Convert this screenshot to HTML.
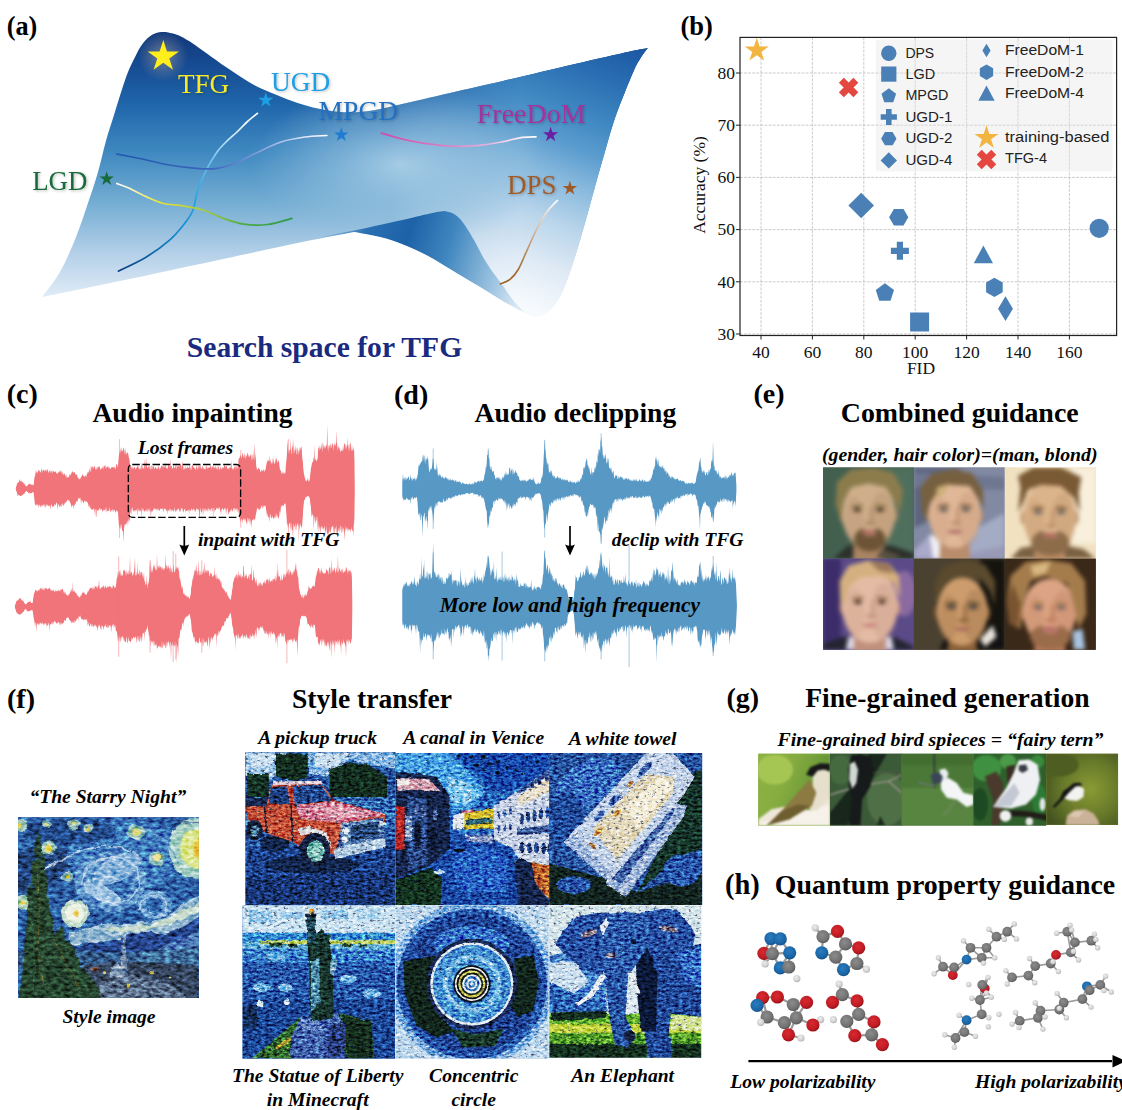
<!DOCTYPE html>
<html><head><meta charset="utf-8"><title>Figure</title>
<style>
html,body{margin:0;padding:0;background:#fff;}
body{width:1122px;height:1110px;overflow:hidden;font-family:"Liberation Serif",serif;}
svg{display:block;position:absolute;left:0;top:0;}
text{font-family:"Liberation Serif",serif;}
.b{font-weight:bold;}
.bi{font-weight:bold;font-style:italic;}
.sans{font-family:"Liberation Sans",sans-serif;}
</style></head><body>
<svg width="1122" height="1110" viewBox="0 0 1122 1110">
<defs>
<linearGradient id="a_v" x1="0" y1="32" x2="0" y2="316" gradientUnits="userSpaceOnUse">
<stop offset="0" stop-color="#10387a"/>
<stop offset="0.10" stop-color="#15488f"/>
<stop offset="0.25" stop-color="#1f65aa"/>
<stop offset="0.42" stop-color="#3e88c0"/>
<stop offset="0.60" stop-color="#74add3"/>
<stop offset="0.78" stop-color="#b4d0e8"/>
<stop offset="1" stop-color="#f4f8fd"/>
</linearGradient>
<radialGradient id="a_mid" cx="400" cy="165" r="150" gradientUnits="userSpaceOnUse" gradientTransform="translate(400 165) scale(1 0.55) translate(-400 -165)">
<stop offset="0" stop-color="#b4d5ea" stop-opacity="0.85"/>
<stop offset="0.6" stop-color="#9cc6e2" stop-opacity="0.4"/>
<stop offset="1" stop-color="#8fbddc" stop-opacity="0"/>
</radialGradient>
<linearGradient id="a_right" x1="648" y1="48" x2="540" y2="316" gradientUnits="userSpaceOnUse">
<stop offset="0" stop-color="#1a56a2"/>
<stop offset="0.15" stop-color="#2a6eb2"/>
<stop offset="0.3" stop-color="#3f88c2"/>
<stop offset="0.42" stop-color="#5c9dcf"/>
<stop offset="0.53" stop-color="#86b8dd"/>
<stop offset="0.68" stop-color="#b9d5eb"/>
<stop offset="0.83" stop-color="#dfeaf5"/>
<stop offset="1" stop-color="#f8fbfe"/>
</linearGradient>
<linearGradient id="a_rmask_g" x1="390" y1="0" x2="520" y2="0" gradientUnits="userSpaceOnUse">
<stop offset="0" stop-color="#fff" stop-opacity="0"/>
<stop offset="1" stop-color="#fff" stop-opacity="1"/>
</linearGradient>
<mask id="a_rmask"><rect x="0" y="0" width="700" height="340" fill="url(#a_rmask_g)"/></mask>
<linearGradient id="a_under" x1="320" y1="236" x2="520" y2="300" gradientUnits="userSpaceOnUse">
<stop offset="0" stop-color="#3a7fbc" stop-opacity="0"/>
<stop offset="0.2" stop-color="#2a70b2"/>
<stop offset="0.4" stop-color="#1d62a8"/>
<stop offset="0.6" stop-color="#3f86bf"/>
<stop offset="0.85" stop-color="#9cc3e0"/>
<stop offset="1" stop-color="#dbe9f5"/>
</linearGradient>
<radialGradient id="a_glow" cx="163" cy="56" r="25" gradientUnits="userSpaceOnUse">
<stop offset="0" stop-color="#d8b8a0" stop-opacity="0.45"/>
<stop offset="1" stop-color="#d8b8a0" stop-opacity="0"/>
</radialGradient>
<filter id="a_ts" x="-20%" y="-20%" width="140%" height="140%"><feGaussianBlur stdDeviation="1.6"/></filter>
<clipPath id="a_clip"><path d="M42.0,297.0 C45.0,292.8 54.3,282.0 60.0,272.0 C65.7,262.0 71.3,248.5 76.0,237.0 C80.7,225.5 84.3,213.8 88.0,203.0 C91.7,192.2 95.0,182.5 98.0,172.0 C101.0,161.5 103.5,149.5 106.2,140.0 C108.9,130.5 111.5,123.1 114.0,115.0 C116.5,106.9 119.1,98.5 121.4,91.3 C123.7,84.1 125.6,77.9 128.0,72.0 C130.4,66.1 133.5,60.0 135.7,55.7 C137.9,51.4 138.9,49.0 141.0,46.0 C143.1,43.0 145.7,39.9 148.0,37.8 C150.3,35.7 152.4,34.5 155.0,33.5 C157.6,32.5 160.8,32.2 163.3,32.1 C165.8,32.0 167.5,32.5 170.0,33.0 C172.5,33.5 175.2,33.9 178.4,35.2 C181.6,36.5 185.4,38.8 189.0,41.0 C192.6,43.2 193.8,44.3 199.8,48.5 C205.8,52.7 216.8,60.8 224.8,66.3 C232.8,71.8 240.9,77.3 248.0,81.5 C255.1,85.7 258.9,87.6 267.6,91.3 C276.3,95.0 290.4,100.7 300.0,103.8 C309.6,106.9 316.7,108.5 325.0,110.0 C333.3,111.5 341.7,112.5 350.0,112.5 C358.3,112.5 367.0,111.2 375.0,110.0 C383.0,108.8 385.5,107.8 398.0,105.0 C410.5,102.2 432.5,97.0 450.0,93.0 C467.5,89.0 482.2,85.8 503.0,81.0 C523.8,76.2 553.8,68.9 575.0,64.0 C596.2,59.1 617.8,54.2 630.0,51.5 C642.2,48.8 645.0,48.6 648.0,48.0 C647.3,48.8 645.3,51.2 644.0,53.0 C642.7,54.8 641.5,56.5 640.0,59.0 C638.5,61.5 637.5,62.5 635.0,68.0 C632.5,73.5 628.3,83.7 625.0,92.0 C621.7,100.3 618.2,108.7 615.0,118.0 C611.8,127.3 608.8,138.3 606.0,148.0 C603.2,157.7 600.7,166.5 598.0,176.0 C595.3,185.5 592.8,194.8 590.0,205.0 C587.2,215.2 583.8,227.3 581.0,237.0 C578.2,246.7 575.8,254.5 573.0,263.0 C570.2,271.5 566.8,281.3 564.0,288.0 C561.2,294.7 558.7,299.0 556.0,303.0 C553.3,307.0 550.7,309.8 548.0,312.0 C545.3,314.2 542.5,315.3 540.0,316.0 C537.5,316.7 535.5,316.5 533.0,316.0 C530.5,315.5 526.3,313.5 525.0,313.0 C521.8,311.3 512.2,306.5 506.0,303.0 C499.8,299.5 496.7,297.2 488.0,292.0 C479.3,286.8 464.0,277.6 454.0,271.6 C444.0,265.6 436.5,260.5 428.0,256.0 C419.5,251.5 411.0,247.7 403.0,244.5 C395.0,241.3 388.2,239.1 380.0,237.0 C371.8,234.9 358.3,232.8 354.0,232.0 C345.0,233.8 325.7,237.2 300.0,242.5 C274.3,247.8 230.0,257.6 200.0,264.0 C170.0,270.4 146.3,275.5 120.0,281.0 C93.7,286.5 55.0,294.3 42.0,297.0Z"/></clipPath>
</defs>
<path d="M42.0,297.0 C45.0,292.8 54.3,282.0 60.0,272.0 C65.7,262.0 71.3,248.5 76.0,237.0 C80.7,225.5 84.3,213.8 88.0,203.0 C91.7,192.2 95.0,182.5 98.0,172.0 C101.0,161.5 103.5,149.5 106.2,140.0 C108.9,130.5 111.5,123.1 114.0,115.0 C116.5,106.9 119.1,98.5 121.4,91.3 C123.7,84.1 125.6,77.9 128.0,72.0 C130.4,66.1 133.5,60.0 135.7,55.7 C137.9,51.4 138.9,49.0 141.0,46.0 C143.1,43.0 145.7,39.9 148.0,37.8 C150.3,35.7 152.4,34.5 155.0,33.5 C157.6,32.5 160.8,32.2 163.3,32.1 C165.8,32.0 167.5,32.5 170.0,33.0 C172.5,33.5 175.2,33.9 178.4,35.2 C181.6,36.5 185.4,38.8 189.0,41.0 C192.6,43.2 193.8,44.3 199.8,48.5 C205.8,52.7 216.8,60.8 224.8,66.3 C232.8,71.8 240.9,77.3 248.0,81.5 C255.1,85.7 258.9,87.6 267.6,91.3 C276.3,95.0 290.4,100.7 300.0,103.8 C309.6,106.9 316.7,108.5 325.0,110.0 C333.3,111.5 341.7,112.5 350.0,112.5 C358.3,112.5 367.0,111.2 375.0,110.0 C383.0,108.8 385.5,107.8 398.0,105.0 C410.5,102.2 432.5,97.0 450.0,93.0 C467.5,89.0 482.2,85.8 503.0,81.0 C523.8,76.2 553.8,68.9 575.0,64.0 C596.2,59.1 617.8,54.2 630.0,51.5 C642.2,48.8 645.0,48.6 648.0,48.0 C647.3,48.8 645.3,51.2 644.0,53.0 C642.7,54.8 641.5,56.5 640.0,59.0 C638.5,61.5 637.5,62.5 635.0,68.0 C632.5,73.5 628.3,83.7 625.0,92.0 C621.7,100.3 618.2,108.7 615.0,118.0 C611.8,127.3 608.8,138.3 606.0,148.0 C603.2,157.7 600.7,166.5 598.0,176.0 C595.3,185.5 592.8,194.8 590.0,205.0 C587.2,215.2 583.8,227.3 581.0,237.0 C578.2,246.7 575.8,254.5 573.0,263.0 C570.2,271.5 566.8,281.3 564.0,288.0 C561.2,294.7 558.7,299.0 556.0,303.0 C553.3,307.0 550.7,309.8 548.0,312.0 C545.3,314.2 542.5,315.3 540.0,316.0 C537.5,316.7 535.5,316.5 533.0,316.0 C530.5,315.5 526.3,313.5 525.0,313.0 C521.8,311.3 512.2,306.5 506.0,303.0 C499.8,299.5 496.7,297.2 488.0,292.0 C479.3,286.8 464.0,277.6 454.0,271.6 C444.0,265.6 436.5,260.5 428.0,256.0 C419.5,251.5 411.0,247.7 403.0,244.5 C395.0,241.3 388.2,239.1 380.0,237.0 C371.8,234.9 358.3,232.8 354.0,232.0 C345.0,233.8 325.7,237.2 300.0,242.5 C274.3,247.8 230.0,257.6 200.0,264.0 C170.0,270.4 146.3,275.5 120.0,281.0 C93.7,286.5 55.0,294.3 42.0,297.0Z" fill="url(#a_v)"/>
<g clip-path="url(#a_clip)"><rect x="0" y="0" width="700" height="340" fill="url(#a_right)" mask="url(#a_rmask)"/>
<rect x="200" y="60" width="420" height="220" fill="url(#a_mid)"/>
<path d="M300.0,241.0 C309.0,239.2 337.3,233.9 354.0,230.5 C370.7,227.1 387.3,223.3 400.0,220.5 C412.7,217.7 422.7,215.1 430.0,213.5 C437.3,211.9 441.7,211.4 444.0,211.0 C445.3,211.3 449.7,212.0 452.0,213.0 C454.3,214.0 456.0,215.2 458.0,217.0 C460.0,218.8 461.3,220.2 464.0,224.0 C466.7,227.8 470.8,234.5 474.0,240.0 C477.2,245.5 480.0,251.8 483.0,257.0 C486.0,262.2 489.0,266.7 492.0,271.0 C495.0,275.3 497.5,278.2 501.0,283.0 C504.5,287.8 509.0,295.0 513.0,300.0 C517.0,305.0 523.0,310.8 525.0,313.0 C521.8,311.3 512.2,306.5 506.0,303.0 C499.8,299.5 496.7,297.2 488.0,292.0 C479.3,286.8 464.0,277.6 454.0,271.6 C444.0,265.6 436.5,260.5 428.0,256.0 C419.5,251.5 411.0,247.7 403.0,244.5 C395.0,241.3 388.2,239.1 380.0,237.0 C371.8,234.9 358.3,232.8 354.0,232.0 L300,242.5 Z" fill="url(#a_under)"/>
<circle cx="163" cy="56" r="30" fill="url(#a_glow)"/>
</g>
<defs>
<linearGradient id="a_g_ugd" x1="257.4" y1="113.4" x2="118.5" y2="271" gradientUnits="userSpaceOnUse"><stop offset="0" stop-color="#ffffff"/><stop offset="0.12" stop-color="#e6f3fb"/><stop offset="0.3" stop-color="#7cc6ee"/><stop offset="0.5" stop-color="#22a3e2"/><stop offset="0.7" stop-color="#1585c8"/><stop offset="1" stop-color="#0b3f82"/></linearGradient>
<linearGradient id="a_g_mpgd" x1="326.8" y1="135.5" x2="116.8" y2="154" gradientUnits="userSpaceOnUse"><stop offset="0" stop-color="#ffffff"/><stop offset="0.1" stop-color="#dfe8f8"/><stop offset="0.3" stop-color="#8ba6de"/><stop offset="0.55" stop-color="#3d66bd"/><stop offset="1" stop-color="#1f55ab"/></linearGradient>
<linearGradient id="a_g_lgd" x1="116.8" y1="183.5" x2="291.9" y2="218.4" gradientUnits="userSpaceOnUse"><stop offset="0" stop-color="#ffffff"/><stop offset="0.08" stop-color="#f6f6c8"/><stop offset="0.25" stop-color="#e6e23a"/><stop offset="0.5" stop-color="#a8cc3c"/><stop offset="0.75" stop-color="#4caa48"/><stop offset="1" stop-color="#2f9a48"/></linearGradient>
<linearGradient id="a_g_fdm" x1="381.3" y1="133.1" x2="536" y2="136.8" gradientUnits="userSpaceOnUse"><stop offset="0" stop-color="#cf4aa8"/><stop offset="0.4" stop-color="#d77fc4"/><stop offset="0.7" stop-color="#e3b4dc"/><stop offset="0.9" stop-color="#f7eef7"/><stop offset="1" stop-color="#ffffff"/></linearGradient>
<linearGradient id="a_g_dps" x1="557.4" y1="200.5" x2="500.5" y2="283.8" gradientUnits="userSpaceOnUse"><stop offset="0" stop-color="#ffffff"/><stop offset="0.15" stop-color="#efe4da"/><stop offset="0.45" stop-color="#c9a888"/><stop offset="0.75" stop-color="#a87340"/><stop offset="1" stop-color="#9a6426"/></linearGradient>
<filter id="a_sh" x="-10%" y="-30%" width="120%" height="160%"><feGaussianBlur in="SourceAlpha" stdDeviation="1.4" result="b"/><feOffset in="b" dx="0.6" dy="0.8" result="o"/><feComponentTransfer in="o" result="s"><feFuncA type="linear" slope="0.28"/></feComponentTransfer><feMerge><feMergeNode in="s"/><feMergeNode in="SourceGraphic"/></feMerge></filter>
</defs>
<path d="M257.4,113.4 C255.7,114.8 250.4,118.9 247.0,122.0 C243.6,125.1 240.5,128.7 237.0,132.0 C233.5,135.3 229.4,138.6 226.0,142.0 C222.6,145.4 219.9,147.8 216.7,152.4 C213.5,157.0 209.7,163.1 206.6,169.3 C203.5,175.5 200.3,182.8 198.0,189.6 C195.7,196.4 195.2,204.3 193.0,210.0 C190.8,215.7 188.5,218.4 184.6,223.5 C180.7,228.6 175.8,234.8 169.3,240.4 C162.8,246.1 154.1,252.3 145.6,257.4 C137.1,262.5 123.0,268.7 118.5,271.0" fill="none" stroke="url(#a_g_ugd)" stroke-width="1.7" stroke-linecap="round"/>
<path d="M326.8,135.5 C323.1,135.8 312.4,135.9 304.8,137.0 C297.2,138.1 288.9,139.4 281.0,142.0 C273.1,144.6 264.7,149.0 257.4,152.4 C250.1,155.8 243.8,159.8 237.0,162.5 C230.2,165.2 223.5,167.3 216.7,168.3 C209.9,169.3 204.3,168.9 196.4,168.3 C188.5,167.8 178.3,166.6 169.3,165.0 C160.3,163.4 150.9,160.8 142.2,159.0 C133.4,157.2 121.0,154.8 116.8,154.0" fill="none" stroke="url(#a_g_mpgd)" stroke-width="1.7" stroke-linecap="round"/>
<path d="M116.8,183.5 C118.8,184.2 123.9,185.8 128.7,188.0 C133.5,190.2 140.0,193.9 145.6,196.4 C151.2,198.9 156.3,201.6 162.5,203.2 C168.7,204.8 176.1,204.8 182.9,205.9 C189.7,207.0 196.4,207.9 203.2,210.0 C210.0,212.1 216.7,216.0 223.5,218.4 C230.3,220.8 236.5,223.2 243.8,224.2 C251.1,225.2 259.5,225.5 267.5,224.5 C275.5,223.5 287.8,219.4 291.9,218.4" fill="none" stroke="url(#a_g_lgd)" stroke-width="1.7" stroke-linecap="round"/>
<path d="M381.3,133.1 C384.7,134.1 393.7,137.0 401.6,138.8 C409.5,140.6 419.7,142.7 428.7,143.9 C437.7,145.2 446.8,146.1 455.8,146.3 C464.8,146.5 475.0,145.7 482.9,144.9 C490.8,144.1 497.0,142.8 503.2,141.6 C509.4,140.4 514.6,138.6 520.1,137.8 C525.6,137.0 533.4,137.0 536.0,136.8" fill="none" stroke="url(#a_g_fdm)" stroke-width="1.7" stroke-linecap="round"/>
<path d="M557.4,200.5 C555.7,202.3 550.6,206.9 547.2,211.6 C543.8,216.3 540.4,222.1 537.0,228.6 C533.6,235.1 530.0,243.8 526.9,250.6 C523.8,257.4 521.2,264.4 518.4,269.2 C515.6,274.0 513.0,277.0 510.0,279.4 C507.0,281.8 502.1,283.1 500.5,283.8" fill="none" stroke="url(#a_g_dps)" stroke-width="1.7" stroke-linecap="round"/>
<path d="M163.30,40.00 L167.00,51.40 L178.99,51.40 L169.29,58.45 L173.00,69.85 L163.30,62.80 L153.60,69.85 L157.31,58.45 L147.61,51.40 L159.60,51.40Z" fill="#ffee1c"/>
<path d="M265.80,92.20 L267.60,97.73 L273.41,97.73 L268.71,101.14 L270.50,106.67 L265.80,103.26 L261.10,106.67 L262.89,101.14 L258.19,97.73 L264.00,97.73Z" fill="#1e9fe3"/>
<path d="M341.30,127.20 L343.01,132.45 L348.53,132.45 L344.06,135.70 L345.77,140.95 L341.30,137.70 L336.83,140.95 L338.54,135.70 L334.07,132.45 L339.59,132.45Z" fill="#1f7bd0"/>
<path d="M106.70,171.20 L108.41,176.45 L113.93,176.45 L109.46,179.70 L111.17,184.95 L106.70,181.70 L102.23,184.95 L103.94,179.70 L99.47,176.45 L104.99,176.45Z" fill="#176b3a"/>
<path d="M550.60,126.80 L552.40,132.33 L558.21,132.33 L553.51,135.74 L555.30,141.27 L550.60,137.86 L545.90,141.27 L547.69,135.74 L542.99,132.33 L548.80,132.33Z" fill="#6d1fa3"/>
<path d="M569.90,180.70 L571.61,185.95 L577.13,185.95 L572.66,189.20 L574.37,194.45 L569.90,191.20 L565.43,194.45 L567.14,189.20 L562.67,185.95 L568.19,185.95Z" fill="#a05a28"/>
<g font-size="27.4" filter="url(#a_sh)">
<text id="a_tfg" x="177.9" y="93.4" fill="#f7e926" textLength="51.3" lengthAdjust="spacingAndGlyphs">TFG</text>
<text id="a_ugd" x="270.9" y="91.4" fill="#1e9fe3" textLength="59.3" lengthAdjust="spacingAndGlyphs">UGD</text>
<text id="a_mpgd" x="318.6" y="120.2" fill="#2470c2" textLength="79.6" lengthAdjust="spacingAndGlyphs">MPGD</text>
<text id="a_lgd" x="32.2" y="189.6" fill="#176b3a" textLength="55.2" lengthAdjust="spacingAndGlyphs">LGD</text>
<text id="a_fdm" x="476.8" y="122.6" fill="#a2329c" textLength="108.7" lengthAdjust="spacingAndGlyphs">FreeDoM</text>
<text id="a_dps" x="507.2" y="194" fill="#a05a28" textLength="49.1" lengthAdjust="spacingAndGlyphs">DPS</text>
</g>
<defs><clipPath id="b_legclip"><rect x="875.8" y="39.4" width="236.8" height="132"/></clipPath></defs>
<rect x="740.0" y="37.4" width="376.5999999999999" height="298.1" fill="#fff"/>
<line x1="761.0" y1="37.4" x2="761.0" y2="335.5" stroke="#bdbdbd" stroke-width="0.8" stroke-dasharray="2.8 1.3"/>
<line x1="812.4" y1="37.4" x2="812.4" y2="335.5" stroke="#bdbdbd" stroke-width="0.8" stroke-dasharray="2.8 1.3"/>
<line x1="863.8" y1="37.4" x2="863.8" y2="335.5" stroke="#bdbdbd" stroke-width="0.8" stroke-dasharray="2.8 1.3"/>
<line x1="915.2" y1="37.4" x2="915.2" y2="335.5" stroke="#bdbdbd" stroke-width="0.8" stroke-dasharray="2.8 1.3"/>
<line x1="966.6" y1="37.4" x2="966.6" y2="335.5" stroke="#bdbdbd" stroke-width="0.8" stroke-dasharray="2.8 1.3"/>
<line x1="1018.0" y1="37.4" x2="1018.0" y2="335.5" stroke="#bdbdbd" stroke-width="0.8" stroke-dasharray="2.8 1.3"/>
<line x1="1069.4" y1="37.4" x2="1069.4" y2="335.5" stroke="#bdbdbd" stroke-width="0.8" stroke-dasharray="2.8 1.3"/>
<line x1="740.0" y1="334.0" x2="1116.6" y2="334.0" stroke="#bdbdbd" stroke-width="0.8" stroke-dasharray="2.8 1.3"/>
<line x1="740.0" y1="281.8" x2="1116.6" y2="281.8" stroke="#bdbdbd" stroke-width="0.8" stroke-dasharray="2.8 1.3"/>
<line x1="740.0" y1="229.6" x2="1116.6" y2="229.6" stroke="#bdbdbd" stroke-width="0.8" stroke-dasharray="2.8 1.3"/>
<line x1="740.0" y1="177.4" x2="1116.6" y2="177.4" stroke="#bdbdbd" stroke-width="0.8" stroke-dasharray="2.8 1.3"/>
<line x1="740.0" y1="125.2" x2="1116.6" y2="125.2" stroke="#bdbdbd" stroke-width="0.8" stroke-dasharray="2.8 1.3"/>
<line x1="740.0" y1="73.0" x2="1116.6" y2="73.0" stroke="#bdbdbd" stroke-width="0.8" stroke-dasharray="2.8 1.3"/>
<polygon points="756.80,37.80 759.63,46.51 768.78,46.51 761.38,51.89 764.21,60.59 756.80,55.21 749.39,60.59 752.22,51.89 744.82,46.51 753.97,46.51" fill="#f2b542"/>
<g transform="rotate(45 848.6 87.5)"><path d="M845.1,77.25h7.0v6.75h6.75v7.0h-6.75v6.75h-7.0v-6.75h-6.75v-7.0h6.75z" fill="#e4473f"/></g>
<polygon points="874.00,205.50 861.20,218.30 848.40,205.50 861.20,192.70" fill="#4a80b5"/>
<polygon points="908.30,217.30 903.50,225.61 893.90,225.61 889.10,217.30 893.90,208.99 903.50,208.99" fill="#4a80b5"/>
<path d="M896.8,241.8h6.2v5.9h5.9v6.2h-5.9v5.9h-6.2v-5.9h-5.9v-6.2h5.9z" fill="#4a80b5"/>
<polygon points="884.90,283.30 894.03,289.93 890.54,300.67 879.26,300.67 875.77,289.93" fill="#4a80b5"/>
<rect x="910.10" y="312.50" width="19.00" height="19.00" fill="#4a80b5"/>
<polygon points="983.4,245.40 993.00,263.30 973.80,263.30" fill="#4a80b5"/>
<polygon points="994.40,297.00 986.09,292.20 986.09,282.60 994.40,277.80 1002.71,282.60 1002.71,292.20" fill="#4a80b5"/>
<polygon points="1012.94,308.70 1005.50,321.10 998.06,308.70 1005.50,296.30" fill="#4a80b5"/>
<circle cx="1099.2" cy="228.3" r="9.60" fill="#4a80b5"/>
<rect x="875.8" y="39.4" width="236.8" height="132" rx="3" fill="#f2f2f2" fill-opacity="0.8"/>
<g clip-path="url(#b_legclip)" opacity="0.55">
<line x1="915.2" y1="39.4" x2="915.2" y2="171.4" stroke="#bdbdbd" stroke-width="0.8" stroke-dasharray="2.8 1.3"/>
<line x1="966.6" y1="39.4" x2="966.6" y2="171.4" stroke="#bdbdbd" stroke-width="0.8" stroke-dasharray="2.8 1.3"/>
<line x1="1018.0" y1="39.4" x2="1018.0" y2="171.4" stroke="#bdbdbd" stroke-width="0.8" stroke-dasharray="2.8 1.3"/>
<line x1="1069.4" y1="39.4" x2="1069.4" y2="171.4" stroke="#bdbdbd" stroke-width="0.8" stroke-dasharray="2.8 1.3"/>
<line x1="875.8" y1="125.2" x2="1112.6" y2="125.2" stroke="#bdbdbd" stroke-width="0.8" stroke-dasharray="2.8 1.3"/>
<line x1="875.8" y1="73.0" x2="1112.6" y2="73.0" stroke="#bdbdbd" stroke-width="0.8" stroke-dasharray="2.8 1.3"/>
</g>
<circle cx="888.8" cy="53.2" r="7.68" fill="#4a80b5"/>
<text class="sans" x="905.4" y="57.9" font-size="15.2" fill="#222" textLength="28.8" lengthAdjust="spacingAndGlyphs">DPS</text>
<rect x="881.20" y="66.50" width="15.20" height="15.20" fill="#4a80b5"/>
<text class="sans" x="905.4" y="78.8" font-size="15.2" fill="#222" textLength="29.8" lengthAdjust="spacingAndGlyphs">LGD</text>
<polygon points="888.80,88.36 896.10,93.67 893.31,102.25 884.29,102.25 881.50,93.67" fill="#4a80b5"/>
<text class="sans" x="905.4" y="100.1" font-size="15.2" fill="#222" textLength="43" lengthAdjust="spacingAndGlyphs">MPGD</text>
<path d="M886.01,108.9h5.58v5.31h5.31v5.58h-5.31v5.31h-5.58v-5.31h-5.31v-5.58h5.31z" fill="#4a80b5"/>
<text class="sans" x="905.4" y="121.7" font-size="15.2" fill="#222" textLength="47" lengthAdjust="spacingAndGlyphs">UGD-1</text>
<polygon points="896.48,138.70 892.64,145.35 884.96,145.35 881.12,138.70 884.96,132.05 892.64,132.05" fill="#4a80b5"/>
<text class="sans" x="905.4" y="143.4" font-size="15.2" fill="#222" textLength="47" lengthAdjust="spacingAndGlyphs">UGD-2</text>
<polygon points="896.99,160.40 888.80,168.59 880.61,160.40 888.80,152.21" fill="#4a80b5"/>
<text class="sans" x="905.4" y="165.1" font-size="15.2" fill="#222" textLength="47" lengthAdjust="spacingAndGlyphs">UGD-4</text>
<polygon points="990.59,50.50 986.50,57.32 982.41,50.50 986.50,43.68" fill="#4a80b5"/>
<text class="sans" x="1005" y="55.4" font-size="15.2" fill="#222" textLength="79" lengthAdjust="spacingAndGlyphs">FreeDoM-1</text>
<polygon points="986.50,79.88 979.85,76.04 979.85,68.36 986.50,64.52 993.15,68.36 993.15,76.04" fill="#4a80b5"/>
<text class="sans" x="1005" y="77.1" font-size="15.2" fill="#222" textLength="79" lengthAdjust="spacingAndGlyphs">FreeDoM-2</text>
<polygon points="986.5,85.59 994.66,100.81 978.34,100.81" fill="#4a80b5"/>
<text class="sans" x="1005" y="98.4" font-size="15.2" fill="#222" textLength="79" lengthAdjust="spacingAndGlyphs">FreeDoM-4</text>
<polygon points="986.50,125.20 989.33,133.91 998.48,133.91 991.08,139.29 993.91,147.99 986.50,142.61 979.09,147.99 981.92,139.29 974.52,133.91 983.67,133.91" fill="#f2b542"/>
<text class="sans" x="1005" y="141.7" font-size="15.2" fill="#222" textLength="104.4" lengthAdjust="spacingAndGlyphs">training-based</text>
<g transform="rotate(45 986.5 159.5)"><path d="M983.0,149.25h7.0v6.75h6.75v7.0h-6.75v6.75h-7.0v-6.75h-6.75v-7.0h6.75z" fill="#e4473f"/></g>
<text class="sans" x="1005" y="163.4" font-size="15.2" fill="#222" textLength="42" lengthAdjust="spacingAndGlyphs">TFG-4</text>
<rect x="740.0" y="37.4" width="376.5999999999999" height="298.1" fill="none" stroke="#222" stroke-width="1.2"/>
<line x1="761.0" y1="335.5" x2="761.0" y2="339.5" stroke="#222" stroke-width="1"/>
<text x="761.0" y="357.5" font-size="17.5" text-anchor="middle" fill="#111">40</text>
<line x1="812.4" y1="335.5" x2="812.4" y2="339.5" stroke="#222" stroke-width="1"/>
<text x="812.4" y="357.5" font-size="17.5" text-anchor="middle" fill="#111">60</text>
<line x1="863.8" y1="335.5" x2="863.8" y2="339.5" stroke="#222" stroke-width="1"/>
<text x="863.8" y="357.5" font-size="17.5" text-anchor="middle" fill="#111">80</text>
<line x1="915.2" y1="335.5" x2="915.2" y2="339.5" stroke="#222" stroke-width="1"/>
<text x="915.2" y="357.5" font-size="17.5" text-anchor="middle" fill="#111">100</text>
<line x1="966.6" y1="335.5" x2="966.6" y2="339.5" stroke="#222" stroke-width="1"/>
<text x="966.6" y="357.5" font-size="17.5" text-anchor="middle" fill="#111">120</text>
<line x1="1018.0" y1="335.5" x2="1018.0" y2="339.5" stroke="#222" stroke-width="1"/>
<text x="1018.0" y="357.5" font-size="17.5" text-anchor="middle" fill="#111">140</text>
<line x1="1069.4" y1="335.5" x2="1069.4" y2="339.5" stroke="#222" stroke-width="1"/>
<text x="1069.4" y="357.5" font-size="17.5" text-anchor="middle" fill="#111">160</text>
<line x1="736.0" y1="334.0" x2="740.0" y2="334.0" stroke="#222" stroke-width="1"/>
<text x="735" y="339.8" font-size="17.5" text-anchor="end" fill="#111">30</text>
<line x1="736.0" y1="281.8" x2="740.0" y2="281.8" stroke="#222" stroke-width="1"/>
<text x="735" y="287.6" font-size="17.5" text-anchor="end" fill="#111">40</text>
<line x1="736.0" y1="229.6" x2="740.0" y2="229.6" stroke="#222" stroke-width="1"/>
<text x="735" y="235.4" font-size="17.5" text-anchor="end" fill="#111">50</text>
<line x1="736.0" y1="177.4" x2="740.0" y2="177.4" stroke="#222" stroke-width="1"/>
<text x="735" y="183.2" font-size="17.5" text-anchor="end" fill="#111">60</text>
<line x1="736.0" y1="125.2" x2="740.0" y2="125.2" stroke="#222" stroke-width="1"/>
<text x="735" y="131.0" font-size="17.5" text-anchor="end" fill="#111">70</text>
<line x1="736.0" y1="73.0" x2="740.0" y2="73.0" stroke="#222" stroke-width="1"/>
<text x="735" y="78.8" font-size="17.5" text-anchor="end" fill="#111">80</text>
<text x="921" y="374" font-size="17.5" text-anchor="middle" fill="#111">FID</text>
<text transform="translate(704.5 185) rotate(-90)" font-size="17.5" text-anchor="middle" fill="#111">Accuracy (%)</text>
<path d="M15.8,488.7 L16.3,486.8 L16.7,485.3 L17.2,482.7 L17.6,483.2 L18.1,482.4 L18.5,482.3 L19.0,481.9 L19.4,478.8 L19.9,481.0 L20.3,481.7 L20.8,480.3 L21.2,481.8 L21.7,480.2 L22.1,482.2 L22.6,482.1 L23.0,482.2 L23.5,483.6 L23.9,483.2 L24.4,483.4 L24.8,484.9 L25.3,485.3 L25.7,486.2 L26.2,486.4 L26.6,486.6 L27.1,486.2 L27.5,485.5 L28.0,484.9 L28.4,484.2 L28.9,483.9 L29.3,483.2 L29.8,484.6 L30.2,484.5 L30.7,483.8 L31.1,484.7 L31.6,484.9 L32.0,484.2 L32.5,485.1 L32.9,485.6 L33.4,486.0 L33.8,484.2 L34.3,478.7 L34.7,476.6 L35.2,475.6 L35.6,471.7 L36.1,470.2 L36.5,472.2 L37.0,472.9 L37.4,471.6 L37.9,473.6 L38.3,470.3 L38.8,470.1 L39.2,470.7 L39.7,470.5 L40.1,472.7 L40.6,472.0 L41.0,471.0 L41.5,468.2 L41.9,470.2 L42.4,470.2 L42.8,473.2 L43.3,469.6 L43.7,470.0 L44.2,469.6 L44.6,471.7 L45.1,470.3 L45.5,469.4 L46.0,471.5 L46.4,469.3 L46.9,472.1 L47.3,469.3 L47.8,469.3 L48.2,472.3 L48.7,473.1 L49.1,470.6 L49.6,472.1 L50.0,469.8 L50.5,471.2 L50.9,473.5 L51.4,471.3 L51.8,470.4 L52.3,473.8 L52.7,470.2 L53.2,472.3 L53.6,470.3 L54.1,471.4 L54.5,472.0 L55.0,472.0 L55.4,471.2 L55.9,471.7 L56.3,474.0 L56.8,472.6 L57.2,474.3 L57.7,473.0 L58.1,472.5 L58.6,471.4 L59.0,473.3 L59.5,470.4 L59.9,471.9 L60.4,470.2 L60.8,472.2 L61.3,470.3 L61.7,473.5 L62.2,471.5 L62.6,473.5 L63.1,475.0 L63.5,474.5 L64.0,473.0 L64.4,474.6 L64.9,473.7 L65.3,476.4 L65.8,475.2 L66.2,474.2 L66.7,477.9 L67.1,477.7 L67.6,477.1 L68.0,477.0 L68.5,476.8 L68.9,477.5 L69.4,475.3 L69.8,473.6 L70.3,475.0 L70.7,475.4 L71.2,473.5 L71.6,472.4 L72.1,472.5 L72.5,470.9 L73.0,471.8 L73.4,472.2 L73.9,472.9 L74.3,471.8 L74.8,472.5 L75.2,474.4 L75.7,473.8 L76.1,475.1 L76.6,475.0 L77.0,473.4 L77.5,477.8 L77.9,477.0 L78.4,478.1 L78.8,479.2 L79.3,479.2 L79.7,478.8 L80.2,479.1 L80.6,477.9 L81.1,476.7 L81.5,476.8 L82.0,475.6 L82.4,474.3 L82.9,474.7 L83.3,476.0 L83.8,475.9 L84.2,476.5 L84.7,476.5 L85.1,476.6 L85.6,474.4 L86.0,477.3 L86.5,476.1 L86.9,474.1 L87.4,473.4 L87.8,471.4 L88.3,473.0 L88.7,471.8 L89.2,468.7 L89.6,472.2 L90.1,464.9 L90.5,471.7 L91.0,471.5 L91.4,467.2 L91.9,466.2 L92.3,466.0 L92.8,467.8 L93.2,468.6 L93.7,467.3 L94.1,466.8 L94.6,466.0 L95.0,466.5 L95.5,470.4 L95.9,468.6 L96.4,470.1 L96.8,466.9 L97.3,466.5 L97.7,469.3 L98.2,466.6 L98.6,467.2 L99.1,466.3 L99.5,466.3 L100.0,467.9 L100.4,470.3 L100.9,469.0 L101.3,467.9 L101.8,468.8 L102.2,468.0 L102.7,466.3 L103.1,469.8 L103.6,466.4 L104.0,465.6 L104.5,465.4 L104.9,466.9 L105.4,464.6 L105.8,469.0 L106.3,467.7 L106.7,467.0 L107.2,466.0 L107.6,467.2 L108.1,466.8 L108.5,466.6 L109.0,469.3 L109.4,467.8 L109.9,467.3 L110.3,469.3 L110.8,468.7 L111.2,467.4 L111.7,467.4 L112.1,467.0 L112.6,467.2 L113.0,466.9 L113.5,468.3 L113.9,466.7 L114.4,468.2 L114.8,466.3 L115.3,469.6 L115.7,468.4 L116.2,463.8 L116.6,464.8 L117.1,464.0 L117.5,467.0 L118.0,466.8 L118.4,461.1 L118.9,455.3 L119.3,453.3 L119.8,450.7 L120.2,453.2 L120.7,447.6 L121.1,451.8 L121.6,446.8 L122.0,451.5 L122.5,451.0 L122.9,450.2 L123.4,447.4 L123.8,448.4 L124.3,450.0 L124.7,453.3 L125.2,454.6 L125.6,447.4 L126.1,452.9 L126.5,455.1 L127.0,452.0 L127.4,453.0 L127.9,452.5 L128.3,454.2 L128.8,457.6 L129.2,458.3 L129.7,461.6 L130.1,466.4 L130.6,465.5 L131.0,466.8 L131.5,468.5 L131.9,466.4 L132.4,469.9 L132.8,465.3 L133.3,468.7 L133.7,468.3 L134.2,467.0 L134.6,466.9 L135.1,468.1 L135.5,469.9 L136.0,467.9 L136.4,467.4 L136.9,468.2 L137.3,465.7 L137.8,466.6 L138.2,465.6 L138.7,468.4 L139.1,468.2 L139.6,468.7 L140.0,470.1 L140.5,468.2 L140.9,466.1 L141.4,462.0 L141.8,470.2 L142.3,467.5 L142.7,465.4 L143.2,468.9 L143.6,468.3 L144.1,468.5 L144.5,458.3 L145.0,468.6 L145.4,459.1 L145.9,469.3 L146.3,457.1 L146.8,465.8 L147.2,468.4 L147.7,467.7 L148.1,466.4 L148.6,467.2 L149.0,464.7 L149.5,466.2 L149.9,469.3 L150.4,470.1 L150.8,465.4 L151.3,465.0 L151.7,468.9 L152.2,469.2 L152.6,466.0 L153.1,466.5 L153.5,466.1 L154.0,467.2 L154.4,468.9 L154.9,468.7 L155.3,466.5 L155.8,467.5 L156.2,468.1 L156.7,469.4 L157.1,466.9 L157.6,468.8 L158.0,469.4 L158.5,466.0 L158.9,465.6 L159.4,469.1 L159.8,469.9 L160.3,467.1 L160.7,468.9 L161.2,465.0 L161.6,466.4 L162.1,465.8 L162.5,465.9 L163.0,468.8 L163.4,465.9 L163.9,465.7 L164.3,467.5 L164.8,465.9 L165.2,462.3 L165.7,466.2 L166.1,468.8 L166.6,467.5 L167.0,468.0 L167.5,469.5 L167.9,465.9 L168.4,464.4 L168.8,465.2 L169.3,467.4 L169.7,465.0 L170.2,467.8 L170.6,458.4 L171.1,465.8 L171.5,465.8 L172.0,467.7 L172.4,467.7 L172.9,469.4 L173.3,465.6 L173.8,464.9 L174.2,467.2 L174.7,468.2 L175.1,467.6 L175.6,463.3 L176.0,469.0 L176.5,468.5 L176.9,461.8 L177.4,465.9 L177.8,467.2 L178.3,465.3 L178.7,466.4 L179.2,467.6 L179.6,465.1 L180.1,465.3 L180.5,463.3 L181.0,465.5 L181.4,465.6 L181.9,469.6 L182.3,460.0 L182.8,465.1 L183.2,465.9 L183.7,470.1 L184.1,470.0 L184.6,467.6 L185.0,469.1 L185.5,465.3 L185.9,469.6 L186.4,467.9 L186.8,468.0 L187.3,465.8 L187.7,467.7 L188.2,467.8 L188.6,467.4 L189.1,468.8 L189.5,465.5 L190.0,465.3 L190.4,467.9 L190.9,470.1 L191.3,470.1 L191.8,465.6 L192.2,465.0 L192.7,465.1 L193.1,466.5 L193.6,467.2 L194.0,467.4 L194.5,469.1 L194.9,466.9 L195.4,469.4 L195.8,470.1 L196.3,466.6 L196.7,465.6 L197.2,467.1 L197.6,470.1 L198.1,467.5 L198.5,465.0 L199.0,469.6 L199.4,465.3 L199.9,466.3 L200.3,464.1 L200.8,468.6 L201.2,469.1 L201.7,467.8 L202.1,466.8 L202.6,465.4 L203.0,469.4 L203.5,468.4 L203.9,466.7 L204.4,469.6 L204.8,468.7 L205.3,470.0 L205.7,467.8 L206.2,465.6 L206.6,465.8 L207.1,469.6 L207.5,467.4 L208.0,468.2 L208.4,467.7 L208.9,467.2 L209.3,467.8 L209.8,467.0 L210.2,465.7 L210.7,465.5 L211.1,469.8 L211.6,466.4 L212.0,467.5 L212.5,466.9 L212.9,465.2 L213.4,465.1 L213.8,468.4 L214.3,466.5 L214.7,468.2 L215.2,468.5 L215.6,465.4 L216.1,467.1 L216.5,467.9 L217.0,469.5 L217.4,469.9 L217.9,465.6 L218.3,468.4 L218.8,465.0 L219.2,470.0 L219.7,469.4 L220.1,467.2 L220.6,467.2 L221.0,469.8 L221.5,468.4 L221.9,468.6 L222.4,466.8 L222.8,469.0 L223.3,467.1 L223.7,468.3 L224.2,465.6 L224.6,465.1 L225.1,466.3 L225.5,466.5 L226.0,467.6 L226.4,466.3 L226.9,465.9 L227.3,468.6 L227.8,469.3 L228.2,467.2 L228.7,470.1 L229.1,467.5 L229.6,468.8 L230.0,465.4 L230.5,467.9 L230.9,466.9 L231.4,459.8 L231.8,468.2 L232.3,467.9 L232.7,469.9 L233.2,467.8 L233.6,470.0 L234.1,468.1 L234.5,467.0 L235.0,466.0 L235.4,465.7 L235.9,469.9 L236.3,467.5 L236.8,465.5 L237.2,469.4 L237.7,465.9 L238.1,465.9 L238.6,458.5 L239.0,459.5 L239.5,456.3 L239.9,458.2 L240.4,455.1 L240.8,455.6 L241.3,457.2 L241.7,458.8 L242.2,454.3 L242.6,452.8 L243.1,455.1 L243.5,458.1 L244.0,455.1 L244.4,452.8 L244.9,458.7 L245.3,454.8 L245.8,459.7 L246.2,454.7 L246.7,457.1 L247.1,452.8 L247.6,452.9 L248.0,456.0 L248.5,454.3 L248.9,457.8 L249.4,456.8 L249.8,456.2 L250.3,453.6 L250.7,456.5 L251.2,453.6 L251.6,459.3 L252.1,459.9 L252.5,453.0 L253.0,459.7 L253.4,457.6 L253.9,450.4 L254.3,443.1 L254.8,461.5 L255.2,457.5 L255.7,452.4 L256.1,464.4 L256.6,468.2 L257.0,469.8 L257.5,470.1 L257.9,468.3 L258.4,468.1 L258.8,468.5 L259.3,469.1 L259.7,468.9 L260.2,471.6 L260.6,471.9 L261.1,471.0 L261.5,470.6 L262.0,469.6 L262.4,471.1 L262.9,471.4 L263.3,470.0 L263.8,469.2 L264.2,470.0 L264.7,472.5 L265.1,469.1 L265.6,470.4 L266.0,466.8 L266.5,463.8 L266.9,462.6 L267.4,461.6 L267.8,460.0 L268.3,460.5 L268.7,461.6 L269.2,454.7 L269.6,462.5 L270.1,458.7 L270.5,460.7 L271.0,462.8 L271.4,464.4 L271.9,461.5 L272.3,464.2 L272.8,458.6 L273.2,457.6 L273.7,461.9 L274.1,462.6 L274.6,463.6 L275.0,464.3 L275.5,457.5 L275.9,461.7 L276.4,458.3 L276.8,458.1 L277.3,463.6 L277.7,461.7 L278.2,461.2 L278.6,459.8 L279.1,462.6 L279.5,466.2 L280.0,470.6 L280.4,470.4 L280.9,470.1 L281.3,472.9 L281.8,474.1 L282.2,470.5 L282.7,474.4 L283.1,472.1 L283.6,473.5 L284.0,473.8 L284.5,471.9 L284.9,474.4 L285.4,472.9 L285.8,465.9 L286.3,461.0 L286.7,457.4 L287.2,448.1 L287.6,439.1 L288.1,449.5 L288.5,451.0 L289.0,454.8 L289.4,450.0 L289.9,449.9 L290.3,449.1 L290.8,438.1 L291.2,454.5 L291.7,452.6 L292.1,446.4 L292.6,447.3 L293.0,439.1 L293.5,446.4 L293.9,455.0 L294.4,446.8 L294.8,453.4 L295.3,444.4 L295.7,451.4 L296.2,447.3 L296.6,453.9 L297.1,454.8 L297.5,446.6 L298.0,450.3 L298.4,450.7 L298.9,455.1 L299.3,450.8 L299.8,447.7 L300.2,447.1 L300.7,450.6 L301.1,447.4 L301.6,446.1 L302.0,454.4 L302.5,460.4 L302.9,463.1 L303.4,470.5 L303.8,474.0 L304.3,475.3 L304.7,477.5 L305.2,478.7 L305.6,480.4 L306.1,481.4 L306.5,480.9 L307.0,480.2 L307.4,480.1 L307.9,477.4 L308.3,480.1 L308.8,482.0 L309.2,481.6 L309.7,481.0 L310.1,478.9 L310.6,472.7 L311.0,467.9 L311.5,466.2 L311.9,463.2 L312.4,462.0 L312.8,462.6 L313.3,460.0 L313.7,456.8 L314.2,460.9 L314.6,444.3 L315.1,461.6 L315.5,458.6 L316.0,459.2 L316.4,461.8 L316.9,459.7 L317.3,460.0 L317.8,457.6 L318.2,448.4 L318.7,448.1 L319.1,445.3 L319.6,451.1 L320.0,445.6 L320.5,449.1 L320.9,449.3 L321.4,446.8 L321.8,443.5 L322.3,443.1 L322.7,452.2 L323.2,448.0 L323.6,442.7 L324.1,448.1 L324.5,445.2 L325.0,449.2 L325.4,445.1 L325.9,449.0 L326.3,444.5 L326.8,445.3 L327.2,424.4 L327.7,446.2 L328.1,451.9 L328.6,446.1 L329.0,445.0 L329.5,445.5 L329.9,448.2 L330.4,442.4 L330.8,447.3 L331.3,448.5 L331.7,445.0 L332.2,442.5 L332.6,444.4 L333.1,444.6 L333.5,451.6 L334.0,444.3 L334.4,442.7 L334.9,446.8 L335.3,444.2 L335.8,445.9 L336.2,430.2 L336.7,443.2 L337.1,443.3 L337.6,451.6 L338.0,444.9 L338.5,449.1 L338.9,446.0 L339.4,450.7 L339.8,446.6 L340.3,451.6 L340.7,451.8 L341.2,450.9 L341.6,449.4 L342.1,451.5 L342.5,450.2 L343.0,446.3 L343.4,451.4 L343.9,445.5 L344.3,443.7 L344.8,443.6 L345.2,443.9 L345.7,449.4 L346.1,443.7 L346.6,449.7 L347.0,445.6 L347.5,445.1 L347.9,436.9 L348.4,451.5 L348.8,444.7 L349.3,451.7 L349.7,443.9 L350.2,444.2 L350.6,441.2 L351.1,451.0 L351.5,450.3 L352.0,444.6 L352.4,450.9 L352.9,450.0 L353.3,449.7 L353.8,446.1 L354.2,452.8 L354.7,486.3 L354.7,491.0 L354.2,521.8 L353.8,525.1 L353.3,536.2 L352.9,530.2 L352.4,531.6 L352.0,529.4 L351.5,527.0 L351.1,530.3 L350.6,529.5 L350.2,533.0 L349.7,529.1 L349.3,530.0 L348.8,528.4 L348.4,531.8 L347.9,527.1 L347.5,532.7 L347.0,527.0 L346.6,530.2 L346.1,527.7 L345.7,532.5 L345.2,525.1 L344.8,532.4 L344.3,540.4 L343.9,530.1 L343.4,527.1 L343.0,532.7 L342.5,526.7 L342.1,532.2 L341.6,533.3 L341.2,526.6 L340.7,525.1 L340.3,531.3 L339.8,526.9 L339.4,533.9 L338.9,527.4 L338.5,531.8 L338.0,529.8 L337.6,534.4 L337.1,534.3 L336.7,533.5 L336.2,525.2 L335.8,528.0 L335.3,528.8 L334.9,533.7 L334.4,531.0 L334.0,526.0 L333.5,535.2 L333.1,525.3 L332.6,525.9 L332.2,527.5 L331.7,526.5 L331.3,528.9 L330.8,531.5 L330.4,534.3 L329.9,526.5 L329.5,533.0 L329.0,531.0 L328.6,533.5 L328.1,534.6 L327.7,532.9 L327.2,535.3 L326.8,531.8 L326.3,525.6 L325.9,534.2 L325.4,529.7 L325.0,533.1 L324.5,525.5 L324.1,527.7 L323.6,527.9 L323.2,530.8 L322.7,525.3 L322.3,530.6 L321.8,525.6 L321.4,528.9 L320.9,526.0 L320.5,536.2 L320.0,527.1 L319.6,530.1 L319.1,524.9 L318.7,533.2 L318.2,520.9 L317.8,531.5 L317.3,518.0 L316.9,515.4 L316.4,521.4 L316.0,520.2 L315.5,524.6 L315.1,517.5 L314.6,516.5 L314.2,521.0 L313.7,529.9 L313.3,515.5 L312.8,515.2 L312.4,513.3 L311.9,516.8 L311.5,515.9 L311.0,508.3 L310.6,503.9 L310.1,497.9 L309.7,495.6 L309.2,498.4 L308.8,496.4 L308.3,496.1 L307.9,496.8 L307.4,495.6 L307.0,496.7 L306.5,497.2 L306.1,496.4 L305.6,497.1 L305.2,498.6 L304.7,500.0 L304.3,499.9 L303.8,502.0 L303.4,504.9 L302.9,515.1 L302.5,519.7 L302.0,528.4 L301.6,527.3 L301.1,526.2 L300.7,525.5 L300.2,522.7 L299.8,530.9 L299.3,523.7 L298.9,543.0 L298.4,522.6 L298.0,527.2 L297.5,522.4 L297.1,524.0 L296.6,526.1 L296.2,530.6 L295.7,530.6 L295.3,522.5 L294.8,526.8 L294.4,527.4 L293.9,525.0 L293.5,523.2 L293.0,539.6 L292.6,531.7 L292.1,528.4 L291.7,530.7 L291.2,523.2 L290.8,522.8 L290.3,531.2 L289.9,524.2 L289.4,522.2 L289.0,524.1 L288.5,529.1 L288.1,524.3 L287.6,523.2 L287.2,528.8 L286.7,519.5 L286.3,512.3 L285.8,506.2 L285.4,503.0 L284.9,504.3 L284.5,502.9 L284.0,504.4 L283.6,506.1 L283.1,506.2 L282.7,506.1 L282.2,505.0 L281.8,505.6 L281.3,506.7 L280.9,506.7 L280.4,514.2 L280.0,510.2 L279.5,513.1 L279.1,517.0 L278.6,519.8 L278.2,517.0 L277.7,517.6 L277.3,514.8 L276.8,518.0 L276.4,514.0 L275.9,513.3 L275.5,519.3 L275.0,515.2 L274.6,517.7 L274.1,517.8 L273.7,518.9 L273.2,518.4 L272.8,515.4 L272.3,517.3 L271.9,518.4 L271.4,517.1 L271.0,518.7 L270.5,514.7 L270.1,513.4 L269.6,518.1 L269.2,522.1 L268.7,516.9 L268.3,517.1 L267.8,516.6 L267.4,512.8 L266.9,516.3 L266.5,511.6 L266.0,509.8 L265.6,505.9 L265.1,505.7 L264.7,505.3 L264.2,506.8 L263.8,507.7 L263.3,505.6 L262.9,505.6 L262.4,509.3 L262.0,506.9 L261.5,505.1 L261.1,507.8 L260.6,507.4 L260.2,509.6 L259.7,509.8 L259.3,509.5 L258.8,508.3 L258.4,510.0 L257.9,509.3 L257.5,507.5 L257.0,508.2 L256.6,511.3 L256.1,513.3 L255.7,515.6 L255.2,518.7 L254.8,519.1 L254.3,521.0 L253.9,518.4 L253.4,519.5 L253.0,519.5 L252.5,520.7 L252.1,519.8 L251.6,522.9 L251.2,527.8 L250.7,523.7 L250.3,519.5 L249.8,517.9 L249.4,524.0 L248.9,518.1 L248.5,522.4 L248.0,517.8 L247.6,518.1 L247.1,524.3 L246.7,521.2 L246.2,524.7 L245.8,520.2 L245.3,519.3 L244.9,517.5 L244.4,521.8 L244.0,518.4 L243.5,518.8 L243.1,520.3 L242.6,519.8 L242.2,524.1 L241.7,518.3 L241.3,519.5 L240.8,518.7 L240.4,523.2 L239.9,519.8 L239.5,516.8 L239.0,514.9 L238.6,511.7 L238.1,507.8 L237.7,508.4 L237.2,512.3 L236.8,511.1 L236.3,508.1 L235.9,509.7 L235.4,509.6 L235.0,507.6 L234.5,508.2 L234.1,512.0 L233.6,508.3 L233.2,508.2 L232.7,511.0 L232.3,511.5 L231.8,510.7 L231.4,508.1 L230.9,512.2 L230.5,509.6 L230.0,510.5 L229.6,512.4 L229.1,512.4 L228.7,515.3 L228.2,512.3 L227.8,509.6 L227.3,507.7 L226.9,509.5 L226.4,515.2 L226.0,507.3 L225.5,512.0 L225.1,507.4 L224.6,508.5 L224.2,509.3 L223.7,509.3 L223.3,510.4 L222.8,509.1 L222.4,507.5 L221.9,509.8 L221.5,508.9 L221.0,515.2 L220.6,509.8 L220.1,512.5 L219.7,507.6 L219.2,507.5 L218.8,507.3 L218.3,510.3 L217.9,507.7 L217.4,509.1 L217.0,508.3 L216.5,507.6 L216.1,509.7 L215.6,510.1 L215.2,509.9 L214.7,511.9 L214.3,507.3 L213.8,518.3 L213.4,508.3 L212.9,507.4 L212.5,510.7 L212.0,511.8 L211.6,508.2 L211.1,508.2 L210.7,512.0 L210.2,508.9 L209.8,508.5 L209.3,510.5 L208.9,511.8 L208.4,507.3 L208.0,509.6 L207.5,512.1 L207.1,507.6 L206.6,511.8 L206.2,509.3 L205.7,511.8 L205.3,508.6 L204.8,508.6 L204.4,512.2 L203.9,507.9 L203.5,510.3 L203.0,517.0 L202.6,507.8 L202.1,511.2 L201.7,513.1 L201.2,511.9 L200.8,510.1 L200.3,507.3 L199.9,518.9 L199.4,516.3 L199.0,509.9 L198.5,508.6 L198.1,511.8 L197.6,508.9 L197.2,508.8 L196.7,509.9 L196.3,507.4 L195.8,510.9 L195.4,512.4 L194.9,508.5 L194.5,512.1 L194.0,509.7 L193.6,509.2 L193.1,508.2 L192.7,510.4 L192.2,510.6 L191.8,508.3 L191.3,509.0 L190.9,511.2 L190.4,510.6 L190.0,510.9 L189.5,508.5 L189.1,514.7 L188.6,510.2 L188.2,509.7 L187.7,510.8 L187.3,510.2 L186.8,510.9 L186.4,510.9 L185.9,510.5 L185.5,512.7 L185.0,508.2 L184.6,509.2 L184.1,510.0 L183.7,511.2 L183.2,512.4 L182.8,511.0 L182.3,508.3 L181.9,507.9 L181.4,509.5 L181.0,507.5 L180.5,511.2 L180.1,511.7 L179.6,511.5 L179.2,511.1 L178.7,508.6 L178.3,508.6 L177.8,510.5 L177.4,508.6 L176.9,510.4 L176.5,509.9 L176.0,511.9 L175.6,511.5 L175.1,510.6 L174.7,510.1 L174.2,507.3 L173.8,511.4 L173.3,511.4 L172.9,510.3 L172.4,509.5 L172.0,512.1 L171.5,510.6 L171.1,509.3 L170.6,508.7 L170.2,511.6 L169.7,511.3 L169.3,508.3 L168.8,510.4 L168.4,510.8 L167.9,510.1 L167.5,514.8 L167.0,508.7 L166.6,511.7 L166.1,510.6 L165.7,509.2 L165.2,508.6 L164.8,509.3 L164.3,507.9 L163.9,510.6 L163.4,512.2 L163.0,507.5 L162.5,510.3 L162.1,508.3 L161.6,509.1 L161.2,509.1 L160.7,509.2 L160.3,507.9 L159.8,511.1 L159.4,510.5 L158.9,510.3 L158.5,510.1 L158.0,507.9 L157.6,509.1 L157.1,511.1 L156.7,510.2 L156.2,508.3 L155.8,509.4 L155.3,508.9 L154.9,509.4 L154.4,507.3 L154.0,510.6 L153.5,507.9 L153.1,510.7 L152.6,512.1 L152.2,510.3 L151.7,511.3 L151.3,512.0 L150.8,518.4 L150.4,509.3 L149.9,512.3 L149.5,510.7 L149.0,507.8 L148.6,512.1 L148.1,508.3 L147.7,509.7 L147.2,512.3 L146.8,508.2 L146.3,512.3 L145.9,510.6 L145.4,510.0 L145.0,511.5 L144.5,511.3 L144.1,511.8 L143.6,508.1 L143.2,511.5 L142.7,510.7 L142.3,509.1 L141.8,507.5 L141.4,518.3 L140.9,510.4 L140.5,510.2 L140.0,512.2 L139.6,510.7 L139.1,509.5 L138.7,511.9 L138.2,508.4 L137.8,508.1 L137.3,516.4 L136.9,510.7 L136.4,509.7 L136.0,510.1 L135.5,509.9 L135.1,511.9 L134.6,510.0 L134.2,511.8 L133.7,511.4 L133.3,509.9 L132.8,510.6 L132.4,507.4 L131.9,507.8 L131.5,515.6 L131.0,508.0 L130.6,513.5 L130.1,512.8 L129.7,522.5 L129.2,520.0 L128.8,518.5 L128.3,521.8 L127.9,526.3 L127.4,520.2 L127.0,521.7 L126.5,523.7 L126.1,523.3 L125.6,526.1 L125.2,523.4 L124.7,524.5 L124.3,526.5 L123.8,531.5 L123.4,542.5 L122.9,531.1 L122.5,530.8 L122.0,530.8 L121.6,523.2 L121.1,528.3 L120.7,529.2 L120.2,524.3 L119.8,525.4 L119.3,529.5 L118.9,525.2 L118.4,518.5 L118.0,512.0 L117.5,510.6 L117.1,512.1 L116.6,511.2 L116.2,509.6 L115.7,512.2 L115.3,513.2 L114.8,509.7 L114.4,509.6 L113.9,511.9 L113.5,509.3 L113.0,512.4 L112.6,510.0 L112.1,508.8 L111.7,511.4 L111.2,510.1 L110.8,511.7 L110.3,512.4 L109.9,507.3 L109.4,509.2 L109.0,511.0 L108.5,511.3 L108.1,509.9 L107.6,511.5 L107.2,510.7 L106.7,512.9 L106.3,507.4 L105.8,507.6 L105.4,510.8 L104.9,509.9 L104.5,509.7 L104.0,510.3 L103.6,510.6 L103.1,509.6 L102.7,511.7 L102.2,511.6 L101.8,508.6 L101.3,509.6 L100.9,508.7 L100.4,511.1 L100.0,507.4 L99.5,508.4 L99.1,510.4 L98.6,509.1 L98.2,511.7 L97.7,509.7 L97.3,511.2 L96.8,508.4 L96.4,516.8 L95.9,517.1 L95.5,509.5 L95.0,509.2 L94.6,515.1 L94.1,508.0 L93.7,510.4 L93.2,507.7 L92.8,509.4 L92.3,509.7 L91.9,509.6 L91.4,509.3 L91.0,508.9 L90.5,506.8 L90.1,509.4 L89.6,506.6 L89.2,504.7 L88.7,507.7 L88.3,504.6 L87.8,502.4 L87.4,502.6 L86.9,502.1 L86.5,500.9 L86.0,501.9 L85.6,501.9 L85.1,500.2 L84.7,500.5 L84.2,501.8 L83.8,503.1 L83.3,503.3 L82.9,501.5 L82.4,501.4 L82.0,500.0 L81.5,499.7 L81.1,504.8 L80.6,499.7 L80.2,497.5 L79.7,498.8 L79.3,498.5 L78.8,497.7 L78.4,498.2 L77.9,499.7 L77.5,502.7 L77.0,500.4 L76.6,501.4 L76.1,501.4 L75.7,503.8 L75.2,503.8 L74.8,504.5 L74.3,506.3 L73.9,504.4 L73.4,509.2 L73.0,506.6 L72.5,504.4 L72.1,506.0 L71.6,507.5 L71.2,505.4 L70.7,503.7 L70.3,503.1 L69.8,501.0 L69.4,501.5 L68.9,499.4 L68.5,500.4 L68.0,500.8 L67.6,499.3 L67.1,499.9 L66.7,501.4 L66.2,502.3 L65.8,501.6 L65.3,503.7 L64.9,502.4 L64.4,504.5 L64.0,504.6 L63.5,505.3 L63.1,506.0 L62.6,504.6 L62.2,503.1 L61.7,504.2 L61.3,507.3 L60.8,506.6 L60.4,504.8 L59.9,507.0 L59.5,507.1 L59.0,504.8 L58.6,504.0 L58.1,505.5 L57.7,510.3 L57.2,503.7 L56.8,502.8 L56.3,502.5 L55.9,504.1 L55.4,505.6 L55.0,505.2 L54.5,503.4 L54.1,506.4 L53.6,506.6 L53.2,506.8 L52.7,506.5 L52.3,507.2 L51.8,504.0 L51.4,504.7 L50.9,505.9 L50.5,510.2 L50.0,505.1 L49.6,505.4 L49.1,506.7 L48.7,505.2 L48.2,506.3 L47.8,506.3 L47.3,504.4 L46.9,504.2 L46.4,505.2 L46.0,506.7 L45.5,507.8 L45.1,504.3 L44.6,504.4 L44.2,507.6 L43.7,503.9 L43.3,505.8 L42.8,505.0 L42.4,505.4 L41.9,507.3 L41.5,504.2 L41.0,507.9 L40.6,505.2 L40.1,507.0 L39.7,504.1 L39.2,505.8 L38.8,507.7 L38.3,505.2 L37.9,504.6 L37.4,505.1 L37.0,504.2 L36.5,504.6 L36.1,506.1 L35.6,504.2 L35.2,505.9 L34.7,502.8 L34.3,498.5 L33.8,493.9 L33.4,491.2 L32.9,491.6 L32.5,491.9 L32.0,492.8 L31.6,493.3 L31.1,493.1 L30.7,493.3 L30.2,493.3 L29.8,493.4 L29.3,492.6 L28.9,492.8 L28.4,493.5 L28.0,492.1 L27.5,492.0 L27.1,491.4 L26.6,490.6 L26.2,491.0 L25.7,491.7 L25.3,491.9 L24.8,492.8 L24.4,493.7 L23.9,493.9 L23.5,493.8 L23.0,494.8 L22.6,494.9 L22.1,494.8 L21.7,495.8 L21.2,496.1 L20.8,496.1 L20.3,496.1 L19.9,495.5 L19.4,495.4 L19.0,495.1 L18.5,494.5 L18.1,495.6 L17.6,496.3 L17.2,493.6 L16.7,492.1 L16.3,490.6 L15.8,488.7Z" fill="#f07479"/><path d="M15.8,488.7 L17.6,483.8 L19.4,482.8 L21.2,482.7 L23.0,483.7 L24.8,485.3 L26.6,486.9 L28.4,485.1 L30.2,484.9 L32.0,485.5 L33.8,485.1 L35.6,476.1 L37.4,474.5 L39.2,474.5 L41.0,474.5 L42.8,474.4 L44.6,474.4 L46.4,474.4 L48.2,474.3 L50.0,474.4 L51.8,474.8 L53.6,475.3 L55.4,475.7 L57.2,475.5 L59.0,475.1 L60.8,474.6 L62.6,475.6 L64.4,476.9 L66.2,478.1 L68.0,479.7 L69.8,477.5 L71.6,475.7 L73.4,475.4 L75.2,476.6 L77.0,478.9 L78.8,480.4 L80.6,480.4 L82.4,478.0 L84.2,477.6 L86.0,478.3 L87.8,475.9 L89.6,473.4 L91.4,472.3 L93.2,471.7 L95.0,471.7 L96.8,471.6 L98.6,471.6 L100.4,471.5 L102.2,471.5 L104.0,471.5 L105.8,471.4 L107.6,471.4 L109.4,471.3 L111.2,471.3 L113.0,471.3 L114.8,471.2 L116.6,469.8 L118.4,465.3 L120.2,457.6 L122.0,457.0 L123.8,456.7 L125.6,458.1 L127.4,459.5 L129.2,464.0 L131.0,470.6 L132.8,471.2 L134.6,471.2 L136.4,471.2 L138.2,471.2 L140.0,471.2 L141.8,471.2 L143.6,471.2 L145.4,471.2 L147.2,471.2 L149.0,471.2 L150.8,471.2 L152.6,471.2 L154.4,471.2 L156.2,471.2 L158.0,471.2 L159.8,471.2 L161.6,471.2 L163.4,471.2 L165.2,471.2 L167.0,471.2 L168.8,471.2 L170.6,471.2 L172.4,471.2 L174.2,471.2 L176.0,471.2 L177.8,471.2 L179.6,471.2 L181.4,471.2 L183.2,471.2 L185.0,471.2 L186.8,471.2 L188.6,471.2 L190.4,471.2 L192.2,471.2 L194.0,471.2 L195.8,471.2 L197.6,471.2 L199.4,471.2 L201.2,471.2 L203.0,471.2 L204.8,471.2 L206.6,471.2 L208.4,471.2 L210.2,471.2 L212.0,471.2 L213.8,471.2 L215.6,471.2 L217.4,471.2 L219.2,471.2 L221.0,471.2 L222.8,471.2 L224.6,471.2 L226.4,471.2 L228.2,471.2 L230.0,471.2 L231.8,471.2 L233.6,471.2 L235.4,471.2 L237.2,471.2 L239.0,465.9 L240.8,462.8 L242.6,462.0 L244.4,462.0 L246.2,462.1 L248.0,462.2 L249.8,462.3 L251.6,462.3 L253.4,462.4 L255.2,465.0 L257.0,471.0 L258.8,472.1 L260.6,473.3 L262.4,473.4 L264.2,473.6 L266.0,472.6 L267.8,466.0 L269.6,466.0 L271.4,465.9 L273.2,465.8 L275.0,465.7 L276.8,465.6 L278.6,465.6 L280.4,474.6 L282.2,475.2 L284.0,475.8 L285.8,473.5 L287.6,458.0 L289.4,457.2 L291.2,456.8 L293.0,456.9 L294.8,457.0 L296.6,457.1 L298.4,457.2 L300.2,457.2 L302.0,457.3 L303.8,477.1 L305.6,482.0 L307.4,482.2 L309.2,482.4 L311.0,471.6 L312.8,465.9 L314.6,464.2 L316.4,464.1 L318.2,458.9 L320.0,455.3 L321.8,454.7 L323.6,454.2 L325.4,454.3 L327.2,454.4 L329.0,454.5 L330.8,454.5 L332.6,454.6 L334.4,454.7 L336.2,454.7 L338.0,454.8 L339.8,454.9 L341.6,454.9 L343.4,455.0 L345.2,455.1 L347.0,455.2 L348.8,455.2 L350.6,455.4 L352.4,455.7 L354.2,458.4 L354.2,519.0 L352.4,521.7 L350.6,522.0 L348.8,522.2 L347.0,522.2 L345.2,522.3 L343.4,522.4 L341.6,522.5 L339.8,522.5 L338.0,522.6 L336.2,522.7 L334.4,522.7 L332.6,522.8 L330.8,522.9 L329.0,522.9 L327.2,523.0 L325.4,523.1 L323.6,523.2 L321.8,522.7 L320.0,522.1 L318.2,518.5 L316.4,513.3 L314.6,513.2 L312.8,511.5 L311.0,505.8 L309.2,495.0 L307.4,495.2 L305.6,495.4 L303.8,500.3 L302.0,520.1 L300.2,520.2 L298.4,520.2 L296.6,520.3 L294.8,520.4 L293.0,520.5 L291.2,520.6 L289.4,520.2 L287.6,519.4 L285.8,503.9 L284.0,501.6 L282.2,502.2 L280.4,502.8 L278.6,511.8 L276.8,511.8 L275.0,511.7 L273.2,511.6 L271.4,511.5 L269.6,511.4 L267.8,511.4 L266.0,504.8 L264.2,503.8 L262.4,504.0 L260.6,504.1 L258.8,505.3 L257.0,506.4 L255.2,512.4 L253.4,515.0 L251.6,515.1 L249.8,515.1 L248.0,515.2 L246.2,515.3 L244.4,515.4 L242.6,515.4 L240.8,514.6 L239.0,511.5 L237.2,506.2 L235.4,506.2 L233.6,506.2 L231.8,506.2 L230.0,506.2 L228.2,506.2 L226.4,506.2 L224.6,506.2 L222.8,506.2 L221.0,506.2 L219.2,506.2 L217.4,506.2 L215.6,506.2 L213.8,506.2 L212.0,506.2 L210.2,506.2 L208.4,506.2 L206.6,506.2 L204.8,506.2 L203.0,506.2 L201.2,506.2 L199.4,506.2 L197.6,506.2 L195.8,506.2 L194.0,506.2 L192.2,506.2 L190.4,506.2 L188.6,506.2 L186.8,506.2 L185.0,506.2 L183.2,506.2 L181.4,506.2 L179.6,506.2 L177.8,506.2 L176.0,506.2 L174.2,506.2 L172.4,506.2 L170.6,506.2 L168.8,506.2 L167.0,506.2 L165.2,506.2 L163.4,506.2 L161.6,506.2 L159.8,506.2 L158.0,506.2 L156.2,506.2 L154.4,506.2 L152.6,506.2 L150.8,506.2 L149.0,506.2 L147.2,506.2 L145.4,506.2 L143.6,506.2 L141.8,506.2 L140.0,506.2 L138.2,506.2 L136.4,506.2 L134.6,506.2 L132.8,506.2 L131.0,506.8 L129.2,513.4 L127.4,517.9 L125.6,519.3 L123.8,520.7 L122.0,520.4 L120.2,519.8 L118.4,512.1 L116.6,507.6 L114.8,506.2 L113.0,506.1 L111.2,506.1 L109.4,506.1 L107.6,506.0 L105.8,506.0 L104.0,505.9 L102.2,505.9 L100.4,505.9 L98.6,505.8 L96.8,505.8 L95.0,505.7 L93.2,505.7 L91.4,505.1 L89.6,504.0 L87.8,501.5 L86.0,499.1 L84.2,499.8 L82.4,499.4 L80.6,497.0 L78.8,497.0 L77.0,498.5 L75.2,500.8 L73.4,502.0 L71.6,501.7 L69.8,499.9 L68.0,497.7 L66.2,499.3 L64.4,500.5 L62.6,501.8 L60.8,502.8 L59.0,502.3 L57.2,501.9 L55.4,501.7 L53.6,502.1 L51.8,502.6 L50.0,503.0 L48.2,503.1 L46.4,503.0 L44.6,503.0 L42.8,503.0 L41.0,502.9 L39.2,502.9 L37.4,502.9 L35.6,501.3 L33.8,492.3 L32.0,491.9 L30.2,492.5 L28.4,492.3 L26.6,490.5 L24.8,492.1 L23.0,493.7 L21.2,494.7 L19.4,494.6 L17.6,493.6 L15.8,488.7Z" fill="#f07479"/><line x1="119.4" y1="439.2" x2="119.4" y2="538.2" stroke="#f07479" stroke-width="0.7" opacity="0.75"/><line x1="288.6" y1="439.2" x2="288.6" y2="538.2" stroke="#f07479" stroke-width="0.7" opacity="0.75"/><line x1="240.8" y1="449.8" x2="240.8" y2="527.6" stroke="#f07479" stroke-width="0.7" opacity="0.75"/>
<path d="M14.8,606.6 L15.3,605.0 L15.7,603.5 L16.2,602.1 L16.6,600.8 L17.1,600.7 L17.5,600.3 L18.0,600.6 L18.4,600.3 L18.9,598.7 L19.3,598.2 L19.8,598.4 L20.2,598.3 L20.7,598.7 L21.1,599.0 L21.6,600.3 L22.0,600.7 L22.5,600.3 L22.9,600.8 L23.4,600.9 L23.8,602.0 L24.3,603.3 L24.7,603.4 L25.2,604.5 L25.6,604.4 L26.1,603.9 L26.5,603.9 L27.0,603.3 L27.4,602.9 L27.9,602.0 L28.3,601.9 L28.8,601.7 L29.2,601.9 L29.7,601.6 L30.1,601.9 L30.6,600.6 L31.0,603.0 L31.5,602.9 L31.9,603.1 L32.4,603.8 L32.8,602.5 L33.3,597.9 L33.7,595.2 L34.2,592.8 L34.6,592.8 L35.1,591.0 L35.5,589.6 L36.0,590.0 L36.4,590.4 L36.9,591.1 L37.3,591.5 L37.8,590.7 L38.2,590.0 L38.7,590.7 L39.1,588.3 L39.6,591.2 L40.0,588.6 L40.5,588.4 L40.9,588.1 L41.4,587.4 L41.8,590.2 L42.3,589.6 L42.7,588.0 L43.2,590.8 L43.6,587.6 L44.1,590.2 L44.5,589.5 L45.0,587.3 L45.4,588.3 L45.9,588.4 L46.3,588.9 L46.8,587.6 L47.2,589.6 L47.7,589.3 L48.1,588.5 L48.6,588.7 L49.0,588.6 L49.5,587.5 L49.9,588.3 L50.4,591.1 L50.8,588.5 L51.3,591.2 L51.7,589.5 L52.2,591.7 L52.6,589.4 L53.1,590.9 L53.5,589.3 L54.0,590.8 L54.4,592.0 L54.9,591.5 L55.3,591.4 L55.8,589.5 L56.2,590.8 L56.7,591.6 L57.1,591.1 L57.6,591.0 L58.0,589.9 L58.5,591.4 L58.9,588.8 L59.4,591.7 L59.8,590.7 L60.3,589.1 L60.7,590.7 L61.2,590.2 L61.6,589.5 L62.1,588.8 L62.5,589.0 L63.0,589.4 L63.4,591.0 L63.9,593.0 L64.3,590.8 L64.8,594.2 L65.2,591.6 L65.7,594.2 L66.1,593.3 L66.6,595.4 L67.0,594.9 L67.5,595.9 L67.9,594.9 L68.4,596.0 L68.8,594.0 L69.3,594.4 L69.7,592.9 L70.2,592.1 L70.6,590.3 L71.1,592.8 L71.5,589.2 L72.0,588.9 L72.4,592.0 L72.9,581.3 L73.3,590.7 L73.8,592.2 L74.2,590.4 L74.7,591.2 L75.1,592.9 L75.6,592.1 L76.0,593.2 L76.5,593.0 L76.9,595.2 L77.4,594.5 L77.8,596.6 L78.3,595.7 L78.7,597.3 L79.2,596.4 L79.6,598.1 L80.1,597.0 L80.5,596.3 L81.0,594.7 L81.4,596.0 L81.9,593.3 L82.3,593.1 L82.8,592.4 L83.2,593.2 L83.7,591.4 L84.1,592.1 L84.6,593.4 L85.0,594.5 L85.5,594.8 L85.9,593.6 L86.4,594.7 L86.8,594.8 L87.3,592.7 L87.7,591.2 L88.2,591.5 L88.6,591.2 L89.1,589.1 L89.5,589.7 L90.0,587.7 L90.4,588.2 L90.9,587.4 L91.3,588.2 L91.8,588.2 L92.2,585.9 L92.7,589.4 L93.1,589.2 L93.6,586.9 L94.0,589.6 L94.5,588.2 L94.9,585.2 L95.4,586.5 L95.8,586.5 L96.3,588.1 L96.7,586.0 L97.2,585.9 L97.6,589.6 L98.1,584.9 L98.5,587.1 L99.0,579.1 L99.4,585.7 L99.9,589.5 L100.3,587.8 L100.8,589.4 L101.2,587.3 L101.7,587.2 L102.1,587.7 L102.6,587.0 L103.0,585.2 L103.5,586.9 L103.9,585.0 L104.4,587.6 L104.8,588.6 L105.3,586.7 L105.7,585.1 L106.2,588.5 L106.6,587.5 L107.1,587.5 L107.5,587.3 L108.0,585.1 L108.4,587.5 L108.9,586.8 L109.3,585.9 L109.8,586.6 L110.2,585.8 L110.7,587.8 L111.1,586.5 L111.6,589.1 L112.0,586.2 L112.5,589.3 L112.9,584.5 L113.4,586.3 L113.8,585.4 L114.3,587.0 L114.7,588.2 L115.2,587.5 L115.6,587.4 L116.1,584.9 L116.5,580.1 L117.0,577.9 L117.4,576.5 L117.9,571.6 L118.3,577.2 L118.8,571.5 L119.2,570.4 L119.7,572.4 L120.1,575.7 L120.6,569.2 L121.0,576.6 L121.5,574.9 L121.9,573.8 L122.4,575.6 L122.8,576.0 L123.3,570.6 L123.7,569.7 L124.2,570.9 L124.6,569.5 L125.1,571.3 L125.5,572.1 L126.0,576.3 L126.4,573.4 L126.9,569.5 L127.3,574.5 L127.8,572.8 L128.2,569.8 L128.7,574.7 L129.1,574.1 L129.6,569.9 L130.0,556.6 L130.5,574.1 L130.9,573.1 L131.4,571.7 L131.8,571.8 L132.3,575.7 L132.7,575.7 L133.2,571.6 L133.6,575.8 L134.1,570.9 L134.5,566.6 L135.0,557.1 L135.4,575.2 L135.9,575.7 L136.3,575.3 L136.8,571.6 L137.2,575.4 L137.7,561.8 L138.1,574.1 L138.6,574.0 L139.0,571.3 L139.5,570.0 L139.9,576.6 L140.4,573.7 L140.8,571.6 L141.3,573.5 L141.7,571.6 L142.2,572.3 L142.6,577.7 L143.1,573.9 L143.5,579.2 L144.0,572.2 L144.4,580.5 L144.9,581.7 L145.3,584.4 L145.8,585.0 L146.2,575.0 L146.7,584.2 L147.1,583.9 L147.6,589.3 L148.0,580.2 L148.5,585.0 L148.9,581.5 L149.4,576.3 L149.8,562.2 L150.3,572.9 L150.7,558.5 L151.2,568.4 L151.6,572.0 L152.1,572.6 L152.5,570.7 L153.0,567.2 L153.4,564.0 L153.9,568.9 L154.3,564.3 L154.8,567.3 L155.2,571.1 L155.7,567.6 L156.1,569.8 L156.6,570.2 L157.0,552.9 L157.5,570.6 L157.9,564.9 L158.4,568.0 L158.8,566.3 L159.3,564.7 L159.7,568.5 L160.2,565.8 L160.6,567.3 L161.1,567.2 L161.5,567.8 L162.0,570.2 L162.4,566.2 L162.9,569.4 L163.3,570.8 L163.8,567.8 L164.2,568.8 L164.7,569.0 L165.1,566.7 L165.6,553.6 L166.0,569.5 L166.5,565.0 L166.9,565.6 L167.4,566.3 L167.8,569.3 L168.3,567.3 L168.7,564.8 L169.2,568.7 L169.6,568.2 L170.1,573.3 L170.5,564.5 L171.0,568.7 L171.4,568.4 L171.9,572.4 L172.3,571.7 L172.8,572.2 L173.2,567.6 L173.7,564.2 L174.1,571.0 L174.6,572.8 L175.0,571.5 L175.5,567.7 L175.9,570.3 L176.4,565.7 L176.8,569.0 L177.3,566.3 L177.7,569.3 L178.2,566.8 L178.6,570.5 L179.1,571.1 L179.5,579.7 L180.0,577.2 L180.4,580.2 L180.9,583.2 L181.3,586.1 L181.8,587.9 L182.2,589.6 L182.7,584.4 L183.1,592.2 L183.6,594.7 L184.0,592.0 L184.5,594.7 L184.9,594.8 L185.4,596.2 L185.8,595.0 L186.3,595.4 L186.7,597.1 L187.2,595.3 L187.6,598.0 L188.1,596.6 L188.5,597.0 L189.0,598.3 L189.4,597.9 L189.9,599.7 L190.3,600.1 L190.8,594.9 L191.2,587.6 L191.7,585.4 L192.1,582.2 L192.6,577.4 L193.0,581.0 L193.5,573.0 L193.9,577.1 L194.4,571.0 L194.8,570.2 L195.3,571.1 L195.7,570.3 L196.2,564.1 L196.6,568.4 L197.1,576.1 L197.5,571.1 L198.0,571.3 L198.4,559.1 L198.9,574.8 L199.3,575.7 L199.8,570.5 L200.2,570.4 L200.7,575.3 L201.1,574.7 L201.6,575.0 L202.0,569.5 L202.5,574.5 L202.9,572.9 L203.4,571.3 L203.8,568.5 L204.3,561.2 L204.7,573.5 L205.2,572.8 L205.6,568.6 L206.1,571.7 L206.5,570.9 L207.0,570.7 L207.4,569.3 L207.9,573.6 L208.3,570.5 L208.8,570.6 L209.2,575.3 L209.7,576.7 L210.1,574.3 L210.6,572.6 L211.0,573.5 L211.5,573.2 L211.9,575.0 L212.4,577.2 L212.8,576.6 L213.3,574.6 L213.7,576.7 L214.2,574.8 L214.6,566.1 L215.1,579.3 L215.5,573.8 L216.0,576.1 L216.4,580.8 L216.9,572.6 L217.3,578.5 L217.8,578.2 L218.2,577.9 L218.7,579.9 L219.1,577.4 L219.6,580.5 L220.0,580.2 L220.5,583.8 L220.9,579.4 L221.4,583.0 L221.8,586.5 L222.3,588.1 L222.7,587.4 L223.2,588.1 L223.6,589.4 L224.1,589.3 L224.5,591.0 L225.0,590.8 L225.4,591.9 L225.9,593.7 L226.3,592.4 L226.8,590.9 L227.2,594.1 L227.7,595.9 L228.1,596.1 L228.6,596.9 L229.0,597.9 L229.5,598.8 L229.9,598.5 L230.4,599.6 L230.8,600.3 L231.3,597.6 L231.7,594.2 L232.2,589.5 L232.6,588.3 L233.1,581.7 L233.5,581.8 L234.0,579.5 L234.4,576.6 L234.9,578.9 L235.3,577.0 L235.8,575.6 L236.2,573.8 L236.7,575.1 L237.1,579.3 L237.6,574.1 L238.0,575.8 L238.5,569.8 L238.9,577.7 L239.4,574.9 L239.8,574.9 L240.3,577.2 L240.7,574.2 L241.2,574.0 L241.6,579.1 L242.1,575.7 L242.5,577.5 L243.0,574.8 L243.4,564.8 L243.9,567.5 L244.3,575.9 L244.8,578.5 L245.2,573.6 L245.7,576.7 L246.1,576.2 L246.6,573.5 L247.0,578.6 L247.5,578.3 L247.9,579.1 L248.4,574.4 L248.8,576.7 L249.3,580.2 L249.7,573.4 L250.2,575.0 L250.6,573.4 L251.1,574.4 L251.5,563.8 L252.0,580.4 L252.4,580.0 L252.9,580.6 L253.3,575.5 L253.8,568.6 L254.2,578.3 L254.7,577.0 L255.1,582.4 L255.6,579.6 L256.0,585.4 L256.5,577.6 L256.9,581.7 L257.4,586.9 L257.8,584.4 L258.3,586.9 L258.7,581.8 L259.2,585.5 L259.6,582.7 L260.1,582.6 L260.5,582.3 L261.0,586.0 L261.4,583.1 L261.9,585.7 L262.3,586.0 L262.8,583.8 L263.2,582.7 L263.7,582.7 L264.1,580.0 L264.6,582.5 L265.0,583.7 L265.5,583.3 L265.9,581.3 L266.4,578.4 L266.8,581.3 L267.3,578.5 L267.7,580.2 L268.2,579.2 L268.6,584.2 L269.1,576.7 L269.5,580.1 L270.0,580.9 L270.4,582.8 L270.9,580.8 L271.3,580.7 L271.8,581.1 L272.2,578.2 L272.7,582.6 L273.1,578.7 L273.6,579.4 L274.0,579.3 L274.5,577.6 L274.9,580.2 L275.4,581.3 L275.8,575.1 L276.3,580.7 L276.7,576.5 L277.2,562.6 L277.6,577.4 L278.1,569.2 L278.5,577.2 L279.0,575.6 L279.4,576.3 L279.9,577.0 L280.3,579.9 L280.8,581.0 L281.2,573.1 L281.7,580.9 L282.1,579.9 L282.6,579.8 L283.0,578.3 L283.5,575.1 L283.9,573.8 L284.4,573.9 L284.8,577.7 L285.3,576.9 L285.7,573.7 L286.2,575.7 L286.6,571.7 L287.1,573.7 L287.5,572.0 L288.0,569.8 L288.4,568.7 L288.9,575.7 L289.3,568.4 L289.8,575.8 L290.2,570.3 L290.7,571.7 L291.1,572.3 L291.6,575.9 L292.0,571.3 L292.5,575.6 L292.9,572.9 L293.4,569.4 L293.8,574.2 L294.3,568.7 L294.7,573.1 L295.2,561.7 L295.6,569.5 L296.1,563.4 L296.5,571.9 L297.0,568.4 L297.4,574.5 L297.9,577.0 L298.3,577.5 L298.8,586.7 L299.2,589.0 L299.7,590.5 L300.1,594.2 L300.6,594.5 L301.0,594.5 L301.5,597.3 L301.9,597.3 L302.4,597.9 L302.8,593.0 L303.3,598.0 L303.7,598.4 L304.2,593.8 L304.6,596.3 L305.1,596.7 L305.5,592.3 L306.0,596.4 L306.4,594.8 L306.9,595.5 L307.3,592.5 L307.8,590.6 L308.2,590.3 L308.7,585.3 L309.1,587.8 L309.6,587.2 L310.0,588.9 L310.5,588.4 L310.9,589.3 L311.4,587.7 L311.8,587.8 L312.3,586.5 L312.7,586.3 L313.2,586.2 L313.6,584.7 L314.1,586.6 L314.5,587.2 L315.0,583.8 L315.4,579.9 L315.9,576.8 L316.3,575.5 L316.8,573.3 L317.2,570.1 L317.7,572.2 L318.1,567.8 L318.6,568.6 L319.0,568.1 L319.5,573.9 L319.9,569.0 L320.4,571.1 L320.8,574.4 L321.3,566.5 L321.7,571.1 L322.2,572.7 L322.6,571.1 L323.1,574.0 L323.5,573.6 L324.0,572.3 L324.4,572.9 L324.9,574.3 L325.3,571.6 L325.8,574.2 L326.2,568.9 L326.7,569.6 L327.1,570.2 L327.6,571.0 L328.0,571.8 L328.5,575.0 L328.9,569.0 L329.4,567.4 L329.8,567.0 L330.3,568.2 L330.7,573.9 L331.2,572.7 L331.6,558.0 L332.1,570.4 L332.5,572.1 L333.0,566.8 L333.4,572.3 L333.9,569.5 L334.3,569.6 L334.8,566.7 L335.2,571.6 L335.7,573.7 L336.1,569.7 L336.6,566.5 L337.0,572.4 L337.5,571.6 L337.9,554.9 L338.4,569.7 L338.8,572.9 L339.3,568.4 L339.7,567.5 L340.2,571.3 L340.6,570.4 L341.1,573.1 L341.5,569.8 L342.0,568.4 L342.4,572.9 L342.9,567.5 L343.3,572.7 L343.8,573.0 L344.2,572.3 L344.7,571.0 L345.1,570.4 L345.6,571.4 L346.0,566.5 L346.5,569.1 L346.9,567.1 L347.4,575.1 L347.8,570.6 L348.3,572.8 L348.7,569.2 L349.2,570.1 L349.6,571.7 L350.1,570.5 L350.5,570.4 L351.0,574.1 L351.4,571.1 L351.9,577.6 L352.3,602.4 L352.3,610.3 L351.9,639.7 L351.4,639.0 L351.0,642.9 L350.5,643.7 L350.1,642.1 L349.6,641.6 L349.2,640.5 L348.7,638.9 L348.3,645.0 L347.8,639.1 L347.4,642.4 L346.9,641.6 L346.5,639.4 L346.0,657.7 L345.6,644.3 L345.1,646.7 L344.7,642.5 L344.2,643.5 L343.8,638.7 L343.3,642.1 L342.9,645.3 L342.4,642.7 L342.0,643.2 L341.5,640.1 L341.1,654.5 L340.6,644.4 L340.2,646.7 L339.7,638.9 L339.3,642.0 L338.8,645.4 L338.4,640.3 L337.9,643.0 L337.5,639.1 L337.0,646.2 L336.6,641.1 L336.1,642.6 L335.7,639.5 L335.2,646.5 L334.8,640.1 L334.3,654.5 L333.9,641.5 L333.4,645.7 L333.0,639.0 L332.5,642.4 L332.1,646.2 L331.6,642.2 L331.2,658.2 L330.7,645.0 L330.3,640.2 L329.8,644.6 L329.4,651.4 L328.9,646.3 L328.5,640.7 L328.0,646.9 L327.6,641.5 L327.1,643.7 L326.7,645.3 L326.2,646.9 L325.8,645.8 L325.3,644.6 L324.9,640.7 L324.4,647.0 L324.0,638.4 L323.5,640.7 L323.1,642.3 L322.6,638.4 L322.2,644.5 L321.7,638.5 L321.3,646.7 L320.8,641.4 L320.4,638.9 L319.9,642.6 L319.5,646.4 L319.0,642.8 L318.6,644.3 L318.1,643.6 L317.7,636.7 L317.2,636.9 L316.8,638.0 L316.3,636.5 L315.9,636.1 L315.4,631.7 L315.0,624.9 L314.5,624.3 L314.1,625.3 L313.6,624.1 L313.2,628.0 L312.7,627.7 L312.3,626.4 L311.8,624.1 L311.4,626.0 L310.9,627.9 L310.5,627.3 L310.0,624.4 L309.6,626.0 L309.1,625.8 L308.7,623.9 L308.2,623.7 L307.8,624.7 L307.3,622.6 L306.9,618.5 L306.4,617.6 L306.0,616.7 L305.5,615.2 L305.1,617.0 L304.6,615.8 L304.2,616.2 L303.7,616.4 L303.3,615.8 L302.8,615.9 L302.4,615.6 L301.9,616.1 L301.5,615.7 L301.0,617.5 L300.6,618.6 L300.1,619.4 L299.7,628.0 L299.2,624.5 L298.8,626.6 L298.3,633.3 L297.9,638.2 L297.4,657.4 L297.0,644.2 L296.5,639.6 L296.1,641.2 L295.6,640.8 L295.2,643.0 L294.7,637.2 L294.3,640.6 L293.8,637.9 L293.4,641.6 L292.9,640.5 L292.5,643.2 L292.0,638.8 L291.6,639.4 L291.1,639.5 L290.7,640.5 L290.2,639.0 L289.8,639.4 L289.3,640.1 L288.9,641.0 L288.4,639.2 L288.0,644.2 L287.5,639.3 L287.1,640.5 L286.6,644.6 L286.2,643.5 L285.7,641.4 L285.3,641.0 L284.8,636.4 L284.4,634.2 L283.9,632.4 L283.5,638.0 L283.0,635.7 L282.6,635.2 L282.1,636.7 L281.7,637.7 L281.2,632.9 L280.8,632.6 L280.3,634.3 L279.9,633.3 L279.4,638.1 L279.0,633.0 L278.5,637.4 L278.1,635.8 L277.6,636.1 L277.2,649.1 L276.7,637.2 L276.3,638.6 L275.8,643.9 L275.4,637.4 L274.9,634.3 L274.5,633.1 L274.0,636.0 L273.6,631.8 L273.1,632.6 L272.7,634.3 L272.2,634.3 L271.8,632.7 L271.3,631.1 L270.9,638.9 L270.4,630.9 L270.0,634.8 L269.5,634.1 L269.1,630.5 L268.6,639.3 L268.2,632.0 L267.7,633.9 L267.3,634.2 L266.8,634.3 L266.4,631.1 L265.9,631.3 L265.5,633.8 L265.0,633.5 L264.6,634.0 L264.1,630.0 L263.7,631.6 L263.2,628.3 L262.8,629.3 L262.3,625.8 L261.9,626.2 L261.4,627.9 L261.0,628.0 L260.5,626.6 L260.1,626.8 L259.6,628.9 L259.2,630.2 L258.7,630.7 L258.3,628.2 L257.8,627.1 L257.4,628.8 L256.9,627.3 L256.5,638.0 L256.0,633.4 L255.6,629.3 L255.1,636.1 L254.7,633.5 L254.2,638.9 L253.8,637.0 L253.3,634.2 L252.9,636.6 L252.4,632.7 L252.0,637.1 L251.5,636.5 L251.1,635.9 L250.6,633.8 L250.2,638.8 L249.7,639.7 L249.3,635.0 L248.8,638.6 L248.4,638.1 L247.9,639.6 L247.5,636.2 L247.0,638.3 L246.6,633.5 L246.1,635.3 L245.7,638.2 L245.2,636.4 L244.8,635.7 L244.3,635.3 L243.9,639.4 L243.4,635.5 L243.0,638.7 L242.5,634.0 L242.1,634.1 L241.6,636.6 L241.2,635.9 L240.7,636.7 L240.3,638.9 L239.8,637.0 L239.4,637.9 L238.9,639.4 L238.5,634.9 L238.0,633.2 L237.6,639.5 L237.1,637.0 L236.7,634.3 L236.2,636.0 L235.8,634.6 L235.3,650.2 L234.9,636.1 L234.4,638.2 L234.0,634.5 L233.5,633.6 L233.1,628.1 L232.6,626.9 L232.2,625.2 L231.7,619.4 L231.3,615.4 L230.8,613.2 L230.4,613.2 L229.9,613.8 L229.5,614.7 L229.0,615.8 L228.6,616.1 L228.1,618.9 L227.7,617.9 L227.2,618.2 L226.8,617.7 L226.3,618.5 L225.9,621.2 L225.4,620.9 L225.0,623.3 L224.5,620.4 L224.1,625.2 L223.6,625.2 L223.2,626.3 L222.7,626.6 L222.3,625.0 L221.8,629.4 L221.4,626.2 L220.9,630.2 L220.5,630.6 L220.0,631.5 L219.6,633.5 L219.1,631.3 L218.7,630.8 L218.2,635.8 L217.8,636.2 L217.3,634.5 L216.9,632.8 L216.4,648.2 L216.0,633.3 L215.5,635.3 L215.1,633.4 L214.6,633.8 L214.2,635.9 L213.7,637.4 L213.3,635.6 L212.8,641.0 L212.4,638.1 L211.9,639.3 L211.5,636.0 L211.0,640.5 L210.6,644.3 L210.1,636.4 L209.7,642.2 L209.2,649.9 L208.8,638.7 L208.3,636.4 L207.9,643.1 L207.4,646.8 L207.0,644.0 L206.5,640.2 L206.1,641.4 L205.6,642.6 L205.2,642.3 L204.7,642.9 L204.3,641.5 L203.8,637.4 L203.4,645.0 L202.9,647.1 L202.5,643.6 L202.0,636.9 L201.6,643.1 L201.1,642.6 L200.7,641.5 L200.2,643.7 L199.8,638.5 L199.3,637.3 L198.9,642.6 L198.4,643.8 L198.0,642.3 L197.5,643.4 L197.1,641.7 L196.6,641.2 L196.2,642.0 L195.7,643.7 L195.3,640.8 L194.8,641.6 L194.4,636.8 L193.9,637.2 L193.5,638.0 L193.0,635.0 L192.6,632.8 L192.1,632.1 L191.7,630.0 L191.2,621.9 L190.8,619.7 L190.3,613.1 L189.9,613.4 L189.4,614.1 L189.0,614.4 L188.5,615.2 L188.1,615.6 L187.6,616.2 L187.2,617.1 L186.7,616.6 L186.3,616.2 L185.8,618.7 L185.4,617.0 L184.9,618.1 L184.5,619.8 L184.0,620.2 L183.6,626.9 L183.1,621.8 L182.7,623.3 L182.2,623.7 L181.8,627.0 L181.3,630.2 L180.9,629.8 L180.4,629.9 L180.0,632.2 L179.5,637.7 L179.1,637.8 L178.6,639.0 L178.2,656.6 L177.7,645.6 L177.3,646.8 L176.8,663.7 L176.4,643.1 L175.9,644.8 L175.5,646.5 L175.0,640.4 L174.6,647.4 L174.1,645.4 L173.7,645.5 L173.2,645.6 L172.8,641.6 L172.3,645.7 L171.9,644.2 L171.4,646.0 L171.0,660.4 L170.5,641.9 L170.1,641.8 L169.6,647.9 L169.2,643.1 L168.7,642.3 L168.3,640.4 L167.8,646.7 L167.4,642.5 L166.9,641.4 L166.5,649.1 L166.0,641.0 L165.6,648.0 L165.1,648.1 L164.7,643.9 L164.2,646.0 L163.8,642.0 L163.3,645.7 L162.9,647.8 L162.4,648.0 L162.0,640.5 L161.5,647.8 L161.1,649.1 L160.6,646.3 L160.2,647.1 L159.7,644.9 L159.3,647.6 L158.8,646.8 L158.4,645.4 L157.9,647.7 L157.5,647.3 L157.0,649.6 L156.6,642.8 L156.1,646.0 L155.7,644.4 L155.2,645.7 L154.8,640.8 L154.3,645.7 L153.9,646.0 L153.4,640.3 L153.0,642.6 L152.5,640.7 L152.1,644.2 L151.6,640.5 L151.2,641.5 L150.7,646.6 L150.3,640.1 L149.8,641.1 L149.4,635.5 L148.9,635.5 L148.5,631.7 L148.0,630.0 L147.6,624.8 L147.1,627.8 L146.7,629.5 L146.2,629.6 L145.8,631.7 L145.3,632.2 L144.9,630.3 L144.4,641.0 L144.0,632.0 L143.5,633.7 L143.1,633.0 L142.6,633.7 L142.2,638.4 L141.7,642.5 L141.3,637.7 L140.8,635.6 L140.4,641.2 L139.9,635.9 L139.5,642.5 L139.0,641.3 L138.6,640.5 L138.1,636.1 L137.7,636.0 L137.2,640.1 L136.8,643.4 L136.3,638.8 L135.9,637.3 L135.4,636.7 L135.0,637.0 L134.5,639.0 L134.1,636.9 L133.6,636.7 L133.2,637.7 L132.7,638.4 L132.3,639.3 L131.8,640.0 L131.4,637.1 L130.9,643.0 L130.5,641.9 L130.0,641.0 L129.6,641.0 L129.1,641.1 L128.7,636.5 L128.2,640.4 L127.8,643.0 L127.3,642.7 L126.9,636.7 L126.4,638.2 L126.0,641.9 L125.5,641.8 L125.1,642.3 L124.6,640.9 L124.2,640.0 L123.7,636.1 L123.3,641.2 L122.8,637.8 L122.4,636.3 L121.9,637.0 L121.5,636.2 L121.0,642.7 L120.6,636.5 L120.1,642.7 L119.7,640.0 L119.2,636.0 L118.8,637.0 L118.3,641.8 L117.9,641.0 L117.4,635.3 L117.0,632.8 L116.5,630.8 L116.1,631.6 L115.6,628.9 L115.2,624.8 L114.7,627.5 L114.3,624.6 L113.8,628.1 L113.4,623.8 L112.9,624.0 L112.5,626.4 L112.0,624.4 L111.6,628.0 L111.1,632.4 L110.7,626.6 L110.2,625.4 L109.8,625.5 L109.3,625.2 L108.9,627.2 L108.4,628.1 L108.0,624.1 L107.5,627.8 L107.1,628.0 L106.6,626.7 L106.2,626.9 L105.7,626.1 L105.3,623.6 L104.8,627.1 L104.4,625.7 L103.9,626.5 L103.5,630.4 L103.0,627.3 L102.6,626.0 L102.1,625.7 L101.7,625.4 L101.2,630.4 L100.8,629.5 L100.3,627.8 L99.9,624.7 L99.4,626.7 L99.0,624.3 L98.5,626.4 L98.1,626.9 L97.6,631.6 L97.2,627.8 L96.7,625.2 L96.3,627.9 L95.8,625.8 L95.4,625.6 L94.9,624.0 L94.5,626.1 L94.0,625.8 L93.6,626.9 L93.1,625.9 L92.7,626.9 L92.2,623.9 L91.8,624.2 L91.3,627.5 L90.9,623.4 L90.4,623.6 L90.0,626.3 L89.5,626.4 L89.1,625.4 L88.6,624.2 L88.2,621.8 L87.7,626.8 L87.3,620.2 L86.8,621.3 L86.4,618.2 L85.9,619.8 L85.5,619.8 L85.0,619.6 L84.6,619.1 L84.1,619.9 L83.7,619.3 L83.2,620.7 L82.8,619.3 L82.3,619.2 L81.9,618.9 L81.4,618.9 L81.0,618.3 L80.5,616.7 L80.1,614.9 L79.6,616.9 L79.2,617.0 L78.7,615.9 L78.3,620.9 L77.8,617.9 L77.4,618.7 L76.9,618.4 L76.5,619.7 L76.0,621.3 L75.6,621.9 L75.1,619.7 L74.7,620.6 L74.2,623.5 L73.8,621.5 L73.3,622.8 L72.9,623.1 L72.4,621.1 L72.0,623.5 L71.5,623.0 L71.1,620.7 L70.6,621.5 L70.2,620.9 L69.7,619.3 L69.3,620.6 L68.8,617.8 L68.4,618.1 L67.9,616.4 L67.5,618.3 L67.0,617.8 L66.6,617.9 L66.1,618.4 L65.7,621.0 L65.2,621.1 L64.8,620.1 L64.3,619.9 L63.9,623.0 L63.4,622.4 L63.0,623.1 L62.5,623.4 L62.1,624.5 L61.6,622.8 L61.2,624.8 L60.7,622.3 L60.3,625.3 L59.8,625.0 L59.4,623.0 L58.9,622.6 L58.5,622.0 L58.0,622.0 L57.6,622.8 L57.1,623.8 L56.7,622.9 L56.2,623.8 L55.8,621.5 L55.3,622.5 L54.9,620.6 L54.4,621.3 L54.0,623.4 L53.5,621.6 L53.1,624.7 L52.6,624.2 L52.2,621.2 L51.7,623.2 L51.3,624.0 L50.8,624.0 L50.4,625.1 L49.9,624.3 L49.5,632.5 L49.0,621.9 L48.6,623.6 L48.1,625.1 L47.7,626.0 L47.2,624.9 L46.8,622.6 L46.3,627.6 L45.9,623.5 L45.4,622.9 L45.0,625.0 L44.5,624.0 L44.1,622.8 L43.6,626.0 L43.2,623.5 L42.7,622.1 L42.3,624.6 L41.8,622.7 L41.4,625.1 L40.9,622.8 L40.5,623.8 L40.0,621.8 L39.6,625.3 L39.1,623.3 L38.7,624.1 L38.2,625.6 L37.8,624.1 L37.3,623.5 L36.9,622.9 L36.4,632.6 L36.0,623.8 L35.5,622.2 L35.1,626.9 L34.6,622.9 L34.2,620.2 L33.7,618.3 L33.3,614.7 L32.8,611.6 L32.4,609.4 L31.9,609.6 L31.5,610.2 L31.0,610.1 L30.6,610.9 L30.1,610.8 L29.7,610.8 L29.2,610.9 L28.8,611.3 L28.3,611.3 L27.9,611.7 L27.4,610.2 L27.0,612.0 L26.5,609.5 L26.1,609.8 L25.6,608.5 L25.2,608.6 L24.7,609.2 L24.3,610.4 L23.8,611.4 L23.4,611.9 L22.9,612.0 L22.5,612.6 L22.0,613.5 L21.6,613.5 L21.1,613.9 L20.7,614.5 L20.2,614.1 L19.8,614.3 L19.3,614.9 L18.9,614.3 L18.4,614.2 L18.0,613.2 L17.5,614.6 L17.1,612.3 L16.6,613.1 L16.2,611.4 L15.7,609.7 L15.3,608.2 L14.8,606.6Z" fill="#f07479"/><path d="M14.8,606.6 L16.6,601.9 L18.4,600.9 L20.2,600.4 L22.0,601.4 L23.8,603.0 L25.6,604.8 L27.4,603.2 L29.2,602.8 L31.0,603.3 L32.8,603.0 L34.6,594.4 L36.4,592.4 L38.2,592.4 L40.0,592.4 L41.8,592.3 L43.6,592.3 L45.4,592.3 L47.2,592.2 L49.0,592.2 L50.8,592.5 L52.6,592.9 L54.4,593.4 L56.2,593.7 L58.0,593.2 L59.8,592.8 L61.6,592.9 L63.4,594.1 L65.2,595.3 L67.0,596.8 L68.8,597.0 L70.6,594.2 L72.4,593.5 L74.2,593.3 L76.0,595.6 L77.8,597.9 L79.6,598.7 L81.4,597.2 L83.2,595.1 L85.0,595.8 L86.8,595.5 L88.6,592.3 L90.4,591.5 L92.2,590.7 L94.0,590.7 L95.8,590.7 L97.6,590.7 L99.4,590.7 L101.2,590.7 L103.0,590.7 L104.8,590.7 L106.6,590.7 L108.4,590.7 L110.2,590.7 L112.0,590.7 L113.8,590.7 L115.6,589.6 L117.4,580.8 L119.2,579.0 L121.0,578.9 L122.8,578.9 L124.6,579.0 L126.4,579.1 L128.2,579.1 L130.0,579.2 L131.8,579.2 L133.6,579.3 L135.4,579.4 L137.2,579.4 L139.0,579.5 L140.8,579.6 L142.6,581.2 L144.4,584.7 L146.2,588.0 L148.0,589.0 L149.8,578.3 L151.6,575.8 L153.4,575.2 L155.2,575.2 L157.0,575.2 L158.8,575.2 L160.6,575.2 L162.4,575.2 L164.2,575.2 L166.0,575.2 L167.8,575.2 L169.6,575.2 L171.4,575.2 L173.2,575.2 L175.0,575.2 L176.8,575.2 L178.6,577.7 L180.4,586.1 L182.2,592.3 L184.0,595.8 L185.8,597.2 L187.6,598.6 L189.4,600.2 L191.2,592.5 L193.0,582.6 L194.8,577.8 L196.6,577.9 L198.4,578.0 L200.2,578.1 L202.0,578.3 L203.8,578.4 L205.6,578.5 L207.4,578.6 L209.2,578.7 L211.0,578.8 L212.8,580.1 L214.6,581.4 L216.4,582.7 L218.2,584.0 L220.0,586.1 L221.8,589.6 L223.6,592.5 L225.4,594.8 L227.2,597.2 L229.0,599.3 L230.8,601.4 L232.6,589.9 L234.4,583.2 L236.2,581.9 L238.0,581.9 L239.8,582.0 L241.6,582.0 L243.4,582.0 L245.2,582.0 L247.0,582.1 L248.8,582.1 L250.6,582.1 L252.4,582.1 L254.2,582.8 L256.0,586.8 L257.8,588.2 L259.6,588.3 L261.4,588.5 L263.2,588.5 L265.0,585.5 L266.8,585.5 L268.6,585.5 L270.4,585.5 L272.2,585.5 L274.0,584.3 L275.8,582.9 L277.6,582.9 L279.4,582.9 L281.2,582.9 L283.0,582.9 L284.8,580.8 L286.6,578.3 L288.4,578.3 L290.2,578.3 L292.0,578.3 L293.8,578.3 L295.6,578.3 L297.4,578.3 L299.2,591.9 L301.0,597.2 L302.8,598.9 L304.6,598.9 L306.4,597.6 L308.2,591.6 L310.0,590.8 L311.8,590.5 L313.6,590.1 L315.4,587.0 L317.2,578.9 L319.0,577.0 L320.8,576.8 L322.6,576.8 L324.4,576.8 L326.2,576.8 L328.0,576.8 L329.8,576.9 L331.6,576.9 L333.4,576.9 L335.2,576.9 L337.0,576.9 L338.8,576.9 L340.6,576.9 L342.4,577.0 L344.2,577.0 L346.0,577.0 L347.8,577.0 L349.6,577.5 L351.4,579.4 L351.4,633.8 L349.6,635.7 L347.8,636.2 L346.0,636.2 L344.2,636.2 L342.4,636.2 L340.6,636.3 L338.8,636.3 L337.0,636.3 L335.2,636.3 L333.4,636.3 L331.6,636.3 L329.8,636.3 L328.0,636.4 L326.2,636.4 L324.4,636.4 L322.6,636.4 L320.8,636.4 L319.0,636.2 L317.2,634.3 L315.4,626.2 L313.6,623.1 L311.8,622.7 L310.0,622.4 L308.2,621.6 L306.4,615.6 L304.6,614.3 L302.8,614.3 L301.0,616.0 L299.2,621.3 L297.4,634.9 L295.6,634.9 L293.8,634.9 L292.0,634.9 L290.2,634.9 L288.4,634.9 L286.6,634.9 L284.8,632.4 L283.0,630.3 L281.2,630.3 L279.4,630.3 L277.6,630.3 L275.8,630.3 L274.0,628.9 L272.2,627.7 L270.4,627.7 L268.6,627.7 L266.8,627.7 L265.0,627.7 L263.2,624.7 L261.4,624.7 L259.6,624.9 L257.8,625.0 L256.0,626.4 L254.2,630.4 L252.4,631.1 L250.6,631.1 L248.8,631.1 L247.0,631.1 L245.2,631.2 L243.4,631.2 L241.6,631.2 L239.8,631.2 L238.0,631.3 L236.2,631.3 L234.4,630.0 L232.6,623.3 L230.8,611.8 L229.0,613.9 L227.2,616.0 L225.4,618.4 L223.6,620.7 L221.8,623.6 L220.0,627.1 L218.2,629.2 L216.4,630.5 L214.6,631.8 L212.8,633.1 L211.0,634.4 L209.2,634.5 L207.4,634.6 L205.6,634.7 L203.8,634.8 L202.0,634.9 L200.2,635.1 L198.4,635.2 L196.6,635.3 L194.8,635.4 L193.0,630.6 L191.2,620.7 L189.4,613.0 L187.6,614.6 L185.8,616.0 L184.0,617.4 L182.2,620.9 L180.4,627.1 L178.6,635.5 L176.8,638.0 L175.0,638.0 L173.2,638.0 L171.4,638.0 L169.6,638.0 L167.8,638.0 L166.0,638.0 L164.2,638.0 L162.4,638.0 L160.6,638.0 L158.8,638.0 L157.0,638.0 L155.2,638.0 L153.4,638.0 L151.6,637.4 L149.8,634.9 L148.0,624.2 L146.2,625.2 L144.4,628.5 L142.6,632.0 L140.8,633.6 L139.0,633.7 L137.2,633.8 L135.4,633.8 L133.6,633.9 L131.8,634.0 L130.0,634.0 L128.2,634.1 L126.4,634.1 L124.6,634.2 L122.8,634.3 L121.0,634.3 L119.2,634.2 L117.4,632.4 L115.6,623.6 L113.8,622.5 L112.0,622.5 L110.2,622.5 L108.4,622.5 L106.6,622.5 L104.8,622.5 L103.0,622.5 L101.2,622.5 L99.4,622.5 L97.6,622.5 L95.8,622.5 L94.0,622.5 L92.2,622.5 L90.4,621.7 L88.6,620.9 L86.8,617.7 L85.0,617.4 L83.2,618.1 L81.4,616.0 L79.6,614.5 L77.8,615.3 L76.0,617.6 L74.2,619.9 L72.4,619.7 L70.6,619.0 L68.8,616.2 L67.0,616.4 L65.2,617.9 L63.4,619.1 L61.6,620.3 L59.8,620.4 L58.0,620.0 L56.2,619.5 L54.4,619.8 L52.6,620.3 L50.8,620.7 L49.0,621.0 L47.2,621.0 L45.4,620.9 L43.6,620.9 L41.8,620.9 L40.0,620.8 L38.2,620.8 L36.4,620.8 L34.6,618.8 L32.8,610.2 L31.0,609.9 L29.2,610.4 L27.4,610.0 L25.6,608.4 L23.8,610.2 L22.0,611.8 L20.2,612.8 L18.4,612.3 L16.6,611.3 L14.8,606.6Z" fill="#f07479"/><line x1="118.7" y1="556.5" x2="118.7" y2="656.7" stroke="#f07479" stroke-width="0.7" opacity="0.75"/><line x1="173.2" y1="551.2" x2="173.2" y2="662.0" stroke="#f07479" stroke-width="0.7" opacity="0.75"/><line x1="175.8" y1="553.8" x2="175.8" y2="659.4" stroke="#f07479" stroke-width="0.7" opacity="0.75"/><line x1="286.9" y1="549.9" x2="286.9" y2="663.3" stroke="#f07479" stroke-width="0.7" opacity="0.75"/><line x1="150.1" y1="560.4" x2="150.1" y2="652.8" stroke="#f07479" stroke-width="0.7" opacity="0.75"/><line x1="201.8" y1="560.4" x2="201.8" y2="652.8" stroke="#f07479" stroke-width="0.7" opacity="0.75"/>
<path d="M402.5,479.4 L403.0,473.6 L403.4,479.5 L403.9,478.6 L404.3,477.1 L404.8,480.2 L405.2,480.3 L405.7,477.1 L406.1,477.4 L406.6,480.1 L407.0,478.8 L407.5,479.1 L407.9,477.1 L408.4,476.8 L408.8,476.9 L409.3,479.8 L409.7,480.4 L410.2,477.6 L410.6,474.2 L411.1,479.6 L411.5,477.2 L412.0,480.8 L412.4,480.4 L412.9,477.6 L413.3,479.2 L413.8,478.9 L414.2,478.7 L414.7,476.9 L415.1,481.2 L415.6,479.2 L416.0,477.4 L416.5,478.2 L416.9,480.5 L417.4,475.7 L417.8,474.3 L418.3,468.5 L418.7,465.1 L419.2,465.2 L419.6,466.0 L420.1,462.3 L420.5,464.2 L421.0,462.4 L421.4,461.1 L421.9,461.9 L422.3,460.4 L422.8,455.2 L423.2,454.8 L423.7,457.7 L424.1,462.6 L424.6,456.2 L425.0,455.0 L425.5,465.1 L425.9,458.0 L426.4,458.6 L426.8,460.1 L427.3,459.5 L427.7,456.1 L428.2,459.3 L428.6,464.9 L429.1,471.4 L429.5,472.8 L430.0,469.6 L430.4,468.3 L430.9,470.3 L431.3,469.6 L431.8,467.6 L432.2,466.9 L432.7,459.1 L433.1,457.9 L433.6,460.4 L434.0,468.0 L434.5,470.2 L434.9,467.7 L435.4,470.5 L435.8,469.6 L436.3,461.8 L436.7,470.3 L437.2,466.3 L437.6,472.2 L438.1,476.4 L438.5,475.8 L439.0,473.6 L439.4,476.2 L439.9,473.3 L440.3,474.9 L440.8,476.0 L441.2,478.1 L441.7,476.5 L442.1,477.8 L442.6,475.7 L443.0,477.1 L443.5,478.2 L443.9,478.5 L444.4,478.8 L444.8,477.5 L445.3,477.6 L445.7,476.7 L446.2,479.0 L446.6,476.6 L447.1,479.4 L447.5,479.3 L448.0,477.6 L448.4,479.5 L448.9,480.7 L449.3,480.1 L449.8,479.0 L450.2,480.7 L450.7,477.9 L451.1,480.3 L451.6,480.6 L452.0,479.8 L452.5,479.4 L452.9,479.8 L453.4,480.0 L453.8,481.1 L454.3,480.3 L454.7,482.2 L455.2,480.4 L455.6,480.2 L456.1,480.6 L456.5,481.4 L457.0,482.7 L457.4,481.0 L457.9,482.1 L458.3,481.8 L458.8,482.1 L459.2,481.6 L459.7,481.3 L460.1,482.2 L460.6,481.8 L461.0,483.9 L461.5,482.9 L461.9,484.1 L462.4,483.0 L462.8,481.2 L463.3,484.3 L463.7,482.8 L464.2,483.5 L464.6,484.0 L465.1,483.9 L465.5,484.6 L466.0,483.8 L466.4,483.5 L466.9,484.0 L467.3,484.1 L467.8,484.3 L468.2,484.5 L468.7,484.5 L469.1,483.8 L469.6,482.8 L470.0,484.8 L470.5,484.0 L470.9,484.6 L471.4,483.4 L471.8,484.4 L472.3,484.3 L472.7,482.8 L473.2,484.6 L473.6,484.1 L474.1,481.0 L474.5,482.2 L475.0,483.8 L475.4,481.8 L475.9,481.9 L476.3,482.7 L476.8,482.8 L477.2,481.6 L477.7,481.4 L478.1,481.3 L478.6,481.2 L479.0,480.3 L479.5,482.4 L479.9,480.8 L480.4,481.6 L480.8,480.4 L481.3,481.3 L481.7,479.9 L482.2,481.1 L482.6,481.5 L483.1,481.1 L483.5,479.1 L484.0,479.9 L484.4,475.1 L484.9,473.7 L485.3,472.2 L485.8,466.6 L486.2,468.2 L486.7,463.4 L487.1,454.9 L487.6,455.3 L488.0,447.7 L488.5,449.7 L488.9,459.1 L489.4,457.4 L489.8,467.5 L490.3,466.2 L490.7,469.5 L491.2,470.3 L491.6,465.1 L492.1,471.4 L492.5,472.4 L493.0,470.3 L493.4,471.7 L493.9,471.0 L494.3,475.3 L494.8,475.2 L495.2,478.8 L495.7,478.6 L496.1,480.1 L496.6,476.9 L497.0,477.6 L497.5,478.4 L497.9,477.2 L498.4,477.2 L498.8,478.8 L499.3,477.1 L499.7,479.2 L500.2,480.3 L500.6,477.9 L501.1,480.9 L501.5,480.0 L502.0,478.0 L502.4,476.2 L502.9,478.8 L503.3,477.9 L503.8,476.7 L504.2,473.2 L504.7,477.2 L505.1,470.2 L505.6,476.3 L506.0,473.3 L506.5,475.4 L506.9,471.9 L507.4,474.6 L507.8,475.1 L508.3,474.5 L508.7,474.1 L509.2,468.6 L509.6,467.7 L510.1,467.6 L510.5,473.9 L511.0,470.3 L511.4,470.7 L511.9,468.2 L512.3,469.0 L512.8,474.4 L513.2,474.2 L513.7,468.7 L514.1,474.6 L514.6,471.6 L515.0,473.6 L515.5,470.2 L515.9,470.8 L516.4,473.1 L516.8,472.7 L517.3,474.1 L517.7,476.1 L518.2,476.2 L518.6,476.3 L519.1,477.5 L519.5,479.9 L520.0,479.9 L520.4,480.8 L520.9,481.0 L521.3,481.4 L521.8,479.2 L522.2,480.3 L522.7,480.6 L523.1,481.3 L523.6,479.2 L524.0,481.3 L524.5,480.3 L524.9,479.4 L525.4,480.2 L525.8,481.3 L526.3,481.4 L526.7,481.6 L527.2,481.1 L527.6,481.0 L528.1,479.1 L528.5,481.0 L529.0,479.6 L529.4,478.5 L529.9,480.1 L530.3,478.2 L530.8,479.8 L531.2,479.9 L531.7,480.0 L532.1,479.0 L532.6,479.9 L533.0,480.8 L533.5,479.1 L533.9,477.1 L534.4,481.5 L534.8,481.9 L535.3,483.4 L535.7,483.5 L536.2,484.7 L536.6,483.9 L537.1,483.9 L537.5,483.5 L538.0,483.3 L538.4,481.7 L538.9,484.3 L539.3,483.6 L539.8,483.9 L540.2,483.6 L540.7,482.7 L541.1,479.9 L541.6,476.6 L542.0,478.6 L542.5,476.9 L542.9,472.4 L543.4,464.4 L543.8,454.7 L544.3,448.9 L544.7,439.0 L545.2,448.6 L545.6,450.7 L546.1,460.6 L546.5,456.5 L547.0,466.6 L547.4,461.8 L547.9,463.9 L548.3,463.2 L548.8,471.0 L549.2,471.8 L549.7,472.9 L550.1,472.0 L550.6,469.7 L551.0,474.4 L551.5,470.0 L551.9,471.6 L552.4,475.5 L552.8,476.0 L553.3,474.6 L553.7,477.9 L554.2,475.8 L554.6,475.9 L555.1,477.9 L555.5,478.9 L556.0,477.5 L556.4,478.0 L556.9,477.6 L557.3,476.5 L557.8,476.1 L558.2,478.1 L558.7,477.6 L559.1,479.4 L559.6,477.3 L560.0,477.8 L560.5,477.9 L560.9,478.5 L561.4,480.6 L561.8,479.1 L562.3,478.3 L562.7,479.9 L563.2,479.0 L563.6,480.7 L564.1,479.5 L564.5,479.0 L565.0,480.9 L565.4,479.6 L565.9,480.3 L566.3,481.3 L566.8,479.2 L567.2,480.0 L567.7,479.5 L568.1,481.5 L568.6,482.1 L569.0,481.7 L569.5,482.6 L569.9,480.1 L570.4,482.2 L570.8,480.6 L571.3,481.7 L571.7,482.5 L572.2,481.3 L572.6,483.1 L573.1,482.2 L573.5,483.0 L574.0,481.6 L574.4,481.8 L574.9,482.5 L575.3,483.7 L575.8,482.8 L576.2,482.4 L576.7,481.3 L577.1,482.9 L577.6,482.0 L578.0,479.7 L578.5,481.3 L578.9,482.1 L579.4,481.9 L579.8,480.7 L580.3,479.1 L580.7,479.4 L581.2,477.1 L581.6,479.4 L582.1,474.8 L582.5,473.9 L583.0,475.4 L583.4,467.2 L583.9,468.1 L584.3,466.2 L584.8,469.4 L585.2,465.9 L585.7,462.0 L586.1,460.9 L586.6,459.0 L587.0,458.1 L587.5,464.7 L587.9,465.7 L588.4,465.8 L588.8,468.5 L589.3,467.4 L589.7,470.4 L590.2,472.7 L590.6,475.1 L591.1,472.9 L591.5,466.8 L592.0,476.4 L592.4,472.2 L592.9,472.1 L593.3,472.3 L593.8,472.9 L594.2,471.7 L594.7,467.1 L595.1,469.8 L595.6,465.5 L596.0,468.3 L596.5,460.2 L596.9,462.3 L597.4,462.9 L597.8,453.0 L598.3,455.9 L598.7,448.7 L599.2,449.6 L599.6,449.8 L600.1,453.5 L600.5,441.8 L601.0,439.2 L601.4,437.1 L601.9,447.9 L602.3,445.7 L602.8,455.6 L603.2,454.4 L603.7,458.4 L604.1,459.0 L604.6,455.0 L605.0,458.9 L605.5,455.1 L605.9,453.5 L606.4,464.4 L606.8,461.8 L607.3,462.9 L607.7,458.3 L608.2,458.6 L608.6,460.4 L609.1,468.7 L609.5,467.6 L610.0,468.0 L610.4,470.3 L610.9,466.7 L611.3,468.0 L611.8,471.8 L612.2,473.9 L612.7,471.5 L613.1,471.8 L613.6,470.6 L614.0,476.8 L614.5,478.3 L614.9,478.1 L615.4,474.9 L615.8,475.3 L616.3,476.3 L616.7,475.3 L617.2,475.4 L617.6,479.3 L618.1,479.0 L618.5,475.7 L619.0,478.5 L619.4,476.4 L619.9,478.9 L620.3,476.1 L620.8,476.7 L621.2,477.3 L621.7,476.7 L622.1,479.1 L622.6,477.6 L623.0,477.3 L623.5,479.9 L623.9,479.4 L624.4,480.1 L624.8,478.2 L625.3,478.5 L625.7,478.3 L626.2,479.2 L626.6,478.0 L627.1,477.7 L627.5,479.8 L628.0,479.6 L628.4,478.5 L628.9,478.7 L629.3,479.3 L629.8,480.6 L630.2,480.9 L630.7,479.2 L631.1,480.6 L631.6,481.0 L632.0,479.6 L632.5,481.1 L632.9,481.3 L633.4,480.5 L633.8,478.6 L634.3,480.7 L634.7,480.2 L635.2,478.6 L635.6,481.5 L636.1,479.8 L636.5,478.9 L637.0,481.4 L637.4,481.5 L637.9,480.5 L638.3,480.8 L638.8,481.4 L639.2,479.4 L639.7,479.2 L640.1,481.3 L640.6,480.1 L641.0,481.5 L641.5,481.3 L641.9,480.2 L642.4,479.2 L642.8,479.8 L643.3,481.0 L643.7,482.1 L644.2,481.4 L644.6,479.8 L645.1,480.3 L645.5,481.5 L646.0,482.1 L646.4,481.5 L646.9,481.7 L647.3,482.0 L647.8,481.1 L648.2,481.7 L648.7,481.5 L649.1,479.9 L649.6,480.3 L650.0,482.2 L650.5,479.4 L650.9,478.3 L651.4,478.7 L651.8,476.5 L652.3,474.7 L652.7,474.3 L653.2,468.0 L653.6,470.4 L654.1,469.5 L654.5,465.6 L655.0,467.8 L655.4,456.3 L655.9,459.8 L656.3,461.2 L656.8,456.1 L657.2,465.8 L657.7,460.9 L658.1,457.9 L658.6,462.7 L659.0,466.8 L659.5,465.1 L659.9,466.9 L660.4,467.0 L660.8,466.5 L661.3,468.6 L661.7,465.9 L662.2,464.7 L662.6,468.0 L663.1,466.2 L663.5,468.7 L664.0,468.5 L664.4,468.2 L664.9,472.3 L665.3,469.9 L665.8,472.1 L666.2,470.0 L666.7,474.9 L667.1,472.9 L667.6,472.0 L668.0,473.3 L668.5,473.9 L668.9,476.5 L669.4,477.0 L669.8,474.5 L670.3,477.3 L670.7,478.3 L671.2,478.8 L671.6,475.8 L672.1,477.6 L672.5,475.9 L673.0,477.8 L673.4,477.3 L673.9,478.5 L674.3,479.8 L674.8,477.7 L675.2,479.1 L675.7,479.4 L676.1,479.0 L676.6,479.5 L677.0,478.1 L677.5,479.3 L677.9,478.3 L678.4,481.1 L678.8,479.6 L679.3,481.0 L679.7,480.7 L680.2,479.8 L680.6,480.0 L681.1,481.8 L681.5,481.0 L682.0,481.3 L682.4,480.3 L682.9,481.4 L683.3,480.9 L683.8,480.9 L684.2,481.4 L684.7,482.4 L685.1,483.2 L685.6,484.0 L686.0,482.2 L686.5,483.2 L686.9,483.9 L687.4,484.3 L687.8,483.0 L688.3,482.8 L688.7,483.2 L689.2,483.8 L689.6,482.7 L690.1,483.4 L690.5,483.3 L691.0,482.9 L691.4,482.5 L691.9,483.8 L692.3,483.1 L692.8,482.5 L693.2,483.9 L693.7,483.9 L694.1,483.4 L694.6,483.2 L695.0,483.4 L695.5,482.7 L695.9,480.5 L696.4,476.9 L696.8,475.2 L697.3,473.3 L697.7,471.8 L698.2,470.6 L698.6,468.0 L699.1,462.2 L699.5,462.0 L700.0,459.1 L700.4,457.8 L700.9,466.5 L701.3,466.4 L701.8,471.4 L702.2,470.7 L702.7,473.2 L703.1,469.6 L703.6,471.8 L704.0,472.7 L704.5,470.4 L704.9,473.7 L705.4,475.3 L705.8,475.6 L706.3,471.9 L706.7,472.5 L707.2,471.8 L707.6,475.4 L708.1,474.7 L708.5,471.2 L709.0,469.1 L709.4,472.9 L709.9,470.1 L710.3,469.1 L710.8,468.4 L711.2,462.6 L711.7,459.8 L712.1,461.9 L712.6,458.5 L713.0,441.1 L713.5,456.6 L713.9,467.4 L714.4,464.2 L714.8,470.7 L715.3,469.8 L715.7,471.4 L716.2,470.1 L716.6,471.6 L717.1,474.1 L717.5,473.0 L718.0,475.6 L718.4,472.8 L718.9,469.9 L719.3,478.2 L719.8,475.0 L720.2,476.3 L720.7,477.1 L721.1,478.7 L721.6,477.6 L722.0,478.5 L722.5,476.9 L722.9,478.6 L723.4,477.6 L723.8,476.7 L724.3,478.8 L724.7,476.7 L725.2,474.7 L725.6,477.2 L726.1,480.1 L726.5,476.5 L727.0,476.7 L727.4,478.1 L727.9,478.8 L728.3,476.0 L728.8,477.3 L729.2,477.2 L729.7,474.6 L730.1,474.8 L730.6,476.4 L731.0,473.9 L731.5,471.8 L731.9,474.4 L732.4,477.1 L732.8,473.8 L733.3,476.3 L733.7,473.9 L734.2,473.3 L734.6,472.9 L735.1,472.6 L735.5,472.7 L736.0,480.0 L736.4,485.5 L736.4,491.8 L736.0,497.7 L735.5,506.7 L735.1,502.6 L734.6,501.3 L734.2,500.9 L733.7,506.0 L733.3,501.0 L732.8,509.1 L732.4,499.5 L731.9,500.4 L731.5,501.0 L731.0,501.3 L730.6,502.1 L730.1,501.4 L729.7,501.0 L729.2,500.1 L728.8,502.0 L728.3,499.6 L727.9,498.9 L727.4,501.5 L727.0,502.5 L726.5,499.1 L726.1,500.3 L725.6,498.9 L725.2,499.2 L724.7,498.0 L724.3,501.5 L723.8,501.6 L723.4,498.3 L722.9,499.1 L722.5,499.4 L722.0,502.2 L721.6,501.4 L721.1,500.6 L720.7,498.3 L720.2,501.2 L719.8,501.5 L719.3,503.2 L718.9,500.6 L718.4,503.1 L718.0,501.2 L717.5,501.4 L717.1,502.8 L716.6,506.0 L716.2,503.7 L715.7,506.9 L715.3,507.6 L714.8,507.5 L714.4,509.5 L713.9,517.2 L713.5,521.1 L713.0,522.8 L712.6,513.6 L712.1,519.1 L711.7,516.8 L711.2,517.3 L710.8,511.9 L710.3,511.7 L709.9,506.1 L709.4,509.4 L709.0,506.6 L708.5,507.0 L708.1,506.3 L707.6,506.3 L707.2,505.0 L706.7,504.9 L706.3,505.5 L705.8,503.1 L705.4,502.2 L704.9,501.1 L704.5,502.5 L704.0,504.2 L703.6,503.0 L703.1,504.1 L702.7,506.7 L702.2,506.6 L701.8,509.5 L701.3,509.4 L700.9,514.1 L700.4,512.3 L700.0,530.5 L699.5,517.8 L699.1,514.9 L698.6,508.2 L698.2,505.1 L697.7,506.3 L697.3,501.9 L696.8,498.4 L696.4,500.4 L695.9,496.9 L695.5,495.4 L695.0,494.2 L694.6,494.9 L694.1,494.2 L693.7,494.4 L693.2,494.5 L692.8,494.7 L692.3,496.8 L691.9,494.7 L691.4,493.7 L691.0,493.8 L690.5,494.0 L690.1,493.1 L689.6,494.4 L689.2,494.9 L688.7,494.7 L688.3,494.4 L687.8,496.8 L687.4,493.3 L686.9,494.0 L686.5,494.6 L686.0,494.6 L685.6,493.8 L685.1,495.5 L684.7,495.6 L684.2,496.3 L683.8,496.0 L683.3,494.4 L682.9,495.1 L682.4,496.6 L682.0,496.5 L681.5,495.8 L681.1,497.1 L680.6,495.3 L680.2,499.3 L679.7,497.8 L679.3,498.0 L678.8,498.6 L678.4,497.9 L677.9,498.6 L677.5,496.3 L677.0,497.5 L676.6,498.7 L676.1,497.3 L675.7,497.9 L675.2,499.4 L674.8,504.4 L674.3,498.3 L673.9,499.6 L673.4,498.8 L673.0,500.0 L672.5,501.0 L672.1,502.3 L671.6,502.3 L671.2,498.8 L670.7,501.6 L670.3,502.5 L669.8,503.7 L669.4,504.2 L668.9,503.8 L668.5,502.0 L668.0,502.3 L667.6,501.0 L667.1,504.8 L666.7,502.2 L666.2,505.0 L665.8,507.2 L665.3,503.5 L664.9,504.5 L664.4,504.5 L664.0,507.8 L663.5,506.9 L663.1,507.0 L662.6,510.3 L662.2,511.7 L661.7,508.6 L661.3,514.3 L660.8,511.7 L660.4,510.0 L659.9,509.1 L659.5,509.4 L659.0,519.5 L658.6,516.2 L658.1,515.0 L657.7,511.6 L657.2,515.6 L656.8,517.1 L656.3,522.0 L655.9,516.9 L655.4,527.5 L655.0,517.6 L654.5,512.0 L654.1,508.2 L653.6,508.3 L653.2,509.4 L652.7,507.2 L652.3,501.9 L651.8,502.9 L651.4,499.5 L650.9,498.4 L650.5,496.6 L650.0,495.0 L649.6,495.5 L649.1,496.8 L648.7,497.2 L648.2,495.7 L647.8,495.9 L647.3,496.1 L646.9,497.5 L646.4,495.3 L646.0,497.8 L645.5,495.6 L645.1,496.7 L644.6,497.6 L644.2,497.4 L643.7,496.5 L643.3,495.2 L642.8,497.5 L642.4,495.7 L641.9,497.8 L641.5,498.1 L641.0,497.9 L640.6,497.0 L640.1,498.1 L639.7,496.8 L639.2,496.6 L638.8,498.1 L638.3,497.0 L637.9,497.3 L637.4,498.3 L637.0,498.0 L636.5,498.5 L636.1,495.6 L635.6,498.3 L635.2,495.7 L634.7,498.1 L634.3,497.8 L633.8,498.3 L633.4,497.9 L632.9,496.3 L632.5,495.8 L632.0,497.0 L631.6,495.9 L631.1,498.5 L630.7,496.8 L630.2,496.3 L629.8,498.8 L629.3,496.9 L628.9,499.2 L628.4,497.2 L628.0,498.2 L627.5,498.8 L627.1,496.4 L626.6,496.9 L626.2,498.9 L625.7,497.3 L625.3,500.1 L624.8,500.3 L624.4,497.7 L623.9,499.0 L623.5,499.0 L623.0,499.7 L622.6,500.9 L622.1,499.4 L621.7,499.6 L621.2,498.5 L620.8,500.7 L620.3,497.6 L619.9,499.3 L619.4,499.4 L619.0,498.3 L618.5,498.8 L618.1,502.1 L617.6,498.4 L617.2,501.2 L616.7,502.0 L616.3,498.4 L615.8,500.0 L615.4,498.7 L614.9,499.6 L614.5,500.3 L614.0,503.2 L613.6,501.0 L613.1,505.2 L612.7,502.4 L612.2,507.1 L611.8,513.8 L611.3,507.7 L610.9,508.7 L610.4,511.1 L610.0,506.7 L609.5,514.2 L609.1,512.0 L608.6,509.2 L608.2,517.9 L607.7,515.2 L607.3,521.8 L606.8,519.0 L606.4,521.5 L605.9,520.6 L605.5,525.0 L605.0,521.0 L604.6,517.1 L604.1,517.3 L603.7,527.7 L603.2,521.4 L602.8,530.1 L602.3,529.0 L601.9,526.5 L601.4,540.4 L601.0,543.4 L600.5,534.0 L600.1,534.6 L599.6,531.7 L599.2,531.3 L598.7,531.4 L598.3,522.3 L597.8,531.5 L597.4,522.1 L596.9,513.1 L596.5,516.4 L596.0,517.1 L595.6,508.2 L595.1,507.3 L594.7,506.4 L594.2,509.2 L593.8,504.0 L593.3,509.1 L592.9,504.2 L592.4,504.9 L592.0,505.3 L591.5,504.9 L591.1,505.1 L590.6,503.5 L590.2,503.9 L589.7,506.7 L589.3,506.5 L588.8,508.7 L588.4,511.1 L587.9,517.0 L587.5,511.5 L587.0,517.2 L586.6,515.7 L586.1,516.7 L585.7,514.9 L585.2,511.0 L584.8,513.0 L584.3,508.1 L583.9,504.3 L583.4,506.1 L583.0,504.8 L582.5,499.9 L582.1,502.4 L581.6,501.4 L581.2,499.1 L580.7,497.0 L580.3,495.4 L579.8,497.6 L579.4,497.3 L578.9,497.6 L578.5,495.9 L578.0,495.5 L577.6,495.8 L577.1,494.7 L576.7,495.2 L576.2,494.8 L575.8,494.1 L575.3,495.7 L574.9,494.1 L574.4,494.4 L574.0,494.3 L573.5,494.4 L573.1,496.4 L572.6,496.3 L572.2,494.2 L571.7,496.3 L571.3,495.7 L570.8,495.3 L570.4,495.1 L569.9,495.4 L569.5,497.4 L569.0,496.1 L568.6,495.6 L568.1,497.6 L567.7,495.5 L567.2,498.3 L566.8,496.0 L566.3,496.7 L565.9,496.8 L565.4,498.1 L565.0,496.5 L564.5,497.1 L564.1,500.3 L563.6,497.9 L563.2,497.1 L562.7,496.5 L562.3,499.9 L561.8,497.5 L561.4,497.8 L560.9,498.2 L560.5,500.4 L560.0,500.7 L559.6,499.1 L559.1,497.5 L558.7,501.6 L558.2,498.6 L557.8,497.7 L557.3,499.6 L556.9,498.8 L556.4,502.1 L556.0,498.5 L555.5,502.1 L555.1,498.4 L554.6,501.9 L554.2,500.2 L553.7,499.5 L553.3,502.6 L552.8,502.5 L552.4,503.2 L551.9,503.7 L551.5,502.1 L551.0,502.1 L550.6,506.9 L550.1,505.8 L549.7,503.6 L549.2,505.4 L548.8,509.5 L548.3,512.2 L547.9,515.0 L547.4,522.7 L547.0,516.0 L546.5,513.5 L546.1,520.9 L545.6,525.1 L545.2,523.1 L544.7,528.0 L544.3,529.2 L543.8,522.0 L543.4,510.2 L542.9,509.8 L542.5,504.9 L542.0,499.8 L541.6,500.6 L541.1,496.3 L540.7,494.5 L540.2,493.4 L539.8,493.1 L539.3,493.5 L538.9,493.4 L538.4,493.0 L538.0,493.5 L537.5,493.5 L537.1,494.0 L536.6,494.0 L536.2,493.4 L535.7,493.2 L535.3,495.3 L534.8,494.4 L534.4,496.1 L533.9,496.5 L533.5,497.1 L533.0,498.2 L532.6,497.9 L532.1,497.2 L531.7,496.7 L531.2,502.0 L530.8,499.4 L530.3,499.6 L529.9,496.8 L529.4,501.2 L529.0,496.9 L528.5,498.4 L528.1,497.3 L527.6,497.6 L527.2,496.4 L526.7,497.6 L526.3,496.4 L525.8,497.5 L525.4,500.6 L524.9,497.1 L524.5,497.2 L524.0,496.5 L523.6,496.5 L523.1,498.1 L522.7,497.1 L522.2,497.9 L521.8,498.5 L521.3,497.7 L520.9,496.2 L520.4,496.8 L520.0,498.4 L519.5,497.3 L519.1,498.2 L518.6,498.7 L518.2,498.1 L517.7,498.8 L517.3,503.9 L516.8,502.0 L516.4,502.2 L515.9,502.5 L515.5,506.8 L515.0,504.1 L514.6,504.1 L514.1,505.6 L513.7,506.7 L513.2,502.6 L512.8,509.0 L512.3,503.9 L511.9,508.6 L511.4,508.7 L511.0,506.4 L510.5,505.8 L510.1,506.6 L509.6,509.6 L509.2,503.3 L508.7,503.4 L508.3,504.7 L507.8,508.0 L507.4,502.9 L506.9,511.6 L506.5,506.5 L506.0,501.2 L505.6,502.2 L505.1,504.7 L504.7,502.5 L504.2,499.7 L503.8,500.1 L503.3,502.6 L502.9,499.5 L502.4,500.0 L502.0,498.3 L501.5,498.9 L501.1,498.4 L500.6,499.4 L500.2,497.6 L499.7,499.5 L499.3,498.6 L498.8,497.3 L498.4,499.8 L497.9,500.2 L497.5,501.1 L497.0,500.0 L496.6,500.1 L496.1,498.8 L495.7,501.2 L495.2,500.9 L494.8,500.0 L494.3,504.8 L493.9,501.3 L493.4,501.1 L493.0,506.6 L492.5,508.3 L492.1,507.0 L491.6,511.5 L491.2,512.1 L490.7,509.6 L490.3,514.8 L489.8,516.8 L489.4,515.3 L488.9,526.1 L488.5,522.7 L488.0,529.1 L487.6,526.0 L487.1,520.2 L486.7,510.6 L486.2,510.4 L485.8,508.4 L485.3,506.1 L484.9,503.3 L484.4,501.2 L484.0,498.5 L483.5,498.4 L483.1,497.6 L482.6,499.1 L482.2,496.0 L481.7,498.1 L481.3,497.2 L480.8,495.3 L480.4,495.2 L479.9,495.3 L479.5,495.9 L479.0,496.7 L478.6,496.9 L478.1,494.6 L477.7,494.3 L477.2,495.0 L476.8,494.3 L476.3,494.3 L475.9,494.9 L475.4,493.9 L475.0,494.2 L474.5,493.4 L474.1,494.9 L473.6,494.8 L473.2,492.8 L472.7,492.6 L472.3,492.7 L471.8,493.0 L471.4,493.4 L470.9,492.6 L470.5,492.9 L470.0,494.3 L469.6,493.9 L469.1,493.5 L468.7,494.2 L468.2,493.5 L467.8,492.6 L467.3,493.3 L466.9,493.0 L466.4,493.2 L466.0,494.0 L465.5,492.9 L465.1,494.1 L464.6,494.3 L464.2,494.5 L463.7,494.2 L463.3,494.0 L462.8,494.3 L462.4,495.2 L461.9,494.3 L461.5,494.4 L461.0,495.2 L460.6,494.7 L460.1,496.0 L459.7,494.7 L459.2,494.0 L458.8,495.4 L458.3,494.5 L457.9,496.1 L457.4,496.2 L457.0,495.1 L456.5,496.6 L456.1,495.6 L455.6,494.9 L455.2,495.9 L454.7,497.1 L454.3,496.5 L453.8,497.5 L453.4,495.8 L452.9,497.5 L452.5,497.9 L452.0,496.2 L451.6,498.5 L451.1,498.4 L450.7,497.5 L450.2,499.5 L449.8,496.9 L449.3,498.7 L448.9,497.9 L448.4,498.2 L448.0,497.3 L447.5,500.5 L447.1,500.0 L446.6,498.3 L446.2,500.4 L445.7,501.6 L445.3,500.8 L444.8,501.4 L444.4,502.3 L443.9,499.7 L443.5,498.3 L443.0,502.3 L442.6,502.9 L442.1,501.4 L441.7,502.2 L441.2,502.5 L440.8,502.1 L440.3,502.9 L439.9,501.3 L439.4,501.5 L439.0,501.9 L438.5,501.2 L438.1,502.5 L437.6,501.7 L437.2,506.3 L436.7,506.0 L436.3,503.4 L435.8,503.0 L435.4,506.7 L434.9,509.0 L434.5,504.8 L434.0,513.7 L433.6,517.0 L433.1,523.3 L432.7,515.3 L432.2,509.0 L431.8,511.1 L431.3,505.5 L430.9,505.5 L430.4,508.7 L430.0,506.4 L429.5,511.2 L429.1,506.4 L428.6,511.6 L428.2,510.1 L427.7,530.7 L427.3,521.0 L426.8,520.7 L426.4,515.8 L425.9,517.9 L425.5,520.4 L425.0,522.1 L424.6,512.7 L424.1,513.0 L423.7,518.1 L423.2,514.8 L422.8,523.4 L422.3,537.4 L421.9,516.3 L421.4,513.9 L421.0,520.7 L420.5,519.7 L420.1,512.8 L419.6,513.1 L419.2,517.0 L418.7,514.8 L418.3,513.9 L417.8,506.7 L417.4,500.3 L416.9,497.1 L416.5,496.8 L416.0,498.5 L415.6,497.6 L415.1,498.2 L414.7,498.1 L414.2,497.0 L413.8,499.6 L413.3,498.6 L412.9,499.6 L412.4,496.6 L412.0,497.2 L411.5,497.7 L411.1,499.9 L410.6,504.1 L410.2,498.3 L409.7,500.0 L409.3,500.0 L408.8,500.3 L408.4,499.4 L407.9,499.5 L407.5,498.2 L407.0,499.3 L406.6,497.4 L406.1,498.6 L405.7,499.7 L405.2,500.3 L404.8,499.9 L404.3,499.0 L403.9,499.5 L403.4,500.9 L403.0,497.3 L402.5,499.2Z" fill="#5898c4"/><path d="M402.5,480.9 L404.3,480.9 L406.1,481.0 L407.9,481.0 L409.7,481.1 L411.5,481.3 L413.3,481.5 L415.1,481.7 L416.9,482.0 L418.7,470.2 L420.5,467.5 L422.3,466.3 L424.1,466.5 L425.9,466.6 L427.7,467.2 L429.5,474.2 L431.3,473.5 L433.1,462.6 L434.9,474.7 L436.7,476.3 L438.5,477.8 L440.3,478.8 L442.1,479.3 L443.9,479.8 L445.7,480.3 L447.5,480.8 L449.3,481.3 L451.1,481.8 L452.9,482.3 L454.7,482.8 L456.5,483.2 L458.3,483.6 L460.1,484.0 L461.9,484.4 L463.7,484.8 L465.5,484.9 L467.3,485.0 L469.1,485.0 L470.9,485.1 L472.7,485.0 L474.5,484.5 L476.3,483.9 L478.1,483.4 L479.9,482.8 L481.7,482.2 L483.5,481.7 L485.3,475.3 L487.1,466.5 L488.9,464.2 L490.7,471.4 L492.5,475.5 L494.3,478.3 L496.1,480.8 L497.9,481.1 L499.7,481.3 L501.5,481.5 L503.3,479.6 L505.1,477.8 L506.9,476.7 L508.7,475.7 L510.5,474.8 L512.3,475.4 L514.1,476.0 L515.9,477.2 L517.7,479.5 L519.5,481.6 L521.3,481.9 L523.1,482.3 L524.9,482.7 L526.7,483.1 L528.5,482.3 L530.3,481.5 L532.1,481.8 L533.9,482.6 L535.7,485.0 L537.5,485.1 L539.3,485.1 L541.1,482.0 L542.9,475.0 L544.7,456.6 L546.5,468.9 L548.3,472.2 L550.1,475.4 L551.9,477.0 L553.7,478.7 L555.5,479.9 L557.3,480.3 L559.1,480.7 L560.9,481.1 L562.7,481.5 L564.5,481.9 L566.3,482.3 L568.1,482.7 L569.9,483.1 L571.7,483.5 L573.5,484.0 L575.3,484.0 L577.1,483.5 L578.9,482.9 L580.7,482.2 L582.5,478.3 L584.3,473.5 L586.1,465.9 L587.9,470.2 L589.7,474.6 L591.5,477.1 L593.3,475.5 L595.1,473.0 L596.9,466.9 L598.7,460.7 L600.5,453.8 L602.3,458.8 L604.1,464.0 L605.9,465.7 L607.7,467.5 L609.5,471.3 L611.3,474.6 L613.1,477.5 L614.9,479.4 L616.7,479.7 L618.5,480.1 L620.3,480.4 L622.1,480.8 L623.9,481.0 L625.7,481.3 L627.5,481.5 L629.3,481.8 L631.1,482.0 L632.9,482.1 L634.7,482.2 L636.5,482.2 L638.3,482.3 L640.1,482.4 L641.9,482.5 L643.7,482.6 L645.5,482.8 L647.3,482.9 L649.1,483.0 L650.9,480.6 L652.7,476.3 L654.5,470.7 L656.3,465.5 L658.1,469.6 L659.9,471.1 L661.7,472.5 L663.5,474.0 L665.3,475.4 L667.1,476.8 L668.9,478.2 L670.7,479.4 L672.5,480.0 L674.3,480.6 L676.1,481.2 L677.9,481.8 L679.7,482.3 L681.5,482.9 L683.3,483.5 L685.1,484.1 L686.9,484.7 L688.7,484.7 L690.5,484.7 L692.3,484.7 L694.1,484.7 L695.9,482.3 L697.7,477.4 L699.5,468.7 L701.3,472.2 L703.1,476.0 L704.9,477.2 L706.7,477.3 L708.5,475.8 L710.3,472.3 L712.1,467.3 L713.9,469.9 L715.7,475.1 L717.5,477.1 L719.3,479.2 L721.1,479.9 L722.9,480.2 L724.7,480.4 L726.5,480.6 L728.3,480.0 L730.1,479.4 L731.9,478.7 L733.7,478.0 L735.5,477.1 L735.5,500.3 L733.7,499.4 L731.9,498.7 L730.1,498.0 L728.3,497.4 L726.5,496.8 L724.7,497.0 L722.9,497.2 L721.1,497.5 L719.3,498.2 L717.5,500.3 L715.7,502.3 L713.9,507.5 L712.1,510.1 L710.3,505.1 L708.5,501.6 L706.7,500.1 L704.9,500.2 L703.1,501.4 L701.3,505.2 L699.5,508.7 L697.7,500.0 L695.9,495.1 L694.1,492.7 L692.3,492.7 L690.5,492.7 L688.7,492.7 L686.9,492.7 L685.1,493.3 L683.3,493.9 L681.5,494.5 L679.7,495.1 L677.9,495.6 L676.1,496.2 L674.3,496.8 L672.5,497.4 L670.7,498.0 L668.9,499.2 L667.1,500.6 L665.3,502.0 L663.5,503.4 L661.7,504.9 L659.9,506.3 L658.1,507.8 L656.3,511.9 L654.5,506.7 L652.7,501.1 L650.9,496.8 L649.1,494.4 L647.3,494.5 L645.5,494.6 L643.7,494.8 L641.9,494.9 L640.1,495.0 L638.3,495.1 L636.5,495.2 L634.7,495.2 L632.9,495.3 L631.1,495.4 L629.3,495.6 L627.5,495.9 L625.7,496.1 L623.9,496.4 L622.1,496.6 L620.3,497.0 L618.5,497.3 L616.7,497.7 L614.9,498.0 L613.1,499.9 L611.3,502.8 L609.5,506.1 L607.7,509.9 L605.9,511.7 L604.1,513.4 L602.3,518.6 L600.5,523.6 L598.7,516.7 L596.9,510.5 L595.1,504.4 L593.3,501.9 L591.5,500.3 L589.7,502.8 L587.9,507.2 L586.1,511.5 L584.3,503.9 L582.5,499.1 L580.7,495.2 L578.9,494.5 L577.1,493.9 L575.3,493.4 L573.5,493.4 L571.7,493.9 L569.9,494.3 L568.1,494.7 L566.3,495.1 L564.5,495.5 L562.7,495.9 L560.9,496.3 L559.1,496.7 L557.3,497.1 L555.5,497.5 L553.7,498.7 L551.9,500.4 L550.1,502.0 L548.3,505.2 L546.5,508.5 L544.7,520.8 L542.9,502.4 L541.1,495.4 L539.3,492.3 L537.5,492.3 L535.7,492.4 L533.9,494.8 L532.1,495.6 L530.3,495.9 L528.5,495.1 L526.7,494.3 L524.9,494.7 L523.1,495.1 L521.3,495.5 L519.5,495.8 L517.7,497.9 L515.9,500.2 L514.1,501.4 L512.3,502.0 L510.5,502.6 L508.7,501.7 L506.9,500.7 L505.1,499.6 L503.3,497.8 L501.5,495.9 L499.7,496.1 L497.9,496.3 L496.1,496.6 L494.3,499.1 L492.5,501.9 L490.7,506.0 L488.9,513.2 L487.1,510.9 L485.3,502.1 L483.5,495.7 L481.7,495.2 L479.9,494.6 L478.1,494.0 L476.3,493.5 L474.5,492.9 L472.7,492.4 L470.9,492.3 L469.1,492.4 L467.3,492.4 L465.5,492.5 L463.7,492.6 L461.9,493.0 L460.1,493.4 L458.3,493.8 L456.5,494.2 L454.7,494.6 L452.9,495.1 L451.1,495.6 L449.3,496.1 L447.5,496.6 L445.7,497.1 L443.9,497.6 L442.1,498.1 L440.3,498.6 L438.5,499.6 L436.7,501.1 L434.9,502.7 L433.1,514.8 L431.3,503.9 L429.5,503.2 L427.7,510.2 L425.9,510.8 L424.1,510.9 L422.3,511.1 L420.5,509.9 L418.7,507.2 L416.9,495.4 L415.1,495.7 L413.3,495.9 L411.5,496.1 L409.7,496.3 L407.9,496.4 L406.1,496.4 L404.3,496.5 L402.5,496.5Z" fill="#5898c4"/><line x1="433.2" y1="448.5" x2="433.2" y2="528.9" stroke="#5898c4" stroke-width="0.7" opacity="0.75"/><line x1="544.7" y1="439.9" x2="544.7" y2="537.5" stroke="#5898c4" stroke-width="0.7" opacity="0.75"/><line x1="601.1" y1="433.3" x2="601.1" y2="544.1" stroke="#5898c4" stroke-width="0.7" opacity="0.75"/>
<path d="M402.5,587.3 L403.0,588.4 L403.4,583.6 L403.9,587.5 L404.3,583.0 L404.8,586.5 L405.2,582.5 L405.7,585.0 L406.1,582.0 L406.6,582.1 L407.0,584.8 L407.5,587.1 L407.9,583.8 L408.4,585.7 L408.8,586.6 L409.3,582.7 L409.7,587.2 L410.2,583.5 L410.6,584.6 L411.1,581.1 L411.5,581.1 L412.0,583.5 L412.4,584.7 L412.9,581.4 L413.3,585.3 L413.8,581.4 L414.2,576.3 L414.7,580.8 L415.1,585.0 L415.6,585.0 L416.0,581.6 L416.5,586.2 L416.9,586.9 L417.4,580.9 L417.8,582.3 L418.3,585.6 L418.7,583.1 L419.2,577.5 L419.6,580.6 L420.1,572.4 L420.5,579.5 L421.0,579.1 L421.4,556.8 L421.9,579.4 L422.3,575.0 L422.8,577.1 L423.2,564.9 L423.7,571.6 L424.1,559.0 L424.6,579.3 L425.0,576.9 L425.5,579.0 L425.9,574.7 L426.4,579.2 L426.8,571.7 L427.3,571.6 L427.7,577.2 L428.2,580.7 L428.6,574.1 L429.1,573.1 L429.5,575.5 L430.0,573.1 L430.4,573.2 L430.9,579.3 L431.3,578.5 L431.8,577.2 L432.2,574.3 L432.7,560.1 L433.1,542.9 L433.6,560.2 L434.0,571.0 L434.5,572.2 L434.9,573.3 L435.4,577.3 L435.8,571.6 L436.3,577.5 L436.7,577.0 L437.2,577.1 L437.6,574.6 L438.1,575.6 L438.5,572.3 L439.0,581.0 L439.4,573.8 L439.9,579.8 L440.3,576.8 L440.8,578.8 L441.2,582.8 L441.7,576.8 L442.1,576.8 L442.6,579.6 L443.0,584.1 L443.5,583.9 L443.9,579.7 L444.4,581.8 L444.8,583.9 L445.3,583.2 L445.7,583.6 L446.2,577.5 L446.6,578.2 L447.1,577.5 L447.5,580.0 L448.0,577.8 L448.4,577.7 L448.9,572.7 L449.3,573.1 L449.8,577.3 L450.2,574.1 L450.7,574.7 L451.1,575.6 L451.6,570.2 L452.0,584.1 L452.5,579.0 L452.9,585.5 L453.4,579.2 L453.8,580.8 L454.3,579.4 L454.7,582.0 L455.2,580.3 L455.6,580.5 L456.1,580.2 L456.5,580.6 L457.0,586.5 L457.4,586.2 L457.9,580.3 L458.3,580.8 L458.8,582.2 L459.2,585.9 L459.7,580.3 L460.1,585.2 L460.6,567.5 L461.0,576.7 L461.5,581.7 L461.9,582.1 L462.4,586.8 L462.8,583.8 L463.3,585.3 L463.7,585.4 L464.2,582.1 L464.6,587.6 L465.1,586.9 L465.5,576.5 L466.0,584.9 L466.4,581.6 L466.9,586.6 L467.3,582.8 L467.8,586.9 L468.2,584.8 L468.7,585.4 L469.1,581.3 L469.6,583.3 L470.0,583.0 L470.5,578.1 L470.9,584.7 L471.4,576.6 L471.8,581.6 L472.3,582.0 L472.7,575.5 L473.2,583.8 L473.6,583.2 L474.1,575.9 L474.5,576.7 L475.0,567.7 L475.4,580.0 L475.9,578.2 L476.3,583.1 L476.8,577.0 L477.2,578.5 L477.7,575.3 L478.1,579.9 L478.6,579.0 L479.0,582.1 L479.5,578.5 L479.9,577.5 L480.4,580.6 L480.8,580.7 L481.3,580.2 L481.7,576.4 L482.2,579.0 L482.6,583.4 L483.1,581.2 L483.5,579.5 L484.0,571.9 L484.4,577.5 L484.9,576.3 L485.3,569.8 L485.8,571.4 L486.2,561.8 L486.7,567.7 L487.1,567.8 L487.6,557.9 L488.0,555.0 L488.5,558.6 L488.9,557.9 L489.4,564.0 L489.8,567.9 L490.3,570.5 L490.7,577.0 L491.2,570.0 L491.6,575.6 L492.1,568.5 L492.5,569.5 L493.0,571.8 L493.4,573.2 L493.9,560.0 L494.3,577.8 L494.8,579.7 L495.2,579.0 L495.7,575.2 L496.1,581.7 L496.6,566.4 L497.0,577.8 L497.5,580.3 L497.9,582.8 L498.4,576.5 L498.8,580.2 L499.3,579.4 L499.7,577.8 L500.2,576.4 L500.6,579.7 L501.1,580.0 L501.5,580.4 L502.0,574.8 L502.4,581.3 L502.9,576.4 L503.3,577.0 L503.8,581.9 L504.2,581.6 L504.7,575.4 L505.1,572.9 L505.6,580.9 L506.0,576.0 L506.5,581.1 L506.9,576.1 L507.4,581.2 L507.8,578.8 L508.3,576.2 L508.7,582.1 L509.2,575.0 L509.6,582.5 L510.1,578.0 L510.5,580.1 L511.0,580.1 L511.4,581.1 L511.9,574.1 L512.3,576.9 L512.8,577.6 L513.2,580.9 L513.7,579.9 L514.1,576.8 L514.6,581.5 L515.0,579.1 L515.5,579.4 L515.9,585.4 L516.4,578.4 L516.8,573.4 L517.3,580.3 L517.7,580.5 L518.2,581.4 L518.6,586.9 L519.1,586.9 L519.5,586.8 L520.0,585.8 L520.4,582.4 L520.9,586.9 L521.3,585.7 L521.8,584.7 L522.2,586.3 L522.7,585.8 L523.1,586.4 L523.6,586.3 L524.0,582.2 L524.5,584.6 L524.9,583.3 L525.4,583.3 L525.8,588.6 L526.3,585.4 L526.7,583.4 L527.2,588.5 L527.6,586.1 L528.1,585.9 L528.5,587.3 L529.0,588.1 L529.4,586.5 L529.9,587.5 L530.3,586.9 L530.8,586.3 L531.2,579.2 L531.7,587.9 L532.1,589.6 L532.6,590.2 L533.0,590.4 L533.5,586.9 L533.9,590.1 L534.4,587.6 L534.8,585.5 L535.3,589.2 L535.7,588.3 L536.2,591.1 L536.6,586.8 L537.1,587.9 L537.5,586.9 L538.0,586.4 L538.4,587.1 L538.9,587.3 L539.3,586.9 L539.8,587.8 L540.2,588.9 L540.7,588.8 L541.1,587.6 L541.6,583.4 L542.0,585.6 L542.5,580.5 L542.9,575.4 L543.4,574.1 L543.8,564.0 L544.3,554.3 L544.7,550.3 L545.2,558.3 L545.6,558.6 L546.1,565.8 L546.5,571.1 L547.0,567.8 L547.4,564.0 L547.9,566.3 L548.3,571.6 L548.8,574.6 L549.2,566.7 L549.7,569.2 L550.1,575.1 L550.6,568.9 L551.0,575.3 L551.5,572.2 L551.9,576.9 L552.4,574.7 L552.8,580.3 L553.3,580.9 L553.7,577.8 L554.2,580.3 L554.6,582.8 L555.1,577.6 L555.5,578.2 L556.0,582.6 L556.4,577.8 L556.9,581.1 L557.3,584.4 L557.8,582.5 L558.2,584.3 L558.7,586.2 L559.1,583.1 L559.6,584.1 L560.0,582.9 L560.5,587.0 L560.9,584.9 L561.4,585.7 L561.8,588.0 L562.3,588.6 L562.7,585.6 L563.2,584.0 L563.6,585.1 L564.1,584.6 L564.5,588.2 L565.0,586.4 L565.4,589.4 L565.9,588.9 L566.3,590.1 L566.8,588.8 L567.2,591.4 L567.7,593.9 L568.1,595.4 L568.6,598.2 L569.0,600.2 L569.5,601.0 L569.9,600.2 L570.4,601.6 L570.8,600.9 L571.3,601.5 L571.7,601.4 L572.2,600.5 L572.6,599.5 L573.1,600.9 L573.5,598.9 L574.0,596.0 L574.4,591.4 L574.9,588.7 L575.3,580.9 L575.8,574.4 L576.2,578.0 L576.7,576.7 L577.1,579.8 L577.6,581.5 L578.0,581.3 L578.5,579.7 L578.9,576.7 L579.4,577.0 L579.8,577.7 L580.3,572.7 L580.7,571.6 L581.2,577.9 L581.6,577.7 L582.1,574.8 L582.5,574.5 L583.0,577.3 L583.4,570.9 L583.9,572.0 L584.3,576.0 L584.8,574.7 L585.2,572.8 L585.7,567.3 L586.1,570.8 L586.6,566.8 L587.0,564.4 L587.5,567.0 L587.9,573.4 L588.4,567.8 L588.8,572.6 L589.3,574.7 L589.7,574.6 L590.2,573.8 L590.6,573.3 L591.1,571.7 L591.5,572.8 L592.0,575.4 L592.4,572.8 L592.9,577.0 L593.3,573.6 L593.8,577.0 L594.2,579.7 L594.7,574.8 L595.1,572.9 L595.6,579.0 L596.0,574.2 L596.5,576.8 L596.9,572.8 L597.4,574.4 L597.8,572.3 L598.3,567.2 L598.7,570.1 L599.2,566.7 L599.6,558.5 L600.1,567.3 L600.5,554.4 L601.0,554.0 L601.4,556.0 L601.9,560.1 L602.3,565.5 L602.8,568.3 L603.2,561.7 L603.7,572.6 L604.1,565.0 L604.6,565.7 L605.0,568.3 L605.5,574.1 L605.9,565.7 L606.4,567.6 L606.8,568.2 L607.3,567.1 L607.7,572.2 L608.2,577.0 L608.6,571.8 L609.1,578.6 L609.5,555.9 L610.0,573.7 L610.4,578.2 L610.9,576.4 L611.3,577.0 L611.8,574.9 L612.2,577.2 L612.7,582.4 L613.1,578.3 L613.6,584.3 L614.0,584.4 L614.5,584.9 L614.9,581.2 L615.4,579.8 L615.8,578.3 L616.3,584.4 L616.7,581.6 L617.2,578.9 L617.6,579.8 L618.1,583.9 L618.5,585.5 L619.0,579.5 L619.4,580.0 L619.9,580.6 L620.3,583.7 L620.8,579.9 L621.2,579.4 L621.7,582.6 L622.1,582.6 L622.6,582.9 L623.0,582.7 L623.5,582.0 L623.9,575.3 L624.4,582.5 L624.8,581.2 L625.3,573.0 L625.7,582.7 L626.2,584.1 L626.6,581.8 L627.1,586.5 L627.5,583.4 L628.0,586.4 L628.4,579.5 L628.9,581.5 L629.3,583.4 L629.8,584.0 L630.2,583.1 L630.7,586.8 L631.1,582.1 L631.6,582.2 L632.0,581.2 L632.5,582.4 L632.9,585.1 L633.4,586.9 L633.8,583.5 L634.3,582.7 L634.7,581.8 L635.2,584.6 L635.6,584.2 L636.1,578.9 L636.5,587.6 L637.0,587.5 L637.4,581.4 L637.9,586.3 L638.3,586.3 L638.8,582.7 L639.2,582.4 L639.7,587.2 L640.1,585.0 L640.6,584.2 L641.0,584.5 L641.5,586.9 L641.9,586.8 L642.4,582.5 L642.8,585.4 L643.3,581.1 L643.7,580.7 L644.2,583.9 L644.6,581.6 L645.1,584.1 L645.5,586.7 L646.0,583.1 L646.4,586.5 L646.9,582.4 L647.3,586.1 L647.8,583.6 L648.2,585.5 L648.7,586.6 L649.1,583.1 L649.6,580.1 L650.0,580.4 L650.5,580.3 L650.9,582.5 L651.4,578.0 L651.8,576.9 L652.3,582.3 L652.7,576.0 L653.2,567.8 L653.6,573.6 L654.1,576.8 L654.5,569.8 L655.0,570.5 L655.4,575.5 L655.9,574.2 L656.3,570.0 L656.8,566.6 L657.2,571.2 L657.7,569.0 L658.1,569.1 L658.6,577.8 L659.0,572.8 L659.5,575.0 L659.9,574.4 L660.4,570.3 L660.8,577.5 L661.3,575.7 L661.7,577.7 L662.2,571.2 L662.6,573.9 L663.1,575.3 L663.5,571.7 L664.0,574.8 L664.4,573.5 L664.9,581.4 L665.3,576.2 L665.8,580.0 L666.2,574.6 L666.7,578.8 L667.1,578.5 L667.6,582.6 L668.0,564.9 L668.5,577.3 L668.9,583.7 L669.4,583.5 L669.8,575.1 L670.3,582.0 L670.7,579.7 L671.2,569.3 L671.6,570.7 L672.1,571.7 L672.5,561.6 L673.0,568.0 L673.4,574.3 L673.9,583.7 L674.3,576.3 L674.8,579.8 L675.2,577.6 L675.7,581.3 L676.1,581.2 L676.6,583.9 L677.0,579.6 L677.5,580.0 L677.9,584.6 L678.4,585.6 L678.8,584.3 L679.3,586.2 L679.7,585.3 L680.2,582.2 L680.6,586.4 L681.1,583.5 L681.5,581.7 L682.0,582.0 L682.4,583.0 L682.9,581.0 L683.3,584.8 L683.8,581.8 L684.2,582.6 L684.7,578.5 L685.1,580.9 L685.6,581.9 L686.0,584.5 L686.5,585.3 L686.9,583.3 L687.4,579.9 L687.8,582.2 L688.3,583.3 L688.7,580.8 L689.2,585.6 L689.6,582.8 L690.1,585.1 L690.5,580.7 L691.0,581.3 L691.4,579.9 L691.9,581.3 L692.3,582.9 L692.8,581.8 L693.2,581.0 L693.7,584.5 L694.1,582.0 L694.6,586.4 L695.0,582.1 L695.5,583.0 L695.9,582.5 L696.4,583.1 L696.8,582.4 L697.3,574.5 L697.7,577.4 L698.2,577.0 L698.6,576.2 L699.1,565.4 L699.5,565.5 L700.0,562.5 L700.4,562.5 L700.9,574.3 L701.3,567.2 L701.8,579.1 L702.2,573.4 L702.7,581.5 L703.1,577.9 L703.6,582.8 L704.0,578.7 L704.5,581.2 L704.9,577.7 L705.4,579.8 L705.8,574.4 L706.3,577.3 L706.7,581.8 L707.2,577.1 L707.6,579.0 L708.1,575.8 L708.5,578.8 L709.0,576.0 L709.4,581.6 L709.9,579.6 L710.3,577.5 L710.8,577.8 L711.2,572.4 L711.7,569.4 L712.1,565.7 L712.6,571.5 L713.0,562.4 L713.5,566.3 L713.9,569.5 L714.4,573.5 L714.8,575.6 L715.3,570.7 L715.7,579.7 L716.2,578.3 L716.6,561.3 L717.1,580.6 L717.5,581.8 L718.0,579.2 L718.4,575.9 L718.9,575.8 L719.3,581.8 L719.8,578.5 L720.2,569.7 L720.7,574.6 L721.1,584.9 L721.6,584.2 L722.0,581.2 L722.5,577.8 L722.9,578.5 L723.4,584.6 L723.8,579.6 L724.3,577.0 L724.7,577.5 L725.2,578.5 L725.6,581.1 L726.1,577.4 L726.5,580.7 L727.0,584.0 L727.4,584.1 L727.9,580.9 L728.3,583.8 L728.8,575.8 L729.2,566.9 L729.7,576.6 L730.1,572.8 L730.6,580.1 L731.0,577.5 L731.5,583.6 L731.9,577.5 L732.4,577.0 L732.8,567.9 L733.3,578.4 L733.7,578.7 L734.2,578.5 L734.6,576.1 L735.1,582.8 L735.5,577.5 L736.0,584.5 L736.4,594.0 L736.9,604.5 L736.9,607.6 L736.4,617.2 L736.0,625.4 L735.5,630.6 L735.1,635.1 L734.6,631.5 L734.2,635.1 L733.7,633.0 L733.3,631.8 L732.8,630.6 L732.4,628.9 L731.9,635.4 L731.5,632.7 L731.0,632.7 L730.6,635.8 L730.1,636.5 L729.7,644.9 L729.2,636.5 L728.8,632.2 L728.3,629.2 L727.9,635.5 L727.4,630.7 L727.0,632.6 L726.5,632.6 L726.1,628.8 L725.6,635.0 L725.2,633.6 L724.7,631.0 L724.3,628.6 L723.8,633.7 L723.4,633.1 L722.9,633.7 L722.5,630.7 L722.0,633.3 L721.6,627.2 L721.1,632.5 L720.7,634.7 L720.2,634.7 L719.8,633.9 L719.3,636.6 L718.9,633.9 L718.4,634.6 L718.0,633.6 L717.5,630.4 L717.1,637.8 L716.6,646.3 L716.2,639.3 L715.7,632.0 L715.3,641.4 L714.8,644.8 L714.4,643.7 L713.9,652.1 L713.5,651.1 L713.0,653.8 L712.6,649.1 L712.1,645.8 L711.7,639.4 L711.2,637.5 L710.8,634.1 L710.3,644.3 L709.9,635.4 L709.4,628.9 L709.0,635.9 L708.5,630.1 L708.1,633.1 L707.6,637.1 L707.2,631.1 L706.7,630.1 L706.3,631.8 L705.8,637.0 L705.4,639.7 L704.9,629.8 L704.5,629.4 L704.0,630.5 L703.6,630.1 L703.1,629.3 L702.7,637.2 L702.2,632.0 L701.8,639.5 L701.3,645.4 L700.9,644.9 L700.4,645.9 L700.0,648.5 L699.5,639.7 L699.1,644.6 L698.6,640.0 L698.2,642.8 L697.7,639.7 L697.3,631.7 L696.8,628.9 L696.4,625.5 L695.9,628.0 L695.5,625.1 L695.0,627.1 L694.6,627.0 L694.1,626.6 L693.7,626.9 L693.2,631.8 L692.8,634.1 L692.3,630.4 L691.9,631.6 L691.4,627.0 L691.0,635.6 L690.5,631.9 L690.1,627.7 L689.6,627.6 L689.2,626.9 L688.7,631.8 L688.3,630.9 L687.8,628.1 L687.4,627.1 L686.9,625.3 L686.5,629.6 L686.0,629.3 L685.6,627.0 L685.1,626.5 L684.7,630.8 L684.2,625.7 L683.8,628.1 L683.3,627.4 L682.9,629.8 L682.4,628.0 L682.0,630.2 L681.5,631.1 L681.1,625.6 L680.6,625.8 L680.2,627.4 L679.7,627.5 L679.3,631.0 L678.8,633.0 L678.4,626.9 L677.9,629.5 L677.5,632.5 L677.0,631.1 L676.6,630.6 L676.1,635.2 L675.7,631.5 L675.2,628.7 L674.8,628.1 L674.3,630.1 L673.9,630.3 L673.4,630.3 L673.0,636.2 L672.5,642.7 L672.1,647.0 L671.6,643.4 L671.2,635.2 L670.7,632.2 L670.3,630.6 L669.8,633.4 L669.4,632.9 L668.9,632.9 L668.5,628.9 L668.0,628.9 L667.6,635.5 L667.1,634.5 L666.7,633.3 L666.2,633.0 L665.8,630.1 L665.3,634.0 L664.9,636.9 L664.4,635.9 L664.0,635.4 L663.5,640.5 L663.1,639.4 L662.6,635.3 L662.2,636.3 L661.7,637.4 L661.3,631.8 L660.8,637.4 L660.4,635.3 L659.9,636.4 L659.5,637.8 L659.0,635.1 L658.6,641.5 L658.1,634.6 L657.7,635.4 L657.2,645.7 L656.8,644.1 L656.3,662.2 L655.9,637.6 L655.4,639.0 L655.0,638.0 L654.5,640.2 L654.1,635.8 L653.6,640.3 L653.2,640.0 L652.7,634.1 L652.3,632.7 L651.8,630.3 L651.4,633.2 L650.9,627.8 L650.5,625.6 L650.0,626.5 L649.6,631.3 L649.1,631.4 L648.7,630.3 L648.2,629.6 L647.8,627.5 L647.3,631.5 L646.9,628.7 L646.4,630.1 L646.0,631.0 L645.5,627.9 L645.1,631.8 L644.6,628.8 L644.2,631.2 L643.7,624.6 L643.3,628.2 L642.8,625.7 L642.4,626.4 L641.9,627.1 L641.5,633.6 L641.0,624.9 L640.6,630.1 L640.1,629.1 L639.7,627.0 L639.2,624.9 L638.8,627.5 L638.3,628.2 L637.9,628.6 L637.4,630.3 L637.0,626.3 L636.5,624.8 L636.1,626.4 L635.6,624.7 L635.2,626.7 L634.7,627.1 L634.3,626.5 L633.8,626.7 L633.4,624.1 L632.9,633.4 L632.5,627.8 L632.0,630.7 L631.6,630.8 L631.1,624.5 L630.7,629.3 L630.2,626.6 L629.8,624.8 L629.3,625.6 L628.9,625.0 L628.4,629.0 L628.0,626.7 L627.5,627.7 L627.1,626.5 L626.6,637.7 L626.2,629.2 L625.7,625.2 L625.3,625.9 L624.8,631.5 L624.4,630.9 L623.9,625.6 L623.5,632.5 L623.0,630.8 L622.6,628.3 L622.1,625.7 L621.7,627.0 L621.2,626.7 L620.8,629.7 L620.3,628.9 L619.9,627.2 L619.4,631.0 L619.0,630.7 L618.5,632.0 L618.1,632.2 L617.6,628.7 L617.2,627.4 L616.7,634.0 L616.3,637.7 L615.8,632.9 L615.4,632.8 L614.9,631.6 L614.5,628.4 L614.0,632.9 L613.6,633.0 L613.1,629.5 L612.7,634.5 L612.2,633.6 L611.8,639.2 L611.3,631.2 L610.9,637.8 L610.4,637.6 L610.0,639.2 L609.5,646.6 L609.1,642.9 L608.6,637.1 L608.2,642.8 L607.7,639.0 L607.3,642.9 L606.8,645.1 L606.4,641.3 L605.9,638.5 L605.5,639.3 L605.0,642.6 L604.6,639.3 L604.1,647.7 L603.7,641.2 L603.2,640.8 L602.8,645.6 L602.3,644.9 L601.9,654.5 L601.4,646.3 L601.0,650.9 L600.5,651.3 L600.1,647.5 L599.6,649.2 L599.2,646.3 L598.7,645.2 L598.3,638.3 L597.8,640.2 L597.4,643.0 L596.9,636.7 L596.5,633.9 L596.0,631.2 L595.6,631.2 L595.1,636.1 L594.7,633.0 L594.2,632.4 L593.8,640.8 L593.3,632.9 L592.9,631.9 L592.4,640.9 L592.0,637.1 L591.5,635.0 L591.1,641.9 L590.6,641.2 L590.2,634.7 L589.7,632.0 L589.3,638.3 L588.8,637.3 L588.4,636.2 L587.9,642.5 L587.5,642.5 L587.0,644.8 L586.6,644.1 L586.1,640.2 L585.7,639.9 L585.2,653.8 L584.8,645.2 L584.3,638.8 L583.9,649.4 L583.4,636.0 L583.0,633.6 L582.5,639.8 L582.1,635.8 L581.6,637.0 L581.2,637.7 L580.7,634.1 L580.3,632.1 L579.8,631.4 L579.4,634.8 L578.9,635.5 L578.5,631.7 L578.0,634.0 L577.6,639.3 L577.1,635.8 L576.7,633.3 L576.2,631.3 L575.8,636.5 L575.3,633.0 L574.9,626.2 L574.4,619.3 L574.0,614.7 L573.5,612.3 L573.1,610.3 L572.6,610.5 L572.2,610.7 L571.7,611.0 L571.3,611.6 L570.8,611.0 L570.4,611.3 L569.9,610.9 L569.5,612.2 L569.0,613.8 L568.6,613.7 L568.1,615.2 L567.7,616.6 L567.2,622.4 L566.8,624.0 L566.3,622.2 L565.9,625.2 L565.4,626.1 L565.0,624.8 L564.5,623.6 L564.1,627.1 L563.6,625.1 L563.2,627.5 L562.7,625.5 L562.3,625.3 L561.8,625.9 L561.4,628.9 L560.9,628.8 L560.5,625.2 L560.0,630.2 L559.6,630.3 L559.1,629.3 L558.7,625.8 L558.2,630.2 L557.8,626.0 L557.3,634.0 L556.9,631.1 L556.4,632.3 L556.0,627.8 L555.5,628.0 L555.1,627.6 L554.6,633.2 L554.2,635.9 L553.7,631.2 L553.3,635.5 L552.8,638.4 L552.4,638.9 L551.9,636.1 L551.5,639.3 L551.0,643.2 L550.6,633.9 L550.1,642.3 L549.7,636.9 L549.2,638.0 L548.8,645.4 L548.3,646.4 L547.9,644.0 L547.4,649.5 L547.0,648.0 L546.5,645.7 L546.1,652.5 L545.6,649.5 L545.2,653.6 L544.7,647.7 L544.3,650.5 L543.8,641.2 L543.4,636.2 L542.9,633.8 L542.5,625.3 L542.0,625.2 L541.6,629.3 L541.1,627.5 L540.7,623.8 L540.2,625.1 L539.8,622.2 L539.3,624.7 L538.9,623.0 L538.4,624.1 L538.0,621.4 L537.5,622.2 L537.1,623.6 L536.6,623.2 L536.2,622.9 L535.7,625.9 L535.3,624.8 L534.8,624.7 L534.4,629.6 L533.9,626.2 L533.5,623.1 L533.0,624.6 L532.6,622.1 L532.1,621.8 L531.7,625.8 L531.2,626.7 L530.8,627.1 L530.3,623.2 L529.9,629.6 L529.4,627.7 L529.0,626.0 L528.5,627.4 L528.1,625.3 L527.6,625.9 L527.2,624.7 L526.7,623.1 L526.3,623.6 L525.8,626.0 L525.4,624.6 L524.9,628.9 L524.5,626.5 L524.0,629.5 L523.6,624.8 L523.1,627.6 L522.7,627.2 L522.2,628.2 L521.8,628.2 L521.3,625.8 L520.9,629.9 L520.4,627.8 L520.0,630.6 L519.5,628.6 L519.1,629.1 L518.6,627.4 L518.2,630.5 L517.7,632.0 L517.3,631.6 L516.8,632.9 L516.4,626.0 L515.9,631.6 L515.5,627.0 L515.0,627.9 L514.6,629.8 L514.1,633.4 L513.7,630.6 L513.2,630.7 L512.8,644.8 L512.3,628.3 L511.9,634.0 L511.4,630.6 L511.0,629.9 L510.5,630.1 L510.1,630.0 L509.6,632.0 L509.2,633.3 L508.7,634.8 L508.3,636.2 L507.8,632.1 L507.4,632.5 L506.9,633.5 L506.5,642.9 L506.0,631.3 L505.6,634.1 L505.1,638.0 L504.7,631.3 L504.2,634.4 L503.8,632.2 L503.3,631.1 L502.9,632.9 L502.4,636.3 L502.0,631.8 L501.5,629.2 L501.1,633.8 L500.6,635.8 L500.2,628.8 L499.7,633.2 L499.3,634.5 L498.8,630.9 L498.4,631.3 L497.9,635.8 L497.5,634.3 L497.0,634.2 L496.6,631.4 L496.1,641.5 L495.7,636.0 L495.2,631.0 L494.8,638.7 L494.3,631.7 L493.9,633.4 L493.4,634.6 L493.0,640.5 L492.5,640.5 L492.1,641.4 L491.6,641.3 L491.2,637.0 L490.7,642.7 L490.3,646.5 L489.8,649.1 L489.4,648.6 L488.9,661.6 L488.5,655.7 L488.0,654.9 L487.6,642.9 L487.1,648.9 L486.7,647.9 L486.2,639.7 L485.8,644.1 L485.3,640.2 L484.9,643.4 L484.4,637.4 L484.0,629.5 L483.5,635.1 L483.1,637.1 L482.6,634.4 L482.2,637.3 L481.7,631.4 L481.3,634.4 L480.8,630.4 L480.4,631.2 L479.9,634.8 L479.5,633.4 L479.0,632.7 L478.6,633.1 L478.1,631.1 L477.7,629.8 L477.2,629.4 L476.8,631.2 L476.3,632.1 L475.9,632.8 L475.4,629.1 L475.0,628.4 L474.5,630.0 L474.1,630.7 L473.6,632.0 L473.2,632.8 L472.7,635.9 L472.3,632.2 L471.8,628.6 L471.4,634.1 L470.9,633.5 L470.5,627.3 L470.0,626.4 L469.6,627.4 L469.1,625.9 L468.7,628.9 L468.2,626.3 L467.8,624.4 L467.3,624.3 L466.9,628.5 L466.4,627.5 L466.0,624.9 L465.5,625.1 L465.1,626.8 L464.6,626.3 L464.2,629.3 L463.7,636.2 L463.3,629.1 L462.8,625.5 L462.4,626.1 L461.9,633.1 L461.5,633.3 L461.0,636.9 L460.6,635.6 L460.1,627.1 L459.7,629.0 L459.2,624.9 L458.8,624.8 L458.3,625.2 L457.9,626.8 L457.4,626.4 L457.0,627.1 L456.5,629.5 L456.1,625.8 L455.6,625.8 L455.2,628.8 L454.7,631.6 L454.3,627.6 L453.8,638.8 L453.4,628.4 L452.9,629.5 L452.5,628.9 L452.0,629.7 L451.6,639.8 L451.1,646.9 L450.7,638.4 L450.2,634.4 L449.8,641.5 L449.3,638.1 L448.9,639.2 L448.4,631.8 L448.0,632.6 L447.5,627.4 L447.1,629.6 L446.6,631.8 L446.2,634.6 L445.7,633.6 L445.3,631.4 L444.8,628.1 L444.4,636.2 L443.9,633.7 L443.5,633.8 L443.0,633.5 L442.6,632.7 L442.1,634.5 L441.7,633.6 L441.2,628.7 L440.8,635.9 L440.3,634.0 L439.9,638.2 L439.4,637.2 L439.0,632.5 L438.5,639.0 L438.1,632.0 L437.6,636.6 L437.2,631.0 L436.7,635.0 L436.3,637.4 L435.8,638.4 L435.4,640.9 L434.9,639.4 L434.5,641.9 L434.0,640.0 L433.6,651.9 L433.1,645.7 L432.7,642.0 L432.2,640.6 L431.8,642.4 L431.3,633.0 L430.9,638.9 L430.4,638.0 L430.0,634.7 L429.5,637.0 L429.1,634.2 L428.6,635.7 L428.2,634.3 L427.7,636.8 L427.3,633.4 L426.8,636.2 L426.4,641.1 L425.9,636.5 L425.5,633.2 L425.0,634.3 L424.6,637.4 L424.1,637.1 L423.7,637.8 L423.2,631.9 L422.8,640.5 L422.3,640.2 L421.9,639.4 L421.4,644.9 L421.0,637.5 L420.5,640.7 L420.1,653.6 L419.6,637.3 L419.2,632.1 L418.7,631.4 L418.3,631.3 L417.8,629.4 L417.4,627.0 L416.9,624.5 L416.5,625.6 L416.0,635.4 L415.6,624.4 L415.1,631.1 L414.7,625.0 L414.2,625.2 L413.8,625.6 L413.3,626.2 L412.9,624.2 L412.4,625.1 L412.0,629.9 L411.5,629.6 L411.1,634.8 L410.6,624.4 L410.2,625.8 L409.7,624.5 L409.3,626.3 L408.8,628.4 L408.4,630.9 L407.9,625.8 L407.5,629.2 L407.0,626.6 L406.6,627.6 L406.1,629.5 L405.7,624.8 L405.2,624.1 L404.8,627.7 L404.3,628.8 L403.9,624.0 L403.4,624.7 L403.0,625.9 L402.5,623.8Z" fill="#5898c4"/><path d="M402.5,589.9 L404.3,589.6 L406.1,589.4 L407.9,589.1 L409.7,588.9 L411.5,588.9 L413.3,588.9 L415.1,588.9 L416.9,588.9 L418.7,586.9 L420.5,582.2 L422.3,581.9 L424.1,581.6 L425.9,581.4 L427.7,582.0 L429.5,582.9 L431.3,581.4 L433.1,568.9 L434.9,581.6 L436.7,582.3 L438.5,583.1 L440.3,584.2 L442.1,585.9 L443.9,586.4 L445.7,586.3 L447.5,586.1 L449.3,580.9 L451.1,585.2 L452.9,586.9 L454.7,587.8 L456.5,588.4 L458.3,588.4 L460.1,587.6 L461.9,586.2 L463.7,588.9 L465.5,588.9 L467.3,588.9 L469.1,588.9 L470.9,586.3 L472.7,585.1 L474.5,585.0 L476.3,584.9 L478.1,584.9 L479.9,584.8 L481.7,584.7 L483.5,584.6 L485.3,579.6 L487.1,573.9 L488.9,572.6 L490.7,578.8 L492.5,580.7 L494.3,582.2 L496.1,583.6 L497.9,584.9 L499.7,585.8 L501.5,584.1 L503.3,583.9 L505.1,583.7 L506.9,584.0 L508.7,584.4 L510.5,584.8 L512.3,585.2 L514.1,586.1 L515.9,586.9 L517.7,587.7 L519.5,588.6 L521.3,589.1 L523.1,589.6 L524.9,590.0 L526.7,590.4 L528.5,590.8 L530.3,591.1 L532.1,591.5 L533.9,591.8 L535.7,592.2 L537.5,592.5 L539.3,591.9 L541.1,590.4 L542.9,583.9 L544.7,567.0 L546.5,573.9 L548.3,577.3 L550.1,579.5 L551.9,581.7 L553.7,584.1 L555.5,585.9 L557.3,587.0 L559.1,588.0 L560.9,589.0 L562.7,590.3 L564.5,591.6 L566.3,592.9 L568.1,598.2 L569.9,601.9 L571.7,602.2 L573.5,601.5 L575.3,587.1 L577.1,583.0 L578.9,582.8 L580.7,582.4 L582.5,581.8 L584.3,580.3 L586.1,575.8 L587.9,577.0 L589.7,581.8 L591.5,582.1 L593.3,582.3 L595.1,582.6 L596.9,580.3 L598.7,574.8 L600.5,569.6 L602.3,571.8 L604.1,576.4 L605.9,577.8 L607.7,579.3 L609.5,580.7 L611.3,582.6 L613.1,585.0 L614.9,586.6 L616.7,587.0 L618.5,587.3 L620.3,587.6 L622.1,587.9 L623.9,588.3 L625.7,588.6 L627.5,588.9 L629.3,588.9 L631.1,588.9 L632.9,588.9 L634.7,588.9 L636.5,588.9 L638.3,588.9 L640.1,588.9 L641.9,588.8 L643.7,588.6 L645.5,588.4 L647.3,588.3 L649.1,588.1 L650.9,587.1 L652.7,583.2 L654.5,580.3 L656.3,577.7 L658.1,579.3 L659.9,581.1 L661.7,581.9 L663.5,582.8 L665.3,583.6 L667.1,584.7 L668.9,585.7 L670.7,583.7 L672.5,574.7 L674.3,585.6 L676.1,586.9 L677.9,587.5 L679.7,587.6 L681.5,587.7 L683.3,587.8 L685.1,587.9 L686.9,588.0 L688.7,588.0 L690.5,588.1 L692.3,588.2 L694.1,588.3 L695.9,588.4 L697.7,583.0 L699.5,574.9 L701.3,579.2 L703.1,584.2 L704.9,584.3 L706.7,584.4 L708.5,584.5 L710.3,584.6 L712.1,577.9 L713.9,574.1 L715.7,582.4 L717.5,583.7 L719.3,585.0 L721.1,586.3 L722.9,586.3 L724.7,586.1 L726.5,585.8 L728.3,585.6 L730.1,581.2 L731.9,585.1 L733.7,585.1 L735.5,585.1 L735.5,626.9 L733.7,626.9 L731.9,626.9 L730.1,630.8 L728.3,626.4 L726.5,626.2 L724.7,625.9 L722.9,625.7 L721.1,625.7 L719.3,627.0 L717.5,628.3 L715.7,629.6 L713.9,637.9 L712.1,634.1 L710.3,627.4 L708.5,627.5 L706.7,627.6 L704.9,627.7 L703.1,627.8 L701.3,632.8 L699.5,637.1 L697.7,629.0 L695.9,623.6 L694.1,623.7 L692.3,623.8 L690.5,623.9 L688.7,624.0 L686.9,624.0 L685.1,624.1 L683.3,624.2 L681.5,624.3 L679.7,624.4 L677.9,624.5 L676.1,625.1 L674.3,626.4 L672.5,637.3 L670.7,628.3 L668.9,626.3 L667.1,627.3 L665.3,628.4 L663.5,629.2 L661.7,630.1 L659.9,630.9 L658.1,632.7 L656.3,634.3 L654.5,631.7 L652.7,628.8 L650.9,624.9 L649.1,623.9 L647.3,623.7 L645.5,623.6 L643.7,623.4 L641.9,623.2 L640.1,623.1 L638.3,623.1 L636.5,623.1 L634.7,623.1 L632.9,623.1 L631.1,623.1 L629.3,623.1 L627.5,623.1 L625.7,623.4 L623.9,623.7 L622.1,624.1 L620.3,624.4 L618.5,624.7 L616.7,625.0 L614.9,625.4 L613.1,627.0 L611.3,629.4 L609.5,631.3 L607.7,632.7 L605.9,634.2 L604.1,635.6 L602.3,640.2 L600.5,642.4 L598.7,637.2 L596.9,631.7 L595.1,629.4 L593.3,629.7 L591.5,629.9 L589.7,630.2 L587.9,635.0 L586.1,636.2 L584.3,631.7 L582.5,630.2 L580.7,629.6 L578.9,629.2 L577.1,629.0 L575.3,624.9 L573.5,610.5 L571.7,609.8 L569.9,610.1 L568.1,613.8 L566.3,619.1 L564.5,620.4 L562.7,621.7 L560.9,623.0 L559.1,624.0 L557.3,625.0 L555.5,626.1 L553.7,627.9 L551.9,630.3 L550.1,632.5 L548.3,634.7 L546.5,638.1 L544.7,645.0 L542.9,628.1 L541.1,621.6 L539.3,620.1 L537.5,619.5 L535.7,619.8 L533.9,620.2 L532.1,620.5 L530.3,620.9 L528.5,621.2 L526.7,621.6 L524.9,622.0 L523.1,622.4 L521.3,622.9 L519.5,623.4 L517.7,624.3 L515.9,625.1 L514.1,625.9 L512.3,626.8 L510.5,627.2 L508.7,627.6 L506.9,628.0 L505.1,628.3 L503.3,628.1 L501.5,627.9 L499.7,626.2 L497.9,627.1 L496.1,628.4 L494.3,629.8 L492.5,631.3 L490.7,633.2 L488.9,639.4 L487.1,638.1 L485.3,632.4 L483.5,627.4 L481.7,627.3 L479.9,627.2 L478.1,627.1 L476.3,627.1 L474.5,627.0 L472.7,626.9 L470.9,625.7 L469.1,623.1 L467.3,623.1 L465.5,623.1 L463.7,623.1 L461.9,625.8 L460.1,624.4 L458.3,623.6 L456.5,623.6 L454.7,624.2 L452.9,625.1 L451.1,626.8 L449.3,631.1 L447.5,625.9 L445.7,625.7 L443.9,625.6 L442.1,626.1 L440.3,627.8 L438.5,628.9 L436.7,629.7 L434.9,630.4 L433.1,643.1 L431.3,630.6 L429.5,629.1 L427.7,630.0 L425.9,630.6 L424.1,630.4 L422.3,630.1 L420.5,629.8 L418.7,625.1 L416.9,623.1 L415.1,623.1 L413.3,623.1 L411.5,623.1 L409.7,623.1 L407.9,622.9 L406.1,622.6 L404.3,622.4 L402.5,622.1Z" fill="#5898c4"/><line x1="433.2" y1="552.6" x2="433.2" y2="659.4" stroke="#5898c4" stroke-width="0.7" opacity="0.75"/><line x1="502.1" y1="551.6" x2="502.1" y2="660.4" stroke="#5898c4" stroke-width="0.7" opacity="0.75"/><line x1="544.7" y1="550.6" x2="544.7" y2="661.4" stroke="#5898c4" stroke-width="0.7" opacity="0.75"/><line x1="629.1" y1="545.0" x2="629.1" y2="667.0" stroke="#5898c4" stroke-width="0.7" opacity="0.75"/><line x1="601.1" y1="552.6" x2="601.1" y2="659.4" stroke="#5898c4" stroke-width="0.7" opacity="0.75"/><line x1="713.2" y1="555.9" x2="713.2" y2="656.1" stroke="#5898c4" stroke-width="0.7" opacity="0.75"/><line x1="488.3" y1="555.9" x2="488.3" y2="656.1" stroke="#5898c4" stroke-width="0.7" opacity="0.75"/>
<rect x="128.3" y="464.5" width="112.3" height="52.8" rx="4" fill="none" stroke="#000" stroke-width="1.3" stroke-dasharray="7.5 2.6"/>
<line x1="184.3" y1="526" x2="184.3" y2="549.5" stroke="#000" stroke-width="1.7"/><path d="M179.4,544.5 L184.3,555.5 L189.20000000000002,544.5 Q184.3,547.0 179.4,544.5Z" fill="#000"/>
<line x1="570" y1="526" x2="570" y2="549.5" stroke="#000" stroke-width="1.7"/><path d="M565.1,544.5 L570,555.5 L574.9,544.5 Q570,547.0 565.1,544.5Z" fill="#000"/>
<defs>
<filter id="e_soft" x="-5%" y="-5%" width="110%" height="110%" color-interpolation-filters="sRGB"><feGaussianBlur stdDeviation="8"/></filter>
<filter id="e_soft2" x="-5%" y="-5%" width="110%" height="110%" color-interpolation-filters="sRGB"><feGaussianBlur stdDeviation="3"/></filter>
</defs>
<g transform="translate(818,462) scale(0.25316)">
<clipPath id="e_0_c"><rect x="20" y="22" width="359" height="360"/></clipPath>
<g clip-path="url(#e_0_c)">
<rect x="0" y="2" width="399" height="400" fill="#43604f"/>
<g filter="url(#e_soft)">
<rect x="-40" y="-38" width="479" height="480" fill="#43604f"/>
<rect x="20" y="22" width="360" height="360" fill="#43604f"/>
<rect x="260" y="22" width="120" height="360" fill="#4f6f5d"/>
<polygon points="60,382 120,330 290,330 379,360 379,382" fill="#2c2f2a"/>
<polygon points="142.25,287.8 257.75,287.8 263.0,412.0 137.0,412.0" fill="#a98462"/>
<ellipse cx="97.10000000000001" cy="210" rx="12" ry="28" fill="#a98462"/>
<ellipse cx="302.9" cy="210" rx="12" ry="28" fill="#a98462"/>
<ellipse cx="200" cy="205" rx="105" ry="138" fill="#cfae8c"/>
<ellipse cx="252.5" cy="225.7" rx="47.25" ry="110.4" fill="#a98462" fill-opacity="0.28"/>
<ellipse cx="142.25" cy="232.6" rx="36.75" ry="96.6" fill="#a98462" fill-opacity="0.22"/>
<polygon points="70,170 75,80 130,30 230,22 300,45 335,110 325,200 300,150 270,100 200,85 130,100 100,160 90,230" fill="#8c7c4c"/>
<ellipse cx="205" cy="305" rx="62" ry="48" fill="#6d5436"/>
<ellipse cx="205" cy="262" rx="26" ry="10" fill="#cfae8c"/>
<ellipse cx="205" cy="284" rx="26" ry="8" fill="#b88a70"/>
<ellipse cx="154.85" cy="172.44" rx="26" ry="6" fill="#8a7a48" fill-opacity="0.9" transform="rotate(-5 154.85 172.44)"/>
<ellipse cx="245.15" cy="172.44" rx="26" ry="6" fill="#8a7a48" fill-opacity="0.9" transform="rotate(5 245.15 172.44)"/>
<ellipse cx="154.85" cy="188.44" rx="24" ry="11" fill="#a98462" fill-opacity="0.9"/>
<ellipse cx="245.15" cy="188.44" rx="24" ry="11" fill="#a98462" fill-opacity="0.9"/>
<ellipse cx="154.85" cy="188.44" rx="12" ry="7" fill="#3a2a20"/>
<ellipse cx="245.15" cy="188.44" rx="12" ry="7" fill="#3a2a20"/>
<ellipse cx="204" cy="242.26" rx="22" ry="9" fill="#a98462" fill-opacity="0.8"/>
<ellipse cx="210" cy="211.9" rx="9" ry="38" fill="#a98462" fill-opacity="0.5"/>
<ellipse cx="200" cy="276.76" rx="30" ry="8" fill="#b06a60"/>
<polygon points="250,345 330,370 300,382 230,382" fill="#5a5040"/>
</g>

</g></g>
<g transform="translate(818,462) scale(0.25316)">
<clipPath id="e_1_c"><rect x="379" y="22" width="359" height="360"/></clipPath>
<g clip-path="url(#e_1_c)">
<rect x="359" y="2" width="399" height="400" fill="#8289a2"/>
<g filter="url(#e_soft)">
<rect x="319" y="-38" width="479" height="480" fill="#8289a2"/>
<rect x="379" y="22" width="360" height="360" fill="#8289a2"/>
<polygon points="560,300 738,200 738,382 560,382" fill="#a4abc4"/>
<polygon points="379,22 560,22 520,200 379,260" fill="#5d657e"/>
<polygon points="379,40 738,60 738,110 379,100" fill="#6f7690"/>
<polygon points="379,350 440,290 470,382 379,382" fill="#a9a9c9"/>
<polygon points="440,285 480,300 520,382 455,382" fill="#f0f0f6"/>
<polygon points="600,360 738,330 738,382 600,382" fill="#9a9ab8"/>
<polygon points="483.9,286.0 596.1,286.0 601.2,407.5 478.8,407.5" fill="#b98c6c"/>
<ellipse cx="440.04" cy="210" rx="12" ry="28" fill="#b98c6c"/>
<ellipse cx="639.96" cy="210" rx="12" ry="28" fill="#b98c6c"/>
<ellipse cx="540" cy="205" rx="102" ry="135" fill="#e0b898"/>
<ellipse cx="591.0" cy="225.25" rx="45.9" ry="108.0" fill="#b98c6c" fill-opacity="0.28"/>
<ellipse cx="483.9" cy="232.0" rx="35.699999999999996" ry="94.5" fill="#b98c6c" fill-opacity="0.22"/>
<polygon points="410,190 405,100 450,45 540,28 610,45 650,110 655,190 635,150 600,95 520,90 470,120 440,170 425,230" fill="#77603f"/>
<polygon points="470,100 520,85 500,120 465,150" fill="#cdb078"/>
<ellipse cx="496.14" cy="172.8" rx="26" ry="6" fill="#7a6040" fill-opacity="0.9" transform="rotate(-5 496.14 172.8)"/>
<ellipse cx="583.86" cy="172.8" rx="26" ry="6" fill="#7a6040" fill-opacity="0.9" transform="rotate(5 583.86 172.8)"/>
<ellipse cx="496.14" cy="188.8" rx="24" ry="11" fill="#b98c6c" fill-opacity="0.9"/>
<ellipse cx="583.86" cy="188.8" rx="24" ry="11" fill="#b98c6c" fill-opacity="0.9"/>
<ellipse cx="496.14" cy="188.8" rx="12" ry="7" fill="#4a5a6a"/>
<ellipse cx="583.86" cy="188.8" rx="12" ry="7" fill="#4a5a6a"/>
<ellipse cx="544" cy="241.45" rx="22" ry="9" fill="#b98c6c" fill-opacity="0.8"/>
<ellipse cx="550" cy="211.75" rx="9" ry="38" fill="#b98c6c" fill-opacity="0.5"/>
<ellipse cx="540" cy="275.2" rx="30" ry="8" fill="#b06a66"/>
</g>

</g></g>
<g transform="translate(818,462) scale(0.25316)">
<clipPath id="e_2_c"><rect x="738" y="22" width="359" height="360"/></clipPath>
<g clip-path="url(#e_2_c)">
<rect x="718" y="2" width="399" height="400" fill="#f1e1c1"/>
<g filter="url(#e_soft)">
<rect x="678" y="-38" width="479" height="480" fill="#f1e1c1"/>
<rect x="738" y="22" width="360" height="360" fill="#f1e1c1"/>
<rect x="1000" y="22" width="100" height="300" fill="#f8efdc"/>
<polygon points="760,382 800,340 860,330 980,330 1050,345 1097,382" fill="#7a6142"/>
<polygon points="857.25,299.0 972.75,299.0 978.0,425.0 852.0,425.0" fill="#b88c64"/>
<ellipse cx="812.1" cy="220" rx="12" ry="28" fill="#b88c64"/>
<ellipse cx="1017.9" cy="220" rx="12" ry="28" fill="#b88c64"/>
<ellipse cx="915" cy="215" rx="105" ry="140" fill="#dcb48c"/>
<ellipse cx="967.5" cy="236.0" rx="47.25" ry="112.0" fill="#b88c64" fill-opacity="0.28"/>
<ellipse cx="857.25" cy="243.0" rx="36.75" ry="98.0" fill="#b88c64" fill-opacity="0.22"/>
<polygon points="790,200 800,100 790,55 850,22 960,22 1040,60 1030,120 1035,200 1010,140 960,95 880,90 830,110 810,160" fill="#7a5a34"/>
<ellipse cx="918" cy="318" rx="75" ry="52" fill="#8d6c4a"/>
<ellipse cx="918" cy="270" rx="34" ry="12" fill="#dcb48c"/>
<ellipse cx="918" cy="292" rx="30" ry="8" fill="#c08a74"/>
<ellipse cx="869.85" cy="182.2" rx="26" ry="6" fill="#7a5830" fill-opacity="0.9" transform="rotate(-5 869.85 182.2)"/>
<ellipse cx="960.15" cy="182.2" rx="26" ry="6" fill="#7a5830" fill-opacity="0.9" transform="rotate(5 960.15 182.2)"/>
<ellipse cx="869.85" cy="198.2" rx="24" ry="11" fill="#b88c64" fill-opacity="0.9"/>
<ellipse cx="960.15" cy="198.2" rx="24" ry="11" fill="#b88c64" fill-opacity="0.9"/>
<ellipse cx="869.85" cy="198.2" rx="12" ry="7" fill="#5a6a7a"/>
<ellipse cx="960.15" cy="198.2" rx="12" ry="7" fill="#5a6a7a"/>
<ellipse cx="919" cy="252.8" rx="22" ry="9" fill="#b88c64" fill-opacity="0.8"/>
<ellipse cx="925" cy="222.0" rx="9" ry="38" fill="#b88c64" fill-opacity="0.5"/>
<ellipse cx="915" cy="287.8" rx="30" ry="8" fill="#b06a60"/>
</g>

</g></g>
<g transform="translate(818,462) scale(0.25316)">
<clipPath id="e_3_c"><rect x="20" y="382" width="359" height="360"/></clipPath>
<g clip-path="url(#e_3_c)">
<rect x="0" y="362" width="399" height="400" fill="#5a4a88"/>
<g filter="url(#e_soft)">
<rect x="-40" y="322" width="479" height="480" fill="#5a4a88"/>
<rect x="20" y="382" width="360" height="360" fill="#5a4a88"/>
<rect x="20" y="382" width="70" height="360" fill="#3c2d6a"/>
<ellipse cx="340" cy="520" rx="50" ry="90" fill="#8a6aa0"/>
<polygon points="20,742 20,720 100,690 300,690 379,730 379,742" fill="#24242f"/>
<polygon points="110,742 120,690 290,690 300,742" fill="#dcd8e8"/>
<polygon points="144.5,657.0 265.5,657.0 271.0,787.5 139.0,787.5" fill="#c0907c"/>
<ellipse cx="97.2" cy="575" rx="12" ry="28" fill="#c0907c"/>
<ellipse cx="312.8" cy="575" rx="12" ry="28" fill="#c0907c"/>
<ellipse cx="205" cy="570" rx="110" ry="145" fill="#e4bca4"/>
<ellipse cx="260.0" cy="591.75" rx="49.5" ry="116.0" fill="#c0907c" fill-opacity="0.28"/>
<ellipse cx="144.5" cy="599.0" rx="38.5" ry="101.5" fill="#c0907c" fill-opacity="0.22"/>
<polygon points="88,560 85,470 120,410 200,388 280,400 320,450 325,540 300,480 250,450 170,455 125,490 105,560" fill="#d4b080"/>
<polygon points="200,390 280,402 300,440 240,430" fill="#9a7858"/>
<ellipse cx="157.7" cy="536.6" rx="26" ry="6" fill="#9a7858" fill-opacity="0.9" transform="rotate(-5 157.7 536.6)"/>
<ellipse cx="252.3" cy="536.6" rx="26" ry="6" fill="#9a7858" fill-opacity="0.9" transform="rotate(5 252.3 536.6)"/>
<ellipse cx="157.7" cy="552.6" rx="24" ry="11" fill="#c0907c" fill-opacity="0.9"/>
<ellipse cx="252.3" cy="552.6" rx="24" ry="11" fill="#c0907c" fill-opacity="0.9"/>
<ellipse cx="157.7" cy="552.6" rx="12" ry="7" fill="#3a2a20"/>
<ellipse cx="252.3" cy="552.6" rx="12" ry="7" fill="#3a2a20"/>
<ellipse cx="209" cy="609.15" rx="22" ry="9" fill="#c0907c" fill-opacity="0.8"/>
<ellipse cx="215" cy="577.25" rx="9" ry="38" fill="#c0907c" fill-opacity="0.5"/>
<ellipse cx="205" cy="645.4" rx="30" ry="8" fill="#c8807c"/>
</g>

</g></g>
<g transform="translate(818,462) scale(0.25316)">
<clipPath id="e_4_c"><rect x="379" y="382" width="359" height="360"/></clipPath>
<g clip-path="url(#e_4_c)">
<rect x="359" y="362" width="399" height="400" fill="#4b4130"/>
<g filter="url(#e_soft)">
<rect x="319" y="322" width="479" height="480" fill="#4b4130"/>
<rect x="379" y="382" width="360" height="360" fill="#4b4130"/>
<rect x="640" y="382" width="100" height="360" fill="#15130e"/>
<polygon points="480,742 500,700 600,720 700,650 738,680 738,742" fill="#111"/>
<polygon points="640,700 690,645 705,690 660,730" fill="#e8e4dc"/>
<polygon points="515.0,671.0 625.0,671.0 630.0,792.5 510.0,792.5" fill="#8a6038"/>
<ellipse cx="472.0" cy="595" rx="12" ry="28" fill="#8a6038"/>
<ellipse cx="668.0" cy="595" rx="12" ry="28" fill="#8a6038"/>
<ellipse cx="570" cy="590" rx="100" ry="135" fill="#cc9c6c"/>
<ellipse cx="620.0" cy="610.25" rx="45.0" ry="108.0" fill="#8a6038" fill-opacity="0.28"/>
<ellipse cx="515.0" cy="617.0" rx="35.0" ry="94.5" fill="#8a6038" fill-opacity="0.22"/>
<polygon points="460,560 462,470 500,410 580,388 660,405 700,470 698,570 680,510 640,460 560,455 510,470 485,520" fill="#5a4a2e"/>
<ellipse cx="527.0" cy="557.8" rx="26" ry="6" fill="#5a4a30" fill-opacity="0.9" transform="rotate(-5 527.0 557.8)"/>
<ellipse cx="613.0" cy="557.8" rx="26" ry="6" fill="#5a4a30" fill-opacity="0.9" transform="rotate(5 613.0 557.8)"/>
<ellipse cx="527.0" cy="573.8" rx="24" ry="11" fill="#8a6038" fill-opacity="0.9"/>
<ellipse cx="613.0" cy="573.8" rx="24" ry="11" fill="#8a6038" fill-opacity="0.9"/>
<ellipse cx="527.0" cy="573.8" rx="12" ry="7" fill="#3a4a5a"/>
<ellipse cx="613.0" cy="573.8" rx="12" ry="7" fill="#3a4a5a"/>
<ellipse cx="574" cy="626.45" rx="22" ry="9" fill="#8a6038" fill-opacity="0.8"/>
<ellipse cx="580" cy="596.75" rx="9" ry="38" fill="#8a6038" fill-opacity="0.5"/>
<ellipse cx="570" cy="660.2" rx="30" ry="8" fill="#a8685a"/>
</g>

</g></g>
<g transform="translate(818,462) scale(0.25316)">
<clipPath id="e_5_c"><rect x="738" y="382" width="359" height="360"/></clipPath>
<g clip-path="url(#e_5_c)">
<rect x="718" y="362" width="399" height="400" fill="#3a2818"/>
<g filter="url(#e_soft)">
<rect x="678" y="322" width="479" height="480" fill="#3a2818"/>
<rect x="738" y="382" width="360" height="360" fill="#3a2818"/>
<polygon points="1005,670 1045,660 1055,742 1010,742" fill="#a8c4e0"/>
<polygon points="857.25,668.0 972.75,668.0 978.0,785.0 852.0,785.0" fill="#b87858"/>
<ellipse cx="812.1" cy="595" rx="12" ry="28" fill="#b87858"/>
<ellipse cx="1017.9" cy="595" rx="12" ry="28" fill="#b87858"/>
<ellipse cx="915" cy="590" rx="105" ry="130" fill="#dca484"/>
<ellipse cx="967.5" cy="609.5" rx="47.25" ry="104.0" fill="#b87858" fill-opacity="0.28"/>
<ellipse cx="857.25" cy="616.0" rx="36.75" ry="91.0" fill="#b87858" fill-opacity="0.22"/>
<polygon points="745,560 760,450 820,395 900,385 1000,400 1055,470 1060,600 1030,660 1010,560 985,480 900,450 840,470 810,560 800,660 760,640" fill="#a47c4c"/>
<polygon points="840,410 920,392 900,440 850,450" fill="#d8b880"/>
<polygon points="745,560 770,480 800,560 790,650 755,640" fill="#7a5430"/>
<ellipse cx="918" cy="690" rx="80" ry="50" fill="#9a6c4a"/>
<ellipse cx="918" cy="650" rx="34" ry="11" fill="#dca484"/>
<ellipse cx="918" cy="668" rx="30" ry="8" fill="#c8807a"/>
<ellipse cx="869.85" cy="558.4" rx="26" ry="6" fill="#a88050" fill-opacity="0.9" transform="rotate(-5 869.85 558.4)"/>
<ellipse cx="960.15" cy="558.4" rx="26" ry="6" fill="#a88050" fill-opacity="0.9" transform="rotate(5 960.15 558.4)"/>
<ellipse cx="869.85" cy="574.4" rx="24" ry="11" fill="#b87858" fill-opacity="0.9"/>
<ellipse cx="960.15" cy="574.4" rx="24" ry="11" fill="#b87858" fill-opacity="0.9"/>
<ellipse cx="869.85" cy="574.4" rx="12" ry="7" fill="#5a6a7a"/>
<ellipse cx="960.15" cy="574.4" rx="12" ry="7" fill="#5a6a7a"/>
<ellipse cx="919" cy="625.1" rx="22" ry="9" fill="#b87858" fill-opacity="0.8"/>
<ellipse cx="925" cy="596.5" rx="9" ry="38" fill="#b87858" fill-opacity="0.5"/>
<ellipse cx="915" cy="657.6" rx="30" ry="8" fill="#b06a60"/>
</g>

</g></g>
<defs>
<filter id="f_paint" x="-5%" y="-5%" width="110%" height="110%" color-interpolation-filters="sRGB">
<feTurbulence type="fractalNoise" baseFrequency="0.03" numOctaves="2" seed="7" result="n"/>
<feDisplacementMap in="SourceGraphic" in2="n" scale="20" xChannelSelector="R" yChannelSelector="G" result="d"/>
<feGaussianBlur in="d" stdDeviation="3.5" result="b"/>
<feTurbulence type="fractalNoise" baseFrequency="0.035 0.06" numOctaves="3" seed="11" result="n2"/>
<feColorMatrix in="n2" type="matrix" values="1.6 0 0 0 -0.32  1.6 0 0 0 -0.32  1.6 0 0 0 -0.32  0 0 0 0 1" result="g"/>
<feBlend in="g" in2="b" mode="overlay" result="ov"/>
<feColorMatrix in="n2" type="matrix" values="0 0 0 0 0.03  0 0 0 0 0.08  0 0 0 0 0.25  0 2.8 0 0 -1.62" result="dark"/>
<feMerge><feMergeNode in="ov"/><feMergeNode in="dark"/></feMerge>
</filter>
<filter id="f_paint2" x="-5%" y="-5%" width="110%" height="110%" color-interpolation-filters="sRGB">
<feTurbulence type="fractalNoise" baseFrequency="0.02" numOctaves="2" seed="3" result="n"/>
<feDisplacementMap in="SourceGraphic" in2="n" scale="30" xChannelSelector="R" yChannelSelector="G" result="d"/>
<feGaussianBlur in="d" stdDeviation="3.5" result="b"/>
<feTurbulence type="fractalNoise" baseFrequency="0.03 0.055" numOctaves="3" seed="21" result="n2"/>
<feColorMatrix in="n2" type="matrix" values="1.2 0 0 0 -0.11  1.2 0 0 0 -0.11  1.2 0 0 0 -0.11  0 0 0 0 1" result="g"/>
<feBlend in="g" in2="b" mode="overlay"/>
</filter>
<filter id="f_soft" x="-5%" y="-5%" width="110%" height="110%" color-interpolation-filters="sRGB">
<feTurbulence type="fractalNoise" baseFrequency="0.02" numOctaves="2" seed="3" result="n"/>
<feDisplacementMap in="SourceGraphic" in2="n" scale="30" xChannelSelector="R" yChannelSelector="G" result="d"/>
<feGaussianBlur in="d" stdDeviation="6"/>
</filter>
</defs>
<g transform="translate(10,810) scale(0.17825)">
<clipPath id="f_sn_c"><rect x="45" y="40" width="1015" height="1015"/></clipPath>
<g clip-path="url(#f_sn_c)">
<rect x="25" y="20" width="1055" height="1055" fill="#2f62a6"/>
<g filter="url(#f_paint2)">
<rect x="-15" y="-20" width="1135" height="1135" fill="#2f62a6"/>
<rect x="0" y="0" width="1100" height="1100" fill="#2f62a6"/>
<ellipse cx="150" cy="330" rx="200" ry="120" fill="#24467f" transform="rotate(-20 150 330)"/>
<ellipse cx="650" cy="250" rx="330" ry="200" fill="#3f7abb"/>
<ellipse cx="330" cy="120" rx="260" ry="70" fill="#244c8c"/>
<ellipse cx="560" cy="400" rx="200" ry="170" fill="#5d93c9"/>
<ellipse cx="560" cy="420" rx="120" ry="100" fill="#3a6fb2"/>
<ellipse cx="600" cy="330" rx="150" ry="70" fill="#86b2d9" transform="rotate(-25 600 330)"/>
<ellipse cx="520" cy="470" rx="120" ry="45" fill="#9fc3e2" transform="rotate(30 520 470)"/>
<ellipse cx="810" cy="530" rx="95" ry="80" fill="#6da2d2"/>
<ellipse cx="810" cy="535" rx="45" ry="38" fill="#2f66aa"/>
<polygon points="330,690 520,640 700,640 860,610 980,520 1060,480 1060,620 900,690 700,720 480,740 340,760" fill="#9fc3d6" fill-opacity="0.85"/>
<polygon points="520,668 640,655 780,645 900,600 1000,550 1060,525 1060,565 900,640 720,680 560,690" fill="#d3e2cf" fill-opacity="0.9"/>
<ellipse cx="1040" cy="215" rx="150" ry="170" fill="#a9d0c6"/>
<ellipse cx="1050" cy="215" rx="95" ry="110" fill="#dbe58a"/>
<ellipse cx="1070" cy="215" rx="45" ry="60" fill="#e9c23c"/>
<ellipse cx="365" cy="580" rx="78" ry="78" fill="#c4dccb"/>
<ellipse cx="365" cy="580" rx="52" ry="52" fill="#eef3e6"/>
<ellipse cx="365" cy="580" rx="15" ry="15" fill="#e6c64a"/>
<ellipse cx="705" cy="125" rx="52" ry="46" fill="#8fbdb8"/>
<ellipse cx="705" cy="125" rx="24" ry="22" fill="#dcd87c"/>
<ellipse cx="215" cy="215" rx="42" ry="40" fill="#8fbdb8"/>
<ellipse cx="215" cy="215" rx="20" ry="18" fill="#e8d860"/>
<ellipse cx="825" cy="270" rx="44" ry="44" fill="#8fbdb8"/>
<ellipse cx="825" cy="270" rx="20" ry="20" fill="#ecdf8a"/>
<ellipse cx="355" cy="80" rx="36" ry="30" fill="#86b4b8"/>
<ellipse cx="355" cy="80" rx="12" ry="10" fill="#d8d47c"/>
<ellipse cx="440" cy="100" rx="28" ry="22" fill="#86b4b8"/>
<ellipse cx="440" cy="100" rx="10" ry="9" fill="#e0cc60"/>
<ellipse cx="210" cy="75" rx="26" ry="22" fill="#86b4b8"/>
<ellipse cx="210" cy="75" rx="9" ry="9" fill="#e0cc60"/>
<ellipse cx="60" cy="90" rx="35" ry="35" fill="#9cc4b8"/>
<ellipse cx="55" cy="90" rx="14" ry="14" fill="#e3dc7c"/>
<ellipse cx="325" cy="375" rx="30" ry="28" fill="#86b4b8"/>
<ellipse cx="325" cy="375" rx="11" ry="11" fill="#ecd968"/>
<ellipse cx="75" cy="520" rx="40" ry="45" fill="#a9cdb8"/>
<ellipse cx="72" cy="520" rx="16" ry="18" fill="#e3dc7c"/>
<polygon points="350,790 420,760 480,740 540,755 620,720 700,690 780,680 850,700 920,680 1000,640 1040,610 1060,600 1060,840 350,860" fill="#27468c"/>
<polygon points="860,760 1060,680 1060,800 800,820" fill="#4a76b4"/>
<polygon points="40,800 200,780 400,790 600,800 800,790 1060,780 1060,900 40,900" fill="#355d8c"/>
<polygon points="700,800 1060,770 1060,860 720,870" fill="#41709c"/>
<polygon points="380,880 600,850 800,860 1060,880 1060,1060 380,1060" fill="#36465f"/>
<polygon points="500,960 700,930 900,980 1000,1060 500,1060" fill="#5b6f8a"/>
<polygon points="560,900 600,850 640,900 640,940 560,940" fill="#8fa6c0"/>
<polygon points="628,700 640,690 655,830 660,930 620,930" fill="#7f93ad"/>
<rect x="525" y="905" width="14" height="20" fill="#d8c850"/>
<rect x="785" y="905" width="16" height="16" fill="#d8c850"/>
<rect x="655" y="975" width="18" height="22" fill="#d8c850"/>
<rect x="895" y="930" width="14" height="14" fill="#d8c850"/>
<rect x="455" y="882" width="45" height="22" fill="#8c5a48"/>
<polygon points="160,100 175,200 200,330 215,480 235,620 250,700 285,640 310,720 360,780 400,880 450,940 500,1000 510,1060 50,1060 60,940 85,800 95,620 100,400 115,470 130,300 145,180" fill="#274630"/>
<path d="M150,300 Q170,500 160,700 T200,1000" fill="none" stroke="#5a5a2a" stroke-width="6" stroke-linecap="round"/>
<path d="M250,720 Q300,850 380,980" fill="none" stroke="#5a5a2a" stroke-width="6" stroke-linecap="round"/>
<path d="M120,600 Q150,800 130,1000" fill="none" stroke="#2f5a3a" stroke-width="8" stroke-linecap="round"/>
<path d="M300,760 Q360,900 440,1020" fill="none" stroke="#2f5a3a" stroke-width="8" stroke-linecap="round"/>
<path d="M400,420 Q430,250 600,270 Q760,300 720,430 Q680,540 560,520 Q470,490 500,410 Q540,350 620,390" fill="none" stroke="#c9dcec" stroke-width="10" stroke-linecap="round" stroke-opacity="0.8"/>
<path d="M200,330 Q330,240 480,210 Q620,190 720,250" fill="none" stroke="#e4eef4" stroke-width="9" stroke-linecap="round" stroke-opacity="0.7"/>
<path d="M60,300 Q200,260 340,200" fill="none" stroke="#1f447f" stroke-width="10" stroke-linecap="round" stroke-opacity="0.7"/>
<path d="M240,430 Q330,520 400,500" fill="none" stroke="#1f447f" stroke-width="10" stroke-linecap="round" stroke-opacity="0.6"/>
<path d="M720,560 Q760,450 850,480 Q910,520 860,590 Q800,620 780,560" fill="none" stroke="#cfe0ee" stroke-width="8" stroke-linecap="round" stroke-opacity="0.7"/>
<path d="M860,100 Q960,60 1060,70" fill="none" stroke="#1f447f" stroke-width="12" stroke-linecap="round" stroke-opacity="0.5"/>
<path d="M760,110 Q900,150 940,300" fill="none" stroke="#6fa0d0" stroke-width="10" stroke-linecap="round" stroke-opacity="0.7"/>
</g>

</g></g>
<defs><filter id="f_conc" x="-5%" y="-5%" width="110%" height="110%" color-interpolation-filters="sRGB">
<feGaussianBlur in="SourceGraphic" stdDeviation="3" result="b"/>
<feTurbulence type="fractalNoise" baseFrequency="0.035 0.06" numOctaves="3" seed="5" result="n2"/>
<feColorMatrix in="n2" type="matrix" values="1.6 0 0 0 -0.32  1.6 0 0 0 -0.32  1.6 0 0 0 -0.32  0 0 0 0 1" result="g"/>
<feBlend in="g" in2="b" mode="overlay" result="ov"/>
<feColorMatrix in="n2" type="matrix" values="0 0 0 0 0.03  0 0 0 0 0.08  0 0 0 0 0.25  0 2.8 0 0 -1.62" result="dark"/>
<feMerge><feMergeNode in="ov"/><feMergeNode in="dark"/></feMerge>
</filter></defs>
<g transform="translate(240,748) scale(0.14414)">
<clipPath id="f_tr_c"><rect x="38" y="30" width="1040" height="1060"/></clipPath>
<g clip-path="url(#f_tr_c)">
<rect x="18" y="10" width="1080" height="1100" fill="#2a5ca8"/>
<g filter="url(#f_paint)">
<rect x="-22" y="-30" width="1160" height="1180" fill="#2a5ca8"/>
<rect x="0" y="0" width="1100" height="1100" fill="#2a5ca8"/>
<polygon points="40,30 320,30 300,130 220,215 40,195" fill="#a9cdea"/>
<polygon points="470,30 1078,30 1078,140 900,120 760,80 600,200 480,180" fill="#8fbde6"/>
<polygon points="60,40 260,40 200,130 80,140" fill="#cfe3f2"/>
<polygon points="520,40 760,40 640,150 520,120" fill="#cfe3f2"/>
<polygon points="250,40 470,40 470,200 380,230 250,200" fill="#15301f"/>
<polygon points="50,180 200,180 200,350 50,350" fill="#173524"/>
<polygon points="620,150 760,100 900,120 1020,200 1020,340 620,340" fill="#15301f"/>
<polygon points="40,340 1078,340 1078,560 40,560" fill="#3670b8"/>
<polygon points="40,700 1078,640 1078,1090 40,1090" fill="#1f4690"/>
<polygon points="40,900 1078,860 1078,1090 40,1090" fill="#1a3878"/>
<ellipse cx="500" cy="810" rx="330" ry="60" fill="#14284f"/>
<ellipse cx="240" cy="660" rx="100" ry="60" fill="#14284f"/>
<polygon points="40,400 180,400 220,250 560,240 650,360 1010,460 1010,520 700,560 660,740 420,680 360,650 180,590 60,520" fill="#c9553a"/>
<polygon points="215,270 330,265 345,390 200,385" fill="#1d3f7e"/>
<polygon points="365,265 560,255 640,365 380,395" fill="#244c92"/>
<polygon points="230,232 560,228 575,252 225,258" fill="#e9d5dc"/>
<polygon points="380,400 650,370 1010,460 700,520 420,490" fill="#d7849b"/>
<polygon points="480,410 700,400 900,460 700,490" fill="#e6a9b8"/>
<polygon points="400,560 480,540 600,590 640,700 600,640 500,590 420,610" fill="#e2dfe0"/>
<polygon points="700,520 1000,480 1000,640 690,690" fill="#5f86b8"/>
<polygon points="770,540 960,510 960,610 770,650" fill="#2a4c7f"/>
<polygon points="650,700 1010,620 1010,690 660,770" fill="#b9d2e6"/>
<ellipse cx="735" cy="575" rx="26" ry="26" fill="#e8f0f4"/>
<ellipse cx="725" cy="635" rx="22" ry="22" fill="#e8f0f4"/>
<ellipse cx="985" cy="520" rx="18" ry="20" fill="#e8f0f4"/>
<ellipse cx="520" cy="705" rx="105" ry="115" fill="#16223f"/>
<ellipse cx="525" cy="715" rx="62" ry="72" fill="#79c0b4"/>
<ellipse cx="525" cy="715" rx="30" ry="36" fill="#a8dcd0"/>
<ellipse cx="100" cy="570" rx="58" ry="72" fill="#16223f"/>
<ellipse cx="100" cy="575" rx="30" ry="40" fill="#4d7c9a"/>
<path d="M170,410 L185,590" fill="none" stroke="#16223f" stroke-width="10" stroke-linecap="round"/>
<path d="M355,400 L365,650" fill="none" stroke="#16223f" stroke-width="10" stroke-linecap="round"/>
<polygon points="40,350 195,345 185,400 40,405" fill="#1a2b52"/>
</g>

</g></g>
<g transform="translate(393,748) scale(0.14414)">
<clipPath id="f_ca_c"><rect x="18" y="35" width="1067" height="1055"/></clipPath>
<g clip-path="url(#f_ca_c)">
<rect x="-2" y="15" width="1107" height="1095" fill="#2a6cc0"/>
<g filter="url(#f_paint)">
<rect x="-42" y="-25" width="1187" height="1175" fill="#2a6cc0"/>
<rect x="0" y="0" width="1100" height="1100" fill="#2a6cc0"/>
<polygon points="420,35 1085,35 1085,200 900,280 700,300 560,160" fill="#1a4eb0"/>
<polygon points="18,35 380,35 560,200 640,300 560,400 420,440 380,300 200,180 18,160" fill="#4fa8e6"/>
<polygon points="380,200 520,240 600,330 500,400 400,360" fill="#8fd0f2"/>
<ellipse cx="455" cy="55" rx="16" ry="12" fill="#0a1020"/>
<ellipse cx="545" cy="65" rx="12" ry="10" fill="#0a1020"/>
<ellipse cx="625" cy="60" rx="18" ry="14" fill="#0a1020"/>
<ellipse cx="580" cy="120" rx="16" ry="12" fill="#0a1020"/>
<ellipse cx="665" cy="110" rx="14" ry="12" fill="#0a1020"/>
<ellipse cx="730" cy="95" rx="12" ry="10" fill="#0a1020"/>
<ellipse cx="790" cy="135" rx="14" ry="12" fill="#0a1020"/>
<ellipse cx="725" cy="172" rx="18" ry="12" fill="#0a1020"/>
<ellipse cx="850" cy="150" rx="12" ry="10" fill="#0a1020"/>
<ellipse cx="900" cy="180" rx="12" ry="10" fill="#0a1020"/>
<ellipse cx="930" cy="65" rx="12" ry="10" fill="#0a1020"/>
<ellipse cx="1000" cy="100" rx="12" ry="10" fill="#0a1020"/>
<ellipse cx="630" cy="155" rx="10" ry="8" fill="#0a1020"/>
<polygon points="18,170 150,175 300,200 390,330 395,700 250,820 18,910" fill="#17274d"/>
<polygon points="30,210 250,215 330,300 110,290 30,300" fill="#d9a9b5"/>
<polygon points="30,215 110,220 110,260 30,260" fill="#f0ece8"/>
<polygon points="100,330 240,360 240,800 100,860" fill="#2d4c8a"/>
<rect x="150" y="400" width="30" height="60" fill="#5a78b0"/>
<rect x="200" y="420" width="26" height="60" fill="#5a78b0"/>
<rect x="280" y="430" width="24" height="70" fill="#5a78b0"/>
<rect x="150" y="520" width="40" height="160" fill="#0e1830"/>
<rect x="260" y="560" width="36" height="140" fill="#0e1830"/>
<polygon points="22,400 80,410 80,700 22,710" fill="#c42a24"/>
<polygon points="85,470 130,470 130,640 85,640" fill="#8fa9d0"/>
<polygon points="415,470 500,440 500,560 415,565" fill="#e9edf2"/>
<polygon points="495,450 700,420 700,555 495,565" fill="#d9c22e"/>
<polygon points="500,500 690,480 690,520 500,535" fill="#2f6a7a"/>
<polygon points="480,435 560,425 560,445 480,455" fill="#d98a9a"/>
<polygon points="700,400 820,330 860,300 1085,150 1085,1010 960,900 830,700 700,640" fill="#cfd9ea"/>
<polygon points="870,335 1085,200 1085,300 870,405" fill="#ebe2cc"/>
<polygon points="860,300 1085,150 1085,185 862,322" fill="#4a68a8"/>
<rect x="905" y="262" width="22" height="40" fill="#2a478c"/>
<rect x="955" y="235" width="22" height="42" fill="#2a478c"/>
<rect x="1005" y="208" width="24" height="46" fill="#2a478c"/>
<rect x="1055" y="180" width="24" height="50" fill="#2a478c"/>
<ellipse cx="892" cy="488" rx="15" ry="36" fill="#24468c"/>
<ellipse cx="937" cy="478" rx="15" ry="37" fill="#24468c"/>
<ellipse cx="982" cy="468" rx="15" ry="38" fill="#24468c"/>
<ellipse cx="1027" cy="458" rx="15" ry="39" fill="#24468c"/>
<ellipse cx="1072" cy="448" rx="15" ry="40" fill="#24468c"/>
<polygon points="860,560 1085,535 1085,590 860,606" fill="#3f5f9f"/>
<ellipse cx="895" cy="690" rx="17" ry="36" fill="#1f3f80"/>
<ellipse cx="945" cy="692" rx="17" ry="37" fill="#1f3f80"/>
<ellipse cx="995" cy="694" rx="17" ry="38" fill="#1f3f80"/>
<ellipse cx="1045" cy="696" rx="17" ry="39" fill="#1f3f80"/>
<ellipse cx="1085" cy="698" rx="12" ry="39" fill="#1f3f80"/>
<polygon points="700,640 830,700 830,740 700,680" fill="#3a62ac"/>
<ellipse cx="735" cy="470" rx="10" ry="24" fill="#3a62ac"/>
<ellipse cx="775" cy="455" rx="10" ry="24" fill="#3a62ac"/>
<ellipse cx="815" cy="440" rx="10" ry="24" fill="#3a62ac"/>
<ellipse cx="735" cy="565" rx="10" ry="24" fill="#3a62ac"/>
<ellipse cx="775" cy="555" rx="10" ry="24" fill="#3a62ac"/>
<ellipse cx="815" cy="545" rx="10" ry="24" fill="#3a62ac"/>
<polygon points="960,790 1085,820 1085,1050 990,960" fill="#c56a2e"/>
<polygon points="880,760 960,800 1000,960 1085,1060 1085,1090 860,1090 840,800" fill="#17274d"/>
<polygon points="395,600 560,620 700,640 830,700 870,1090 18,1090 18,910 250,820 395,700" fill="#1d4eaa"/>
<polygon points="450,700 700,690 800,800 780,1000 500,1000 400,850" fill="#2a66c8"/>
<polygon points="18,920 260,830 340,900 330,1090 18,1090" fill="#15351f"/>
<ellipse cx="320" cy="860" rx="40" ry="14" fill="#cfe6f2"/>
<ellipse cx="460" cy="710" rx="40" ry="12" fill="#101830"/>
<polygon points="500,600 690,600 700,660 520,650" fill="#8f9fc8"/>
</g>

</g></g>
<g transform="translate(545,748) scale(0.14414)">
<clipPath id="f_to_c"><rect x="30" y="35" width="1060" height="1055"/></clipPath>
<g clip-path="url(#f_to_c)">
<rect x="10" y="15" width="1100" height="1095" fill="#2a58a4"/>
<g filter="url(#f_paint)">
<rect x="-30" y="-25" width="1180" height="1175" fill="#2a58a4"/>
<rect x="0" y="0" width="1100" height="1100" fill="#2a58a4"/>
<ellipse cx="300" cy="250" rx="250" ry="150" fill="#3d74c6" transform="rotate(-30 300 250)"/>
<ellipse cx="150" cy="500" rx="120" ry="200" fill="#2450a0"/>
<polygon points="880,230 1090,150 1090,700 900,760 760,900 640,1000 900,500" fill="#18382a"/>
<polygon points="30,800 400,900 640,1000 1090,860 1090,1090 30,1090" fill="#14261f"/>
<ellipse cx="950" cy="850" rx="130" ry="110" fill="#2c5cb0"/>
<ellipse cx="200" cy="950" rx="120" ry="60" fill="#2c5cb0"/>
<polygon points="560,1035 420,940 880,380 985,400 960,480" fill="#a9bfdf"/>
<polygon points="470,900 880,400 900,440 520,960" fill="#4a6fb0"/>
<polygon points="130,650 700,35 890,35 1040,200 960,330 440,930" fill="#c9d8ec"/>
<polygon points="330,560 700,180 900,200 880,330 500,780" fill="#e6dcc0"/>
<polygon points="560,400 800,200 900,260 640,560" fill="#f6f0dc"/>
<polygon points="130,650 200,600 470,880 440,930" fill="#a9bfe0"/>
<ellipse cx="370" cy="580" rx="40" ry="16" fill="#c98a3a" transform="rotate(-45 370 580)"/>
<ellipse cx="500" cy="450" rx="36" ry="14" fill="#c98a3a" transform="rotate(-45 500 450)"/>
<ellipse cx="590" cy="250" rx="30" ry="12" fill="#c98a3a" transform="rotate(-45 590 250)"/>
<ellipse cx="330" cy="680" rx="30" ry="14" fill="#b5742a" transform="rotate(40 330 680)"/>
<ellipse cx="480" cy="360" rx="60" ry="22" fill="#3f66b0" transform="rotate(-45 480 360)"/>
<ellipse cx="690" cy="150" rx="70" ry="22" fill="#3f66b0" transform="rotate(-45 690 150)"/>
<ellipse cx="380" cy="470" rx="50" ry="18" fill="#3f66b0" transform="rotate(-45 380 470)"/>
</g>

</g></g>
<g transform="translate(240,900) scale(0.14599)">
<clipPath id="f_st_c"><rect x="18" y="38" width="1044" height="1047"/></clipPath>
<g clip-path="url(#f_st_c)">
<rect x="-2" y="18" width="1084" height="1087" fill="#2468bc"/>
<g filter="url(#f_paint)">
<rect x="-42" y="-22" width="1164" height="1167" fill="#2468bc"/>
<rect x="0" y="0" width="1100" height="1100" fill="#2468bc"/>
<rect x="0" y="30" width="1100" height="200" fill="#cfe6f3"/>
<rect x="60" y="70" width="160" height="90" fill="#9fcdec"/>
<rect x="560" y="70" width="180" height="60" fill="#9fcdec"/>
<rect x="800" y="60" width="160" height="70" fill="#b4d9f0"/>
<rect x="280" y="80" width="150" height="50" fill="#a6d0ee"/>
<rect x="0" y="225" width="1100" height="70" fill="#3996d8"/>
<rect x="0" y="290" width="1100" height="50" fill="#6ab6de"/>
<rect x="140" y="275" width="330" height="28" fill="#c6d66a"/>
<rect x="600" y="275" width="462" height="28" fill="#c6d66a"/>
<rect x="200" y="290" width="90" height="30" fill="#1e3f2a"/>
<rect x="330" y="300" width="60" height="25" fill="#1e3f2a"/>
<rect x="700" y="300" width="60" height="22" fill="#1e3f2a"/>
<rect x="820" y="305" width="50" height="20" fill="#1e3f2a"/>
<rect x="0" y="340" width="1100" height="90" fill="#3d86d0"/>
<rect x="0" y="430" width="1100" height="250" fill="#2a5cae"/>
<rect x="0" y="680" width="1100" height="420" fill="#1f4c9c"/>
<ellipse cx="150" cy="600" rx="60" ry="30" fill="#7fc0ea"/>
<ellipse cx="310" cy="600" rx="50" ry="28" fill="#7fc0ea"/>
<ellipse cx="740" cy="540" rx="60" ry="30" fill="#7fc0ea"/>
<ellipse cx="900" cy="640" rx="60" ry="30" fill="#7fc0ea"/>
<ellipse cx="240" cy="390" rx="70" ry="25" fill="#7fc0ea"/>
<ellipse cx="140" cy="710" rx="22" ry="22" fill="#dbeef8"/>
<ellipse cx="320" cy="700" rx="20" ry="20" fill="#dbeef8"/>
<polygon points="18,720 120,720 120,880 18,880" fill="#16305e"/>
<polygon points="80,1085 300,900 420,800 700,780 900,830 915,1085" fill="#356f2e"/>
<polygon points="700,790 900,835 910,1085 740,1085" fill="#17301c"/>
<polygon points="240,1010 330,940 350,960 260,1030" fill="#b89a2a"/>
<polygon points="350,930 420,800 680,780 720,880 720,1085 350,1085" fill="#4668b0"/>
<polygon points="420,810 560,840 560,900 400,870" fill="#6d8cc8"/>
<polygon points="600,860 720,840 720,1085 600,1085" fill="#2a3f80"/>
<polygon points="462,290 610,275 635,420 640,810 485,830 472,420" fill="#1a382e"/>
<polygon points="486,420 545,395 545,700 486,770" fill="#5a9ab4"/>
<polygon points="455,95 518,95 522,300 460,300" fill="#234a58"/>
<polygon points="445,95 525,95 520,120 450,120" fill="#16283a"/>
<ellipse cx="487" cy="76" rx="18" ry="16" fill="#e8a020"/>
<polygon points="520,240 560,195 580,240 630,235 600,290 520,290" fill="#1d3f33"/>
<polygon points="620,400 670,420 640,520 615,500" fill="#7fb0c8"/>
</g>

</g></g>
<g transform="translate(393,900) scale(0.14599)">
<clipPath id="f_co_c"><rect x="18" y="38" width="1047" height="1047"/></clipPath>
<g clip-path="url(#f_co_c)">
<rect x="-2" y="18" width="1087" height="1087" fill="#c4ddf0"/>
<g filter="url(#f_conc)">
<rect x="-42" y="-22" width="1167" height="1167" fill="#c4ddf0"/>
<rect x="0" y="0" width="1100" height="1100" fill="#c4ddf0"/>
<ellipse cx="540" cy="575" rx="560" ry="560" fill="#7fb2e4"/>
<ellipse cx="540" cy="575" rx="515" ry="515" fill="#2a5cb0"/>
<ellipse cx="540" cy="575" rx="470" ry="470" fill="#22489a"/>
<polygon points="70,420 300,380 280,620 330,800 420,900 300,940 160,860 80,640" fill="#14281c"/>
<polygon points="830,400 960,380 1000,560 960,760 850,800 800,700 840,560" fill="#14281c"/>
<polygon points="400,880 560,920 760,880 700,1000 480,1010" fill="#1a3a28"/>
<ellipse cx="540" cy="300" rx="260" ry="120" fill="#3a78cc"/>
<ellipse cx="540" cy="575" rx="310" ry="310" fill="#1c2c58"/>
<ellipse cx="540" cy="575" rx="285" ry="285" fill="#e8f0f4"/>
<ellipse cx="540" cy="575" rx="268" ry="268" fill="#4a96d6"/>
<ellipse cx="540" cy="575" rx="200" ry="200" fill="#86c4e8"/>
<ellipse cx="540" cy="575" rx="165" ry="165" fill="#4a96d6"/>
<ellipse cx="540" cy="575" rx="128" ry="128" fill="#0c1018"/>
<ellipse cx="540" cy="575" rx="116" ry="116" fill="#f2f4f0"/>
<ellipse cx="540" cy="575" rx="104" ry="104" fill="#0c1018"/>
<ellipse cx="540" cy="575" rx="92" ry="92" fill="#d8cc50"/>
<ellipse cx="540" cy="575" rx="78" ry="78" fill="#1a2a20"/>
<ellipse cx="540" cy="575" rx="66" ry="66" fill="#f2f4f0"/>
<ellipse cx="540" cy="575" rx="52" ry="52" fill="#3a80c8"/>
<ellipse cx="540" cy="575" rx="38" ry="38" fill="#f2f4f0"/>
<ellipse cx="540" cy="575" rx="24" ry="24" fill="#3a80c8"/>
<ellipse cx="540" cy="575" rx="12" ry="12" fill="#f2f4f0"/>
</g>

</g></g>
<g transform="translate(545,900) scale(0.14599)">
<clipPath id="f_el_c"><rect x="30" y="40" width="1040" height="1040"/></clipPath>
<g clip-path="url(#f_el_c)">
<rect x="10" y="20" width="1080" height="1080" fill="#d9e8ec"/>
<g filter="url(#f_paint)">
<rect x="-30" y="-20" width="1160" height="1160" fill="#d9e8ec"/>
<rect x="0" y="0" width="1100" height="1100" fill="#d9e8ec"/>
<polygon points="30,380 150,360 300,460 420,520 420,760 30,760" fill="#4b8ad2"/>
<polygon points="30,430 200,420 300,560 200,640 30,560" fill="#cfe2f0"/>
<polygon points="30,560 200,640 420,700 420,770 30,770" fill="#2f68b8"/>
<polygon points="520,640 660,640 660,780 520,780" fill="#dfeaf2"/>
<rect x="0" y="780" width="1100" height="110" fill="#6cb832"/>
<rect x="0" y="850" width="1100" height="70" fill="#c9d845"/>
<rect x="0" y="910" width="1100" height="80" fill="#5aa42c"/>
<rect x="0" y="985" width="1100" height="110" fill="#17331f"/>
<polygon points="40,770 420,760 420,810 40,830" fill="#16301f"/>
<polygon points="860,790 1070,800 1070,900 860,880" fill="#d8e6a0"/>
<polygon points="70,300 130,200 210,120 330,90 440,85 430,400 390,520 250,470 140,380" fill="#2a55a8"/>
<polygon points="650,90 800,60 900,65 1000,180 1030,240 990,420 880,560 700,520" fill="#2a55a8"/>
<polygon points="640,400 900,340 1070,300 1070,800 860,780 840,1000 700,1010 640,700" fill="#254e9e"/>
<polygon points="900,360 1070,320 1070,600 960,560" fill="#3a72c8"/>
<polygon points="620,330 700,320 770,500 760,900 660,900 630,640" fill="#0d1a3a"/>
<polygon points="400,100 560,80 700,100 720,300 640,420 570,520 410,520 380,300" fill="#3060b0"/>
<polygon points="410,500 570,500 550,800 620,950 560,1010 480,990 440,800" fill="#2b58a8"/>
<ellipse cx="580" cy="930" rx="40" ry="38" fill="#16223f"/>
<ellipse cx="300" cy="230" rx="60" ry="22" fill="#8a7c8a" transform="rotate(-20 300 230)"/>
<ellipse cx="850" cy="200" rx="70" ry="20" fill="#8a7c8a" transform="rotate(10 850 200)"/>
<ellipse cx="450" cy="380" rx="40" ry="18" fill="#8a7c8a"/>
<ellipse cx="605" cy="285" rx="20" ry="18" fill="#0d1a3a"/>
<polygon points="385,500 420,520 330,660 230,725 205,715 300,640" fill="#eef2f4"/>
<polygon points="565,500 600,490 655,640 630,640" fill="#eef2f4"/>
<polygon points="375,180 420,130 440,160 395,250" fill="#e6eef2"/>
<polygon points="700,960 860,940 870,1080 700,1080" fill="#254e9e"/>
</g>

</g></g>
<defs>
<filter id="g_soft" x="-5%" y="-5%" width="110%" height="110%" color-interpolation-filters="sRGB"><feGaussianBlur stdDeviation="7"/></filter>
<linearGradient id="g_b1" x1="0" y1="0" x2="1" y2="0.4"><stop offset="0" stop-color="#8fb444"/><stop offset="0.45" stop-color="#86ac40"/><stop offset="1" stop-color="#5f9034"/></linearGradient>
<radialGradient id="g_b5" cx="0.62" cy="0.5" r="0.7"><stop offset="0" stop-color="#8a9a34"/><stop offset="0.55" stop-color="#687a2a"/><stop offset="1" stop-color="#445220"/></radialGradient>
</defs>
<g transform="translate(755,750) scale(0.16488)">
<clipPath id="g_0_c"><rect x="20" y="22" width="435" height="436"/></clipPath>
<g clip-path="url(#g_0_c)">
<rect x="0" y="2" width="475" height="476" fill="#86ac40"/>
<g filter="url(#g_soft)">
<rect x="-40" y="-38" width="555" height="556" fill="#86ac40"/>
<rect x="20" y="22" width="435" height="436" fill="url(#g_b1)"/>
<ellipse cx="120" cy="120" rx="110" ry="90" fill="#a6c654"/>
<polygon points="20,420 100,360 200,340 330,365 455,285 455,458 20,458" fill="#efe7da"/>
<polygon points="20,445 200,400 455,330 455,458 20,458" fill="#f6f2ea"/>
<polygon points="350,160 380,125 420,118 455,125 455,290 430,310 380,362 330,372 350,260" fill="#e6dfcb"/>
<polygon points="330,180 372,260 345,340 210,420 70,458 110,420 160,370 250,270" fill="#8c7a42"/>
<polygon points="160,370 260,330 330,340 210,420 70,458 110,420" fill="#6e5e30"/>
<polygon points="310,150 335,105 395,80 455,84 455,132 420,118 380,125 350,162" fill="#18181a"/>
</g>

</g></g>
<g transform="translate(755,750) scale(0.16488)">
<clipPath id="g_1_c"><rect x="455" y="22" width="438" height="436"/></clipPath>
<g clip-path="url(#g_1_c)">
<rect x="435" y="2" width="478" height="476" fill="#3b5a38"/>
<g filter="url(#g_soft)">
<rect x="395" y="-38" width="558" height="556" fill="#3b5a38"/>
<rect x="455" y="22" width="438" height="436" fill="#3b5a38"/>
<ellipse cx="800" cy="300" rx="120" ry="160" fill="#4f7046"/>
<ellipse cx="520" cy="120" rx="70" ry="90" fill="#466a40"/>
<polygon points="690,22 800,22 640,300 560,458 455,458 455,380 600,200" fill="#18261b"/>
<path d="M455,272 Q520,250 580,235 M690,210 Q760,195 810,190 L893,150 M810,190 L893,262" fill="none" stroke="#9a968c" stroke-width="8" stroke-linecap="round"/>
<path d="M700,140 L760,135 L893,150" fill="none" stroke="#5a5a52" stroke-width="5" stroke-linecap="round"/>
<polygon points="585,30 640,24 700,40 720,120 700,220 650,300 640,458 570,458 590,300 570,230 565,110" fill="#161a1a"/>
<polygon points="575,85 605,70 625,120 615,200 590,235 572,180" fill="#d0d6d2"/>
<polygon points="740,458 760,400 790,458" fill="#1c2a1e"/>
</g>

</g></g>
<g transform="translate(937,750) scale(0.16488)">
<clipPath id="g_2_c"><rect x="-216" y="22" width="438" height="436"/></clipPath>
<g clip-path="url(#g_2_c)">
<rect x="-236" y="2" width="478" height="476" fill="#4b7836"/>
<g filter="url(#g_soft)">
<rect x="-276" y="-38" width="558" height="556" fill="#4b7836"/>
<rect x="-216" y="22" width="438" height="436" fill="#4b7836"/>
<rect x="-216" y="230" width="438" height="228" fill="#588640"/>
<rect x="-216" y="22" width="438" height="70" fill="#436e30"/>
<path d="M-17,22 L-14,228" fill="none" stroke="#30363e" stroke-width="10" stroke-linecap="round"/>
<path d="M-110,200 L-10,218" fill="none" stroke="#6e7480" stroke-width="8" stroke-linecap="round"/>
<polygon points="20,185 70,170 120,200 160,260 222,275 222,330 180,345 120,300 60,290 25,240" fill="#f3f5f6"/>
<polygon points="15,120 50,112 70,140 60,175 25,180" fill="#e8ecf0"/>
<polygon points="-40,150 10,135 35,160 25,200 -25,205" fill="#3a4658"/>
<path d="M110,300 L60,380 L35,385" fill="none" stroke="#8a8880" stroke-width="6" stroke-linecap="round"/>
<path d="M135,320 L140,360" fill="none" stroke="#6a6860" stroke-width="8" stroke-linecap="round"/>
</g>

</g></g>
<g transform="translate(937,750) scale(0.16488)">
<clipPath id="g_3_c"><rect x="222" y="22" width="440" height="436"/></clipPath>
<g clip-path="url(#g_3_c)">
<rect x="202" y="2" width="480" height="476" fill="#2f602c"/>
<g filter="url(#g_soft)">
<rect x="162" y="-38" width="560" height="556" fill="#2f602c"/>
<rect x="222" y="22" width="440" height="436" fill="#2f602c"/>
<ellipse cx="300" cy="110" rx="90" ry="80" fill="#3f9040"/>
<ellipse cx="430" cy="70" rx="50" ry="45" fill="#4a9a48"/>
<ellipse cx="610" cy="70" rx="40" ry="40" fill="#3a8a3c"/>
<ellipse cx="620" cy="300" rx="45" ry="90" fill="#2c7a34"/>
<ellipse cx="260" cy="330" rx="50" ry="100" fill="#1d4a22"/>
<polygon points="290,160 360,130 400,200 410,330 380,458 330,458 340,300" fill="#4a3a2c"/>
<polygon points="420,100 470,90 470,200 430,230" fill="#3a2c22"/>
<path d="M430,385 Q540,380 662,410" fill="none" stroke="#221c18" stroke-width="36" stroke-linecap="round"/>
<polygon points="495,62 560,58 610,90 625,180 600,270 540,330 450,355 340,345 370,300 420,230 465,140" fill="#eef0f4"/>
<polygon points="380,300 470,200 500,260 450,340 340,345" fill="#c4c8d2"/>
<polygon points="497,92 540,88 552,120 520,140 495,125" fill="#3a3c44"/>
<ellipse cx="415" cy="400" rx="35" ry="35" fill="#f0f0f0"/>
<ellipse cx="560" cy="435" rx="22" ry="25" fill="#e8e8e8"/>
<ellipse cx="640" cy="330" rx="18" ry="40" fill="#e4e4e4"/>
</g>

</g></g>
<g transform="translate(937,750) scale(0.16488)">
<clipPath id="g_4_c"><rect x="662" y="22" width="436" height="433"/></clipPath>
<g clip-path="url(#g_4_c)">
<rect x="642" y="2" width="476" height="473" fill="#687a2a"/>
<g filter="url(#g_soft)">
<rect x="602" y="-38" width="556" height="553" fill="#687a2a"/>
<rect x="662" y="22" width="436" height="433" fill="url(#g_b5)"/>
<ellipse cx="740" cy="90" rx="120" ry="70" fill="#4e5e22"/>
<polygon points="780,455 790,395 830,365 900,360 950,385 980,430 985,455" fill="#c9b298"/>
<polygon points="800,400 840,372 890,370 860,410" fill="#dcc8b0"/>
<polygon points="770,250 800,225 860,218 892,235 888,285 850,310 800,305 768,290" fill="#f2f2f0"/>
<polygon points="700,345 745,295 765,250 800,225 830,200 870,198 880,215 840,222 800,260 760,305 715,348" fill="#151515"/>
<path d="M825,310 L835,345 L860,365" fill="none" stroke="#b08040" stroke-width="3" stroke-linecap="round"/>
</g>

</g></g>
<defs>
<radialGradient id="h_N" cx="0.42" cy="0.38" r="0.65"><stop offset="0" stop-color="#2a7cc0"/><stop offset="0.7" stop-color="#1b66a6"/><stop offset="1" stop-color="#154f85"/></radialGradient>
<radialGradient id="h_O" cx="0.42" cy="0.38" r="0.65"><stop offset="0" stop-color="#d92a30"/><stop offset="0.7" stop-color="#bf1c24"/><stop offset="1" stop-color="#8f1218"/></radialGradient>
<radialGradient id="h_C" cx="0.42" cy="0.38" r="0.65"><stop offset="0" stop-color="#8c8c8c"/><stop offset="0.7" stop-color="#727272"/><stop offset="1" stop-color="#555"/></radialGradient>
<radialGradient id="h_H" cx="0.42" cy="0.38" r="0.65"><stop offset="0" stop-color="#eeeeee"/><stop offset="0.7" stop-color="#cfcfcf"/><stop offset="1" stop-color="#a8a8a8"/></radialGradient>
<filter id="h_bl" x="-5%" y="-5%" width="110%" height="110%"><feGaussianBlur stdDeviation="0.35"/></filter>
</defs>
<g filter="url(#h_bl)">
<line x1="763.9" y1="953.3" x2="771.0" y2="938.5" stroke="#9a9a9a" stroke-width="2.2" stroke-linecap="round"/>
<line x1="763.9" y1="953.3" x2="772.4" y2="953.7" stroke="#9a9a9a" stroke-width="2.2" stroke-linecap="round"/>
<line x1="763.9" y1="953.3" x2="765.1" y2="964.0" stroke="#9a9a9a" stroke-width="2.2" stroke-linecap="round"/>
<line x1="771.0" y1="938.5" x2="780.3" y2="938.9" stroke="#9a9a9a" stroke-width="2.2" stroke-linecap="round"/>
<line x1="771.0" y1="938.5" x2="772.4" y2="953.7" stroke="#9a9a9a" stroke-width="2.2" stroke-linecap="round"/>
<line x1="780.3" y1="938.9" x2="789.7" y2="952.8" stroke="#9a9a9a" stroke-width="2.2" stroke-linecap="round"/>
<line x1="780.3" y1="938.9" x2="772.4" y2="953.7" stroke="#9a9a9a" stroke-width="2.2" stroke-linecap="round"/>
<line x1="789.7" y1="952.8" x2="780.3" y2="967.9" stroke="#9a9a9a" stroke-width="2.2" stroke-linecap="round"/>
<line x1="789.7" y1="952.8" x2="772.4" y2="953.7" stroke="#9a9a9a" stroke-width="2.2" stroke-linecap="round"/>
<line x1="789.7" y1="952.8" x2="788.8" y2="967.0" stroke="#9a9a9a" stroke-width="2.2" stroke-linecap="round"/>
<line x1="780.3" y1="967.9" x2="772.4" y2="953.7" stroke="#9a9a9a" stroke-width="2.2" stroke-linecap="round"/>
<line x1="780.3" y1="967.9" x2="788.8" y2="967.0" stroke="#9a9a9a" stroke-width="2.2" stroke-linecap="round"/>
<line x1="772.4" y1="953.7" x2="765.1" y2="964.0" stroke="#9a9a9a" stroke-width="2.2" stroke-linecap="round"/>
<circle cx="763.9" cy="953.3" r="6.6" fill="url(#h_O)"/>
<circle cx="771.0" cy="938.5" r="6.6" fill="url(#h_N)"/>
<circle cx="780.3" cy="938.9" r="6.6" fill="url(#h_N)"/>
<circle cx="789.7" cy="952.8" r="6.6" fill="url(#h_N)"/>
<circle cx="780.3" cy="967.9" r="6.6" fill="url(#h_N)"/>
<circle cx="772.4" cy="953.7" r="6.6" fill="url(#h_C)"/>
<circle cx="788.8" cy="967.0" r="6.6" fill="url(#h_C)"/>
<circle cx="765.1" cy="964.0" r="3.6" fill="url(#h_H)"/>
<circle cx="796.8" cy="978.6" r="3.6" fill="url(#h_H)"/>
<line x1="815.2" y1="927.8" x2="823.0" y2="936.7" stroke="#9a9a9a" stroke-width="2.2" stroke-linecap="round"/>
<line x1="823.0" y1="936.7" x2="837.5" y2="931.4" stroke="#9a9a9a" stroke-width="2.2" stroke-linecap="round"/>
<line x1="823.0" y1="936.7" x2="821.8" y2="952.8" stroke="#9a9a9a" stroke-width="2.2" stroke-linecap="round"/>
<line x1="837.5" y1="931.4" x2="845.5" y2="943.9" stroke="#9a9a9a" stroke-width="2.2" stroke-linecap="round"/>
<line x1="845.5" y1="943.9" x2="858.7" y2="947.8" stroke="#9a9a9a" stroke-width="2.2" stroke-linecap="round"/>
<line x1="845.5" y1="943.9" x2="835.7" y2="957.2" stroke="#9a9a9a" stroke-width="2.2" stroke-linecap="round"/>
<line x1="858.7" y1="947.8" x2="856.9" y2="963.5" stroke="#9a9a9a" stroke-width="2.2" stroke-linecap="round"/>
<line x1="856.9" y1="963.5" x2="866.4" y2="969.2" stroke="#9a9a9a" stroke-width="2.2" stroke-linecap="round"/>
<line x1="856.9" y1="963.5" x2="843.5" y2="969.7" stroke="#9a9a9a" stroke-width="2.2" stroke-linecap="round"/>
<line x1="843.5" y1="969.7" x2="835.7" y2="957.2" stroke="#9a9a9a" stroke-width="2.2" stroke-linecap="round"/>
<line x1="835.7" y1="957.2" x2="821.8" y2="952.8" stroke="#9a9a9a" stroke-width="2.2" stroke-linecap="round"/>
<circle cx="815.2" cy="927.8" r="3.6" fill="url(#h_H)"/>
<circle cx="823.0" cy="936.7" r="6.6" fill="url(#h_C)"/>
<circle cx="837.5" cy="931.4" r="6.6" fill="url(#h_O)"/>
<circle cx="845.5" cy="943.9" r="6.6" fill="url(#h_C)"/>
<circle cx="858.7" cy="947.8" r="6.6" fill="url(#h_O)"/>
<circle cx="856.9" cy="963.5" r="6.6" fill="url(#h_C)"/>
<circle cx="866.4" cy="969.2" r="3.6" fill="url(#h_H)"/>
<circle cx="843.5" cy="969.7" r="6.6" fill="url(#h_N)"/>
<circle cx="835.7" cy="957.2" r="6.6" fill="url(#h_C)"/>
<circle cx="821.8" cy="952.8" r="6.6" fill="url(#h_N)"/>
<line x1="762.6" y1="997.7" x2="777.4" y2="997.0" stroke="#9a9a9a" stroke-width="2.2" stroke-linecap="round"/>
<line x1="762.6" y1="997.7" x2="757.1" y2="1005.4" stroke="#9a9a9a" stroke-width="2.2" stroke-linecap="round"/>
<line x1="762.6" y1="997.7" x2="767.1" y2="1017.0" stroke="#9a9a9a" stroke-width="2.2" stroke-linecap="round"/>
<line x1="777.4" y1="997.0" x2="793.3" y2="1004.5" stroke="#9a9a9a" stroke-width="2.2" stroke-linecap="round"/>
<line x1="757.1" y1="1005.4" x2="767.1" y2="1017.0" stroke="#9a9a9a" stroke-width="2.2" stroke-linecap="round"/>
<line x1="793.3" y1="1004.5" x2="806.6" y2="1002.3" stroke="#9a9a9a" stroke-width="2.2" stroke-linecap="round"/>
<line x1="793.3" y1="1004.5" x2="796.3" y2="1017.8" stroke="#9a9a9a" stroke-width="2.2" stroke-linecap="round"/>
<line x1="806.6" y1="1002.3" x2="796.3" y2="1017.8" stroke="#9a9a9a" stroke-width="2.2" stroke-linecap="round"/>
<line x1="767.1" y1="1017.0" x2="760.7" y2="1022.3" stroke="#9a9a9a" stroke-width="2.2" stroke-linecap="round"/>
<line x1="767.1" y1="1017.0" x2="784.4" y2="1022.7" stroke="#9a9a9a" stroke-width="2.2" stroke-linecap="round"/>
<line x1="784.4" y1="1022.7" x2="796.3" y2="1017.8" stroke="#9a9a9a" stroke-width="2.2" stroke-linecap="round"/>
<line x1="784.4" y1="1022.7" x2="788.5" y2="1034.8" stroke="#9a9a9a" stroke-width="2.2" stroke-linecap="round"/>
<line x1="796.3" y1="1017.8" x2="812.9" y2="1025.0" stroke="#9a9a9a" stroke-width="2.2" stroke-linecap="round"/>
<line x1="796.3" y1="1017.8" x2="788.5" y2="1034.8" stroke="#9a9a9a" stroke-width="2.2" stroke-linecap="round"/>
<line x1="820.6" y1="1019.6" x2="812.9" y2="1025.0" stroke="#9a9a9a" stroke-width="2.2" stroke-linecap="round"/>
<line x1="788.5" y1="1034.8" x2="800.9" y2="1038.0" stroke="#9a9a9a" stroke-width="2.2" stroke-linecap="round"/>
<circle cx="762.6" cy="997.7" r="6.6" fill="url(#h_O)"/>
<circle cx="777.4" cy="997.0" r="6.6" fill="url(#h_O)"/>
<circle cx="757.1" cy="1005.4" r="6.6" fill="url(#h_N)"/>
<circle cx="793.3" cy="1004.5" r="6.6" fill="url(#h_C)"/>
<circle cx="806.6" cy="1002.3" r="6.6" fill="url(#h_O)"/>
<circle cx="767.1" cy="1017.0" r="6.6" fill="url(#h_C)"/>
<circle cx="760.7" cy="1022.3" r="3.6" fill="url(#h_H)"/>
<circle cx="784.4" cy="1022.7" r="6.6" fill="url(#h_C)"/>
<circle cx="796.3" cy="1017.8" r="6.6" fill="url(#h_C)"/>
<circle cx="820.6" cy="1019.6" r="3.6" fill="url(#h_H)"/>
<circle cx="812.9" cy="1025.0" r="6.6" fill="url(#h_O)"/>
<circle cx="788.5" cy="1034.8" r="6.6" fill="url(#h_O)"/>
<circle cx="800.9" cy="1038.0" r="3.6" fill="url(#h_H)"/>
<line x1="839.1" y1="984.0" x2="842.3" y2="994.7" stroke="#9a9a9a" stroke-width="2.2" stroke-linecap="round"/>
<line x1="842.3" y1="994.7" x2="832.5" y2="1002.3" stroke="#9a9a9a" stroke-width="2.2" stroke-linecap="round"/>
<line x1="842.3" y1="994.7" x2="857.1" y2="1000.9" stroke="#9a9a9a" stroke-width="2.2" stroke-linecap="round"/>
<line x1="857.1" y1="1000.9" x2="858.7" y2="1014.3" stroke="#9a9a9a" stroke-width="2.2" stroke-linecap="round"/>
<line x1="858.7" y1="1014.3" x2="846.8" y2="1021.4" stroke="#9a9a9a" stroke-width="2.2" stroke-linecap="round"/>
<line x1="858.7" y1="1014.3" x2="874.0" y2="1021.9" stroke="#9a9a9a" stroke-width="2.2" stroke-linecap="round"/>
<line x1="846.8" y1="1021.4" x2="854.8" y2="1035.7" stroke="#9a9a9a" stroke-width="2.2" stroke-linecap="round"/>
<line x1="874.0" y1="1021.9" x2="871.7" y2="1034.8" stroke="#9a9a9a" stroke-width="2.2" stroke-linecap="round"/>
<line x1="854.8" y1="1035.7" x2="871.7" y2="1034.8" stroke="#9a9a9a" stroke-width="2.2" stroke-linecap="round"/>
<line x1="871.7" y1="1034.8" x2="882.4" y2="1044.6" stroke="#9a9a9a" stroke-width="2.2" stroke-linecap="round"/>
<circle cx="839.1" cy="984.0" r="3.6" fill="url(#h_H)"/>
<circle cx="842.3" cy="994.7" r="6.6" fill="url(#h_C)"/>
<circle cx="832.5" cy="1002.3" r="6.6" fill="url(#h_O)"/>
<circle cx="857.1" cy="1000.9" r="6.6" fill="url(#h_O)"/>
<circle cx="858.7" cy="1014.3" r="6.6" fill="url(#h_C)"/>
<circle cx="833.4" cy="1019.6" r="3.6" fill="url(#h_H)"/>
<circle cx="846.8" cy="1021.4" r="6.6" fill="url(#h_C)"/>
<circle cx="874.0" cy="1021.9" r="6.6" fill="url(#h_O)"/>
<circle cx="854.8" cy="1035.7" r="6.6" fill="url(#h_O)"/>
<circle cx="871.7" cy="1034.8" r="6.6" fill="url(#h_C)"/>
<circle cx="882.4" cy="1044.6" r="6.6" fill="url(#h_O)"/>
<line x1="938.4" y1="957.8" x2="943.0" y2="966.7" stroke="#9a9a9a" stroke-width="1.6" stroke-linecap="round"/>
<line x1="934.1" y1="973.8" x2="943.0" y2="966.7" stroke="#9a9a9a" stroke-width="1.6" stroke-linecap="round"/>
<line x1="943.0" y1="966.7" x2="952.8" y2="975.1" stroke="#9a9a9a" stroke-width="1.6" stroke-linecap="round"/>
<line x1="943.0" y1="966.7" x2="954.1" y2="967.4" stroke="#9a9a9a" stroke-width="1.6" stroke-linecap="round"/>
<line x1="952.8" y1="975.1" x2="954.1" y2="967.4" stroke="#9a9a9a" stroke-width="1.6" stroke-linecap="round"/>
<line x1="952.8" y1="975.1" x2="966.6" y2="959.6" stroke="#9a9a9a" stroke-width="1.6" stroke-linecap="round"/>
<line x1="954.1" y1="967.4" x2="966.6" y2="959.6" stroke="#9a9a9a" stroke-width="1.6" stroke-linecap="round"/>
<line x1="966.6" y1="959.6" x2="970.5" y2="947.8" stroke="#9a9a9a" stroke-width="1.6" stroke-linecap="round"/>
<line x1="966.6" y1="959.6" x2="981.7" y2="957.8" stroke="#9a9a9a" stroke-width="1.6" stroke-linecap="round"/>
<line x1="963.5" y1="940.7" x2="970.5" y2="947.8" stroke="#9a9a9a" stroke-width="1.6" stroke-linecap="round"/>
<line x1="970.5" y1="947.8" x2="986.5" y2="947.8" stroke="#9a9a9a" stroke-width="1.6" stroke-linecap="round"/>
<line x1="970.5" y1="947.8" x2="981.7" y2="957.8" stroke="#9a9a9a" stroke-width="1.6" stroke-linecap="round"/>
<line x1="986.5" y1="947.8" x2="994.7" y2="957.8" stroke="#9a9a9a" stroke-width="1.6" stroke-linecap="round"/>
<line x1="986.5" y1="947.8" x2="981.7" y2="957.8" stroke="#9a9a9a" stroke-width="1.6" stroke-linecap="round"/>
<line x1="986.5" y1="947.8" x2="996.5" y2="936.7" stroke="#9a9a9a" stroke-width="1.6" stroke-linecap="round"/>
<line x1="994.7" y1="957.8" x2="981.7" y2="957.8" stroke="#9a9a9a" stroke-width="1.6" stroke-linecap="round"/>
<line x1="981.7" y1="957.8" x2="983.5" y2="963.1" stroke="#9a9a9a" stroke-width="1.6" stroke-linecap="round"/>
<line x1="988.8" y1="929.3" x2="996.5" y2="936.7" stroke="#9a9a9a" stroke-width="1.6" stroke-linecap="round"/>
<line x1="996.5" y1="936.7" x2="1004.4" y2="939.4" stroke="#9a9a9a" stroke-width="1.6" stroke-linecap="round"/>
<line x1="996.5" y1="936.7" x2="1007.2" y2="931.7" stroke="#9a9a9a" stroke-width="1.6" stroke-linecap="round"/>
<line x1="1004.4" y1="939.4" x2="1007.2" y2="931.7" stroke="#9a9a9a" stroke-width="1.6" stroke-linecap="round"/>
<line x1="1007.2" y1="931.7" x2="1014.3" y2="923.9" stroke="#9a9a9a" stroke-width="1.6" stroke-linecap="round"/>
<line x1="1007.2" y1="931.7" x2="1016.5" y2="938.9" stroke="#9a9a9a" stroke-width="1.6" stroke-linecap="round"/>
<circle cx="938.4" cy="957.8" r="2.7" fill="url(#h_H)"/>
<circle cx="934.1" cy="973.8" r="2.7" fill="url(#h_H)"/>
<circle cx="943.0" cy="966.7" r="4.9" fill="url(#h_C)"/>
<circle cx="952.8" cy="975.1" r="4.9" fill="url(#h_O)"/>
<circle cx="954.1" cy="967.4" r="4.9" fill="url(#h_C)"/>
<circle cx="966.6" cy="959.6" r="4.9" fill="url(#h_N)"/>
<circle cx="963.5" cy="940.7" r="2.7" fill="url(#h_H)"/>
<circle cx="970.5" cy="947.8" r="4.9" fill="url(#h_C)"/>
<circle cx="986.5" cy="947.8" r="4.9" fill="url(#h_C)"/>
<circle cx="994.7" cy="957.8" r="2.7" fill="url(#h_H)"/>
<circle cx="981.7" cy="957.8" r="4.9" fill="url(#h_C)"/>
<circle cx="983.5" cy="963.1" r="2.7" fill="url(#h_H)"/>
<circle cx="988.8" cy="929.3" r="2.7" fill="url(#h_H)"/>
<circle cx="996.5" cy="936.7" r="4.9" fill="url(#h_C)"/>
<circle cx="1004.4" cy="939.4" r="2.7" fill="url(#h_H)"/>
<circle cx="1007.2" cy="931.7" r="4.9" fill="url(#h_C)"/>
<circle cx="1014.3" cy="923.9" r="2.7" fill="url(#h_H)"/>
<circle cx="1016.5" cy="938.9" r="2.7" fill="url(#h_H)"/>
<line x1="1005.8" y1="970.6" x2="1012.0" y2="977.4" stroke="#9a9a9a" stroke-width="1.6" stroke-linecap="round"/>
<line x1="1007.2" y1="984.0" x2="1012.0" y2="977.4" stroke="#9a9a9a" stroke-width="1.6" stroke-linecap="round"/>
<line x1="1012.0" y1="977.4" x2="1028.4" y2="975.6" stroke="#9a9a9a" stroke-width="1.6" stroke-linecap="round"/>
<line x1="1029.5" y1="958.5" x2="1035.2" y2="966.1" stroke="#9a9a9a" stroke-width="1.6" stroke-linecap="round"/>
<line x1="1028.4" y1="975.6" x2="1034.7" y2="982.7" stroke="#9a9a9a" stroke-width="1.6" stroke-linecap="round"/>
<line x1="1028.4" y1="975.6" x2="1035.2" y2="966.1" stroke="#9a9a9a" stroke-width="1.6" stroke-linecap="round"/>
<line x1="1035.2" y1="966.1" x2="1050.7" y2="963.5" stroke="#9a9a9a" stroke-width="1.6" stroke-linecap="round"/>
<line x1="1050.7" y1="963.5" x2="1058.4" y2="971.5" stroke="#9a9a9a" stroke-width="1.6" stroke-linecap="round"/>
<line x1="1050.7" y1="963.5" x2="1053.0" y2="961.7" stroke="#9a9a9a" stroke-width="1.6" stroke-linecap="round"/>
<line x1="1050.7" y1="963.5" x2="1056.0" y2="954.9" stroke="#9a9a9a" stroke-width="1.6" stroke-linecap="round"/>
<line x1="1053.0" y1="961.7" x2="1056.0" y2="954.9" stroke="#9a9a9a" stroke-width="1.6" stroke-linecap="round"/>
<line x1="1056.0" y1="954.9" x2="1070.8" y2="952.4" stroke="#9a9a9a" stroke-width="1.6" stroke-linecap="round"/>
<line x1="1070.8" y1="952.4" x2="1078.5" y2="959.9" stroke="#9a9a9a" stroke-width="1.6" stroke-linecap="round"/>
<line x1="1070.8" y1="952.4" x2="1073.5" y2="951.4" stroke="#9a9a9a" stroke-width="1.6" stroke-linecap="round"/>
<line x1="1070.8" y1="952.4" x2="1074.9" y2="942.4" stroke="#9a9a9a" stroke-width="1.6" stroke-linecap="round"/>
<line x1="1070.8" y1="952.4" x2="1067.3" y2="931.7" stroke="#9a9a9a" stroke-width="1.6" stroke-linecap="round"/>
<line x1="1073.5" y1="951.4" x2="1074.9" y2="942.4" stroke="#9a9a9a" stroke-width="1.6" stroke-linecap="round"/>
<line x1="1074.9" y1="942.4" x2="1067.3" y2="931.7" stroke="#9a9a9a" stroke-width="1.6" stroke-linecap="round"/>
<line x1="1074.9" y1="942.4" x2="1071.7" y2="930.0" stroke="#9a9a9a" stroke-width="1.6" stroke-linecap="round"/>
<line x1="1074.9" y1="942.4" x2="1091.3" y2="940.7" stroke="#9a9a9a" stroke-width="1.6" stroke-linecap="round"/>
<line x1="1067.3" y1="931.7" x2="1070.0" y2="925.2" stroke="#9a9a9a" stroke-width="1.6" stroke-linecap="round"/>
<line x1="1067.3" y1="931.7" x2="1056.6" y2="933.2" stroke="#9a9a9a" stroke-width="1.6" stroke-linecap="round"/>
<line x1="1067.3" y1="931.7" x2="1071.7" y2="930.0" stroke="#9a9a9a" stroke-width="1.6" stroke-linecap="round"/>
<line x1="1091.3" y1="940.7" x2="1094.5" y2="934.1" stroke="#9a9a9a" stroke-width="1.6" stroke-linecap="round"/>
<line x1="1091.3" y1="940.7" x2="1097.6" y2="947.8" stroke="#9a9a9a" stroke-width="1.6" stroke-linecap="round"/>
<line x1="1091.3" y1="940.7" x2="1095.8" y2="939.4" stroke="#9a9a9a" stroke-width="1.6" stroke-linecap="round"/>
<circle cx="1005.8" cy="970.6" r="2.7" fill="url(#h_H)"/>
<circle cx="1007.2" cy="984.0" r="2.7" fill="url(#h_H)"/>
<circle cx="1012.0" cy="977.4" r="4.9" fill="url(#h_C)"/>
<circle cx="1029.5" cy="958.5" r="2.7" fill="url(#h_H)"/>
<circle cx="1028.4" cy="975.6" r="4.9" fill="url(#h_C)"/>
<circle cx="1034.7" cy="982.7" r="2.7" fill="url(#h_H)"/>
<circle cx="1035.2" cy="966.1" r="4.9" fill="url(#h_C)"/>
<circle cx="1050.7" cy="963.5" r="4.9" fill="url(#h_C)"/>
<circle cx="1058.4" cy="971.5" r="2.7" fill="url(#h_H)"/>
<circle cx="1053.0" cy="961.7" r="2.7" fill="url(#h_H)"/>
<circle cx="1056.0" cy="954.9" r="4.9" fill="url(#h_O)"/>
<circle cx="1070.8" cy="952.4" r="4.9" fill="url(#h_C)"/>
<circle cx="1078.5" cy="959.9" r="2.7" fill="url(#h_H)"/>
<circle cx="1073.5" cy="951.4" r="2.7" fill="url(#h_H)"/>
<circle cx="1074.9" cy="942.4" r="4.9" fill="url(#h_C)"/>
<circle cx="1067.3" cy="931.7" r="4.9" fill="url(#h_C)"/>
<circle cx="1070.0" cy="925.2" r="2.7" fill="url(#h_H)"/>
<circle cx="1056.6" cy="933.2" r="2.7" fill="url(#h_H)"/>
<circle cx="1071.7" cy="930.0" r="2.7" fill="url(#h_H)"/>
<circle cx="1091.3" cy="940.7" r="4.9" fill="url(#h_C)"/>
<circle cx="1094.5" cy="934.1" r="2.7" fill="url(#h_H)"/>
<circle cx="1097.6" cy="947.8" r="2.7" fill="url(#h_H)"/>
<circle cx="1095.8" cy="939.4" r="2.7" fill="url(#h_H)"/>
<line x1="984.7" y1="988.4" x2="982.2" y2="984.9" stroke="#9a9a9a" stroke-width="1.6" stroke-linecap="round"/>
<line x1="984.7" y1="988.4" x2="988.0" y2="977.4" stroke="#9a9a9a" stroke-width="1.6" stroke-linecap="round"/>
<line x1="984.7" y1="988.4" x2="986.5" y2="992.9" stroke="#9a9a9a" stroke-width="1.6" stroke-linecap="round"/>
<line x1="984.7" y1="988.4" x2="979.9" y2="1000.0" stroke="#9a9a9a" stroke-width="1.6" stroke-linecap="round"/>
<line x1="984.7" y1="988.4" x2="991.2" y2="997.3" stroke="#9a9a9a" stroke-width="1.6" stroke-linecap="round"/>
<line x1="982.2" y1="984.9" x2="988.0" y2="977.4" stroke="#9a9a9a" stroke-width="1.6" stroke-linecap="round"/>
<line x1="982.2" y1="984.9" x2="986.5" y2="992.9" stroke="#9a9a9a" stroke-width="1.6" stroke-linecap="round"/>
<line x1="982.2" y1="984.9" x2="979.9" y2="1000.0" stroke="#9a9a9a" stroke-width="1.6" stroke-linecap="round"/>
<line x1="986.5" y1="992.9" x2="979.9" y2="1000.0" stroke="#9a9a9a" stroke-width="1.6" stroke-linecap="round"/>
<line x1="971.9" y1="998.2" x2="979.9" y2="1000.0" stroke="#9a9a9a" stroke-width="1.6" stroke-linecap="round"/>
<line x1="979.9" y1="1000.0" x2="991.2" y2="997.3" stroke="#9a9a9a" stroke-width="1.6" stroke-linecap="round"/>
<line x1="979.9" y1="1000.0" x2="981.7" y2="1014.3" stroke="#9a9a9a" stroke-width="1.6" stroke-linecap="round"/>
<line x1="981.7" y1="1014.3" x2="988.8" y2="1017.8" stroke="#9a9a9a" stroke-width="1.6" stroke-linecap="round"/>
<line x1="981.7" y1="1014.3" x2="966.6" y2="1020.2" stroke="#9a9a9a" stroke-width="1.6" stroke-linecap="round"/>
<line x1="959.1" y1="1015.2" x2="966.6" y2="1020.2" stroke="#9a9a9a" stroke-width="1.6" stroke-linecap="round"/>
<line x1="966.6" y1="1020.2" x2="964.4" y2="1032.1" stroke="#9a9a9a" stroke-width="1.6" stroke-linecap="round"/>
<line x1="966.6" y1="1020.2" x2="955.5" y2="1038.0" stroke="#9a9a9a" stroke-width="1.6" stroke-linecap="round"/>
<line x1="975.5" y1="1036.2" x2="964.4" y2="1032.1" stroke="#9a9a9a" stroke-width="1.6" stroke-linecap="round"/>
<line x1="964.4" y1="1032.1" x2="955.5" y2="1038.0" stroke="#9a9a9a" stroke-width="1.6" stroke-linecap="round"/>
<line x1="944.8" y1="1034.8" x2="955.5" y2="1038.0" stroke="#9a9a9a" stroke-width="1.6" stroke-linecap="round"/>
<line x1="955.5" y1="1038.0" x2="954.4" y2="1047.3" stroke="#9a9a9a" stroke-width="1.6" stroke-linecap="round"/>
<circle cx="968.7" cy="984.5" r="2.7" fill="url(#h_H)"/>
<circle cx="984.7" cy="988.4" r="4.9" fill="url(#h_O)"/>
<circle cx="982.2" cy="984.9" r="4.9" fill="url(#h_C)"/>
<circle cx="988.0" cy="977.4" r="2.7" fill="url(#h_H)"/>
<circle cx="986.5" cy="992.9" r="2.7" fill="url(#h_H)"/>
<circle cx="971.9" cy="998.2" r="2.7" fill="url(#h_H)"/>
<circle cx="979.9" cy="1000.0" r="4.9" fill="url(#h_C)"/>
<circle cx="991.2" cy="997.3" r="2.7" fill="url(#h_H)"/>
<circle cx="999.0" cy="1014.3" r="2.7" fill="url(#h_H)"/>
<circle cx="981.7" cy="1014.3" r="4.9" fill="url(#h_C)"/>
<circle cx="988.8" cy="1017.8" r="2.7" fill="url(#h_H)"/>
<circle cx="988.3" cy="1026.8" r="2.7" fill="url(#h_H)"/>
<circle cx="959.1" cy="1015.2" r="2.7" fill="url(#h_H)"/>
<circle cx="966.6" cy="1020.2" r="4.9" fill="url(#h_N)"/>
<circle cx="975.5" cy="1036.2" r="2.7" fill="url(#h_H)"/>
<circle cx="964.4" cy="1032.1" r="4.9" fill="url(#h_C)"/>
<circle cx="944.8" cy="1034.8" r="2.7" fill="url(#h_H)"/>
<circle cx="955.5" cy="1038.0" r="4.9" fill="url(#h_C)"/>
<circle cx="954.4" cy="1047.3" r="2.7" fill="url(#h_H)"/>
<line x1="1015.6" y1="1012.5" x2="1019.7" y2="1020.9" stroke="#9a9a9a" stroke-width="1.6" stroke-linecap="round"/>
<line x1="1012.0" y1="1024.1" x2="1019.7" y2="1020.9" stroke="#9a9a9a" stroke-width="1.6" stroke-linecap="round"/>
<line x1="1019.7" y1="1020.9" x2="1019.1" y2="1027.6" stroke="#9a9a9a" stroke-width="1.6" stroke-linecap="round"/>
<line x1="1019.7" y1="1020.9" x2="1037.9" y2="1017.8" stroke="#9a9a9a" stroke-width="1.6" stroke-linecap="round"/>
<line x1="1035.2" y1="1002.7" x2="1040.5" y2="1010.7" stroke="#9a9a9a" stroke-width="1.6" stroke-linecap="round"/>
<line x1="1040.5" y1="1010.7" x2="1037.9" y2="1017.8" stroke="#9a9a9a" stroke-width="1.6" stroke-linecap="round"/>
<line x1="1040.5" y1="1010.7" x2="1045.0" y2="1017.0" stroke="#9a9a9a" stroke-width="1.6" stroke-linecap="round"/>
<line x1="1040.5" y1="1010.7" x2="1059.3" y2="1009.5" stroke="#9a9a9a" stroke-width="1.6" stroke-linecap="round"/>
<line x1="1037.9" y1="1017.8" x2="1045.0" y2="1017.0" stroke="#9a9a9a" stroke-width="1.6" stroke-linecap="round"/>
<line x1="1037.9" y1="1017.8" x2="1042.9" y2="1029.1" stroke="#9a9a9a" stroke-width="1.6" stroke-linecap="round"/>
<line x1="1057.1" y1="993.4" x2="1063.7" y2="1002.7" stroke="#9a9a9a" stroke-width="1.6" stroke-linecap="round"/>
<line x1="1063.7" y1="1002.7" x2="1059.3" y2="1009.5" stroke="#9a9a9a" stroke-width="1.6" stroke-linecap="round"/>
<line x1="1063.7" y1="1002.7" x2="1059.3" y2="1008.4" stroke="#9a9a9a" stroke-width="1.6" stroke-linecap="round"/>
<line x1="1063.7" y1="1002.7" x2="1082.4" y2="999.1" stroke="#9a9a9a" stroke-width="1.6" stroke-linecap="round"/>
<line x1="1059.3" y1="1009.5" x2="1059.3" y2="1008.4" stroke="#9a9a9a" stroke-width="1.6" stroke-linecap="round"/>
<line x1="1059.3" y1="1009.5" x2="1066.4" y2="1017.8" stroke="#9a9a9a" stroke-width="1.6" stroke-linecap="round"/>
<line x1="1082.4" y1="999.1" x2="1091.0" y2="1007.1" stroke="#9a9a9a" stroke-width="1.6" stroke-linecap="round"/>
<line x1="1082.4" y1="999.1" x2="1086.9" y2="986.3" stroke="#9a9a9a" stroke-width="1.6" stroke-linecap="round"/>
<line x1="1082.4" y1="999.1" x2="1089.6" y2="990.2" stroke="#9a9a9a" stroke-width="1.6" stroke-linecap="round"/>
<line x1="1086.9" y1="986.3" x2="1089.6" y2="990.2" stroke="#9a9a9a" stroke-width="1.6" stroke-linecap="round"/>
<line x1="1086.9" y1="986.3" x2="1100.3" y2="984.9" stroke="#9a9a9a" stroke-width="1.6" stroke-linecap="round"/>
<line x1="1089.6" y1="990.2" x2="1100.3" y2="984.9" stroke="#9a9a9a" stroke-width="1.6" stroke-linecap="round"/>
<line x1="1105.6" y1="976.3" x2="1100.3" y2="984.9" stroke="#9a9a9a" stroke-width="1.6" stroke-linecap="round"/>
<line x1="1100.3" y1="984.9" x2="1111.3" y2="992.0" stroke="#9a9a9a" stroke-width="1.6" stroke-linecap="round"/>
<line x1="1100.3" y1="984.9" x2="1103.8" y2="990.6" stroke="#9a9a9a" stroke-width="1.6" stroke-linecap="round"/>
<circle cx="1015.6" cy="1012.5" r="2.7" fill="url(#h_H)"/>
<circle cx="1012.0" cy="1024.1" r="2.7" fill="url(#h_H)"/>
<circle cx="1019.7" cy="1020.9" r="4.9" fill="url(#h_C)"/>
<circle cx="1019.1" cy="1027.6" r="2.7" fill="url(#h_H)"/>
<circle cx="1035.2" cy="1002.7" r="2.7" fill="url(#h_H)"/>
<circle cx="1040.5" cy="1010.7" r="4.9" fill="url(#h_C)"/>
<circle cx="1037.9" cy="1017.8" r="4.9" fill="url(#h_C)"/>
<circle cx="1045.0" cy="1017.0" r="2.7" fill="url(#h_H)"/>
<circle cx="1042.9" cy="1029.1" r="2.7" fill="url(#h_H)"/>
<circle cx="1057.1" cy="993.4" r="2.7" fill="url(#h_H)"/>
<circle cx="1063.7" cy="1002.7" r="4.9" fill="url(#h_C)"/>
<circle cx="1059.3" cy="1009.5" r="4.9" fill="url(#h_C)"/>
<circle cx="1059.3" cy="1008.4" r="2.7" fill="url(#h_H)"/>
<circle cx="1066.4" cy="1017.8" r="2.7" fill="url(#h_H)"/>
<circle cx="1082.4" cy="999.1" r="4.9" fill="url(#h_C)"/>
<circle cx="1091.0" cy="1007.1" r="2.7" fill="url(#h_H)"/>
<circle cx="1086.9" cy="986.3" r="4.9" fill="url(#h_N)"/>
<circle cx="1089.6" cy="990.2" r="4.9" fill="url(#h_C)"/>
<circle cx="1105.6" cy="976.3" r="2.7" fill="url(#h_H)"/>
<circle cx="1100.3" cy="984.9" r="4.9" fill="url(#h_C)"/>
<circle cx="1111.3" cy="992.0" r="2.7" fill="url(#h_H)"/>
<circle cx="1103.8" cy="990.6" r="2.7" fill="url(#h_H)"/>
</g>
<line x1="748.4" y1="1061.2" x2="1112" y2="1061.2" stroke="#000" stroke-width="2.3"/>
<path d="M1112.5,1055 L1126,1061.2 L1112.5,1067.4 Z" fill="#000"/>
<!-- panel labels & titles -->
<g fill="#000">
<text id="la" class="b" x="6.7" y="34.5" font-size="26.3">(a)</text>
<text id="lb" class="b" x="680.4" y="34.5" font-size="26.5">(b)</text>
<text id="lc" class="b" x="6.7" y="403" font-size="28">(c)</text>
<text id="ld" class="b" x="394" y="404" font-size="28">(d)</text>
<text id="le" class="b" x="753.5" y="402.5" font-size="28">(e)</text>
<text id="lf" class="b" x="7" y="708" font-size="28">(f)</text>
<text id="lg" class="b" x="726.5" y="707" font-size="28">(g)</text>
<text id="lh" class="b" x="725" y="894" font-size="28.5">(h)</text>
<text id="t_search" class="b" x="324.5" y="357" font-size="29.6" text-anchor="middle" fill="#1a2a80">Search space for TFG</text>
<text id="t_inp" class="b" x="192.5" y="422" font-size="27.6" text-anchor="middle">Audio inpainting</text>
<text id="t_dec" class="b" x="575.4" y="422" font-size="27.6" text-anchor="middle">Audio declipping</text>
<text id="t_comb" class="b" x="959.7" y="422" font-size="27.9" text-anchor="middle">Combined guidance</text>
<text id="t_style" class="b" x="372" y="708" font-size="27.6" text-anchor="middle">Style transfer</text>
<text id="t_fine" class="b" x="947.4" y="707" font-size="27.6" text-anchor="middle">Fine-grained generation</text>
<text id="t_quant" class="b" x="945" y="894" font-size="27.9" text-anchor="middle">Quantum property guidance</text>
</g>
<g fill="#000" class="bi" font-size="19.6">
<text id="s_lost" x="185.4" y="454" text-anchor="middle">Lost frames</text>
<text id="s_inp" x="197.9" y="546">inpaint with TFG</text>
<text id="s_dec" x="611.7" y="546">declip with TFG</text>
<text id="s_more" x="569.8" y="611.6" text-anchor="middle" font-size="21.3">More low and high frequency</text>
<text id="s_gender" x="959.8" y="461.2" text-anchor="middle" font-size="19.8">(gender, hair color)=(man, blond)</text>
<text id="s_starry" x="107.8" y="803" text-anchor="middle">“The Starry Night”</text>
<text id="s_styleimg" x="109" y="1023.4" text-anchor="middle">Style image</text>
<text id="s_truck" x="317.7" y="744" text-anchor="middle">A pickup truck</text>
<text id="s_canal" x="473.7" y="744" text-anchor="middle">A canal in Venice</text>
<text id="s_towel" x="622.6" y="745.2" text-anchor="middle">A white towel</text>
<text id="s_lib1" x="317.7" y="1081.8" text-anchor="middle">The Statue of Liberty</text>
<text id="s_lib2" x="317.7" y="1105.8" text-anchor="middle">in Minecraft</text>
<text id="s_con1" x="473.7" y="1081.8" text-anchor="middle">Concentric</text>
<text id="s_con2" x="473.7" y="1105.8" text-anchor="middle">circle</text>
<text id="s_ele" x="622.6" y="1081.8" text-anchor="middle">An Elephant</text>
<text id="s_bird" x="940.5" y="745.5" text-anchor="middle" font-size="19.85">Fine-grained bird spieces = “fairy tern”</text>
<text id="s_low" x="730.2" y="1088">Low polarizability</text>
<text id="s_high" x="975" y="1088">High polarizability</text>
</g>

</svg>
</body></html>
